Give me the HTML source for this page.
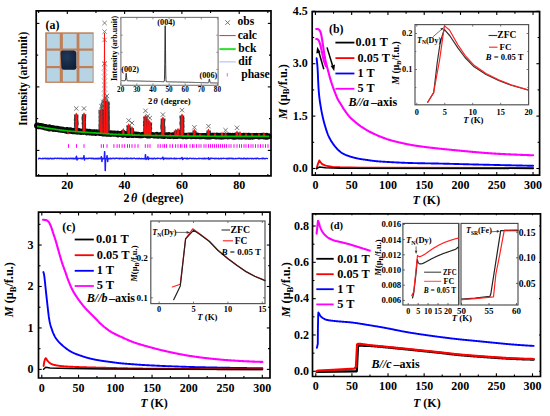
<!DOCTYPE html>
<html><head><meta charset="utf-8"><style>
html,body{margin:0;padding:0;background:#fff;width:550px;height:416px;overflow:hidden;}
svg{display:block;}
text{font-family:"Liberation Serif",serif;font-weight:bold;}
</style></head><body>
<svg width="550" height="416" viewBox="0 0 550 416"><rect width="550" height="416" fill="#fff"/><polyline points="37.00,125.63 37.60,125.58 38.20,126.15 38.80,125.74 39.40,126.26 40.00,126.22 40.60,126.05 41.20,126.56 41.80,126.25 42.40,126.71 43.00,126.49 43.60,126.61 44.20,127.01 44.80,127.48 45.40,126.95 46.00,127.14 46.60,127.60 47.20,127.98 47.80,127.75 48.40,127.68 49.00,128.30 49.60,127.55 50.20,128.38 50.80,127.96 51.40,127.92 52.00,127.98 52.60,128.25 53.20,128.80 53.80,128.31 54.40,128.77 55.00,128.91 55.60,128.76 56.20,129.00 56.80,128.66 57.40,128.74 58.00,128.96 58.60,129.47 59.20,129.33 59.80,129.31 60.40,129.64 61.00,129.60 61.60,129.54 62.20,130.07 62.80,130.06 63.40,129.73 64.00,130.10 64.60,130.13 65.20,130.51 65.80,130.45 66.40,130.12 67.00,130.81 67.60,130.10 68.20,130.43 68.80,130.80 69.40,130.31 70.00,130.67 70.60,130.32 71.20,130.94 71.80,131.08 72.40,130.96 73.00,131.29 73.60,130.83 74.20,131.23 74.80,131.19 75.40,131.22 76.00,131.16 76.60,131.55 77.20,131.69 77.80,131.31 78.40,131.53 79.00,131.03 79.60,131.65 80.20,131.65 80.80,132.00 81.40,131.89 82.00,131.45 82.60,131.58 83.20,131.88 83.80,131.34 84.40,131.77 85.00,131.55 85.60,131.54 86.20,131.53 86.80,132.21 87.40,131.68 88.00,131.82 88.60,131.99 89.20,132.47 89.80,131.79 90.40,132.17 91.00,132.30 91.60,132.64 92.20,132.62 92.80,132.70 93.40,132.22 94.00,132.38 94.60,132.37 95.20,132.89 95.80,133.00 96.40,132.32 97.00,132.38 97.60,132.48 98.20,132.52 98.80,132.80 99.40,132.94 100.00,132.69 100.60,132.50 101.20,132.92 101.80,132.93 102.40,133.15 103.00,133.55 103.60,133.36 104.20,133.25 104.80,133.39 105.40,133.48 106.00,132.97 106.60,133.78 107.20,133.72 107.80,133.85 108.40,133.82 109.00,133.50 109.60,133.55 110.20,133.33 110.80,133.85 111.40,133.37 112.00,133.42 112.60,133.58 113.20,133.58 113.80,133.78 114.40,133.55 115.00,133.54 115.60,133.71 116.20,133.69 116.80,133.96 117.40,133.69 118.00,134.48 118.60,134.27 119.20,133.88 119.80,133.99 120.40,134.11 121.00,134.15 121.60,133.95 122.20,134.63 122.80,134.78 123.40,134.33 124.00,134.37 124.60,134.04 125.20,134.08 125.80,134.32 126.40,134.27 127.00,134.80 127.60,134.22 128.20,134.12 128.80,134.97 129.40,134.61 130.00,134.29 130.60,134.67 131.20,134.22 131.80,134.69 132.40,135.12 133.00,135.04 133.60,134.90 134.20,134.53 134.80,134.65 135.40,134.49 136.00,135.05 136.60,134.85 137.20,135.09 137.80,134.70 138.40,134.63 139.00,135.17 139.60,135.35 140.20,135.24 140.80,135.22 141.40,135.25 142.00,135.19 142.60,134.75 143.20,135.02 143.80,134.89 144.40,134.62 145.00,134.63 145.60,134.87 146.20,134.87 146.80,135.27 147.40,135.52 148.00,135.08 148.60,135.54 149.20,135.60 149.80,135.58 150.40,135.06 151.00,134.95 151.60,134.97 152.20,134.95 152.80,134.97 153.40,135.36 154.00,135.62 154.60,135.58 155.20,135.27 155.80,135.44 156.40,135.58 157.00,134.95 157.60,135.48 158.20,135.72 158.80,135.62 159.40,135.60 160.00,135.37 160.60,135.11 161.20,135.67 161.80,135.27 162.40,135.70 163.00,135.87 163.60,135.36 164.20,135.38 164.80,135.88 165.40,135.70 166.00,135.21 166.60,135.18 167.20,135.21 167.80,135.90 168.40,135.83 169.00,135.24 169.60,135.87 170.20,136.02 170.80,135.74 171.40,135.47 172.00,135.66 172.60,135.29 173.20,135.20 173.80,136.07 174.40,135.79 175.00,135.69 175.60,136.07 176.20,135.63 176.80,136.03 177.40,136.00 178.00,135.46 178.60,135.51 179.20,135.55 179.80,135.51 180.40,135.83 181.00,135.55 181.60,135.70 182.20,135.45 182.80,136.16 183.40,135.67 184.00,135.77 184.60,135.89 185.20,136.19 185.80,135.76 186.40,136.22 187.00,135.85 187.60,135.89 188.20,135.89 188.80,135.44 189.40,135.83 190.00,135.60 190.60,135.45 191.20,136.17 191.80,135.61 192.40,135.89 193.00,136.12 193.60,135.98 194.20,135.78 194.80,135.96 195.40,135.99 196.00,136.21 196.60,135.60 197.20,136.01 197.80,135.74 198.40,135.77 199.00,136.22 199.60,135.99 200.20,136.04 200.80,136.22 201.40,136.36 202.00,135.94 202.60,136.10 203.20,136.01 203.80,136.02 204.40,136.18 205.00,135.97 205.60,136.05 206.20,136.00 206.80,136.42 207.40,136.21 208.00,136.37 208.60,136.43 209.20,135.82 209.80,136.10 210.40,136.45 211.00,136.36 211.60,135.73 212.20,135.72 212.80,136.01 213.40,135.68 214.00,135.84 214.60,135.69 215.20,136.23 215.80,136.34 216.40,136.44 217.00,135.78 217.60,136.29 218.20,136.24 218.80,135.78 219.40,136.45 220.00,136.53 220.60,135.86 221.20,136.52 221.80,136.02 222.40,136.11 223.00,136.56 223.60,136.42 224.20,135.82 224.80,136.07 225.40,136.15 226.00,135.99 226.60,135.87 227.20,135.98 227.80,136.35 228.40,135.72 229.00,136.20 229.60,136.10 230.20,135.73 230.80,136.01 231.40,136.28 232.00,136.18 232.60,135.78 233.20,136.61 233.80,136.44 234.40,136.61 235.00,135.83 235.60,135.98 236.20,135.77 236.80,136.44 237.40,135.99 238.00,135.86 238.60,136.13 239.20,136.57 239.80,136.49 240.40,135.99 241.00,135.90 241.60,136.59 242.20,136.28 242.80,136.40 243.40,135.85 244.00,135.83 244.60,136.40 245.20,136.16 245.80,135.85 246.40,136.63 247.00,136.36 247.60,136.51 248.20,135.87 248.80,136.56 249.40,135.85 250.00,136.57 250.60,136.21 251.20,136.11 251.80,136.30 252.40,136.64 253.00,136.05 253.60,135.93 254.20,136.29 254.80,136.03 255.40,135.91 256.00,135.96 256.60,135.86 257.20,136.00 257.80,136.10 258.40,136.10 259.00,136.51 259.60,136.09 260.20,136.28 260.80,135.99 261.40,136.14 262.00,135.85 262.60,136.06 263.20,135.85 263.80,136.50 264.40,136.34 265.00,136.01 265.60,136.27 266.20,136.69 266.80,135.94 267.40,136.58 268.00,136.24 268.60,136.29" fill="none" stroke="#0a0a0a" stroke-width="6.0" stroke-linejoin="round" stroke-linecap="round" />
<path d="M73.90,114.50 L74.16,115.93 L74.10,117.36 L73.99,118.79 L73.81,120.22 L74.19,121.65 L73.90,123.08 L73.98,124.51 L74.02,125.94 L74.16,127.36 L74.19,128.79 L74.37,130.22 L74.32,131.65 L78.24,131.65 L78.64,130.22 L78.35,128.79 L78.30,127.36 L78.25,125.94 L78.70,124.51 L78.72,123.08 L78.60,121.65 L78.37,120.22 L78.35,118.79 L78.38,117.36 L78.48,115.93 L78.29,114.50 Z" fill="#1a1a1a" opacity="0.88"/>
<path d="M81.83,114.30 L81.94,115.79 L81.52,117.28 L81.52,118.77 L81.77,120.27 L81.95,121.76 L81.52,123.25 L81.91,124.74 L81.89,126.23 L82.10,127.72 L81.87,129.22 L81.82,130.71 L81.80,132.20 L86.02,132.20 L86.20,130.71 L85.90,129.22 L86.06,127.72 L85.95,126.23 L86.14,124.74 L85.93,123.25 L85.91,121.76 L86.08,120.27 L86.04,118.77 L86.25,117.28 L86.22,115.79 L86.35,114.30 Z" fill="#1a1a1a" opacity="0.88"/>
<path d="M98.41,109.80 L98.37,111.28 L98.27,112.75 L98.57,114.23 L98.60,115.70 L98.21,117.18 L98.71,118.65 L98.37,120.13 L98.41,121.60 L98.77,123.08 L98.30,124.55 L98.26,126.03 L98.42,127.50 L98.36,128.98 L98.31,130.45 L98.72,131.93 L98.49,133.40 L104.30,133.40 L104.50,131.93 L104.48,130.45 L104.50,128.98 L104.35,127.50 L104.54,126.03 L104.41,124.55 L104.42,123.08 L104.14,121.60 L104.02,120.13 L104.08,118.65 L104.22,117.18 L104.06,115.70 L104.50,114.23 L104.34,112.75 L104.38,111.28 L104.38,109.80 Z" fill="#333" opacity="0.75"/>
<path d="M103.89,101.50 L104.01,102.97 L104.30,104.44 L103.82,105.91 L103.85,107.38 L104.00,108.85 L103.98,110.31 L103.90,111.78 L104.26,113.25 L103.86,114.72 L104.15,116.19 L104.26,117.66 L104.14,119.13 L103.86,120.60 L104.18,122.07 L103.86,123.54 L103.71,125.01 L104.00,126.48 L104.07,127.94 L104.01,129.41 L103.89,130.88 L103.84,132.35 L103.93,133.82 L109.89,133.82 L109.55,132.35 L109.59,130.88 L109.65,129.41 L109.95,127.94 L109.68,126.48 L109.84,125.01 L109.51,123.54 L109.54,122.07 L109.66,120.60 L109.90,119.13 L109.92,117.66 L109.91,116.19 L109.67,114.72 L109.81,113.25 L109.78,111.78 L109.78,110.31 L109.57,108.85 L110.04,107.38 L109.62,105.91 L110.09,104.44 L110.06,102.97 L109.51,101.50 Z" fill="#333" opacity="0.75"/>
<path d="M121.31,129.90 L121.10,131.10 L121.01,132.31 L121.32,133.51 L121.43,134.71 L125.14,134.71 L125.58,133.51 L125.14,132.31 L125.36,131.10 L125.10,129.90 Z" fill="#1a1a1a" opacity="0.88"/>
<path d="M126.49,125.20 L126.23,126.59 L126.72,127.97 L126.31,129.36 L126.49,130.75 L126.27,132.13 L126.38,133.52 L126.66,134.90 L131.14,134.90 L130.89,133.52 L130.61,132.13 L130.60,130.75 L130.90,129.36 L130.87,127.97 L130.78,126.59 L130.68,125.20 Z" fill="#1a1a1a" opacity="0.88"/>
<path d="M130.08,127.90 L130.10,129.32 L129.79,130.74 L130.29,132.17 L129.84,133.59 L129.79,135.01 L133.78,135.01 L134.27,133.59 L134.14,132.17 L134.25,130.74 L133.88,129.32 L133.93,127.90 Z" fill="#1a1a1a" opacity="0.88"/>
<path d="M133.13,135.30 L132.77,135.09 L136.38,135.09 L136.25,135.30 Z" fill="#1a1a1a" opacity="0.88"/>
<path d="M143.15,116.40 L143.24,117.86 L143.38,119.32 L143.35,120.78 L142.91,122.24 L143.24,123.70 L142.85,125.16 L143.26,126.62 L143.25,128.08 L143.10,129.54 L143.30,131.00 L143.19,132.46 L142.84,133.92 L142.88,135.38 L148.08,135.38 L147.97,133.92 L148.14,132.46 L148.15,131.00 L147.92,129.54 L148.02,128.08 L147.62,126.62 L148.03,125.16 L147.86,123.70 L148.04,122.24 L147.98,120.78 L147.76,119.32 L147.62,117.86 L148.15,116.40 Z" fill="#1a1a1a" opacity="0.88"/>
<path d="M145.82,120.60 L145.62,122.08 L145.69,123.57 L145.72,125.05 L145.46,126.53 L145.31,128.02 L145.74,129.50 L145.51,130.98 L145.72,132.47 L145.57,133.95 L145.66,135.43 L149.80,135.43 L149.80,133.95 L149.82,132.47 L150.24,130.98 L150.00,129.50 L149.83,128.02 L150.24,126.53 L150.30,125.05 L149.97,123.57 L149.78,122.08 L149.82,120.60 Z" fill="#1a1a1a" opacity="0.88"/>
<path d="M147.85,122.50 L147.69,123.94 L147.85,125.38 L147.76,126.83 L147.74,128.27 L147.56,129.71 L147.37,131.15 L147.45,132.59 L147.65,134.03 L147.65,135.48 L152.01,135.48 L151.93,134.03 L151.90,132.59 L151.74,131.15 L151.87,129.71 L152.28,128.27 L151.78,126.83 L152.00,125.38 L152.08,123.94 L152.22,122.50 Z" fill="#1a1a1a" opacity="0.88"/>
<path d="M160.68,118.50 L160.65,119.94 L160.66,121.37 L160.57,122.81 L160.54,124.24 L160.24,125.68 L160.30,127.11 L160.29,128.55 L160.80,129.98 L160.79,131.42 L160.38,132.86 L160.27,134.29 L160.53,135.73 L165.34,135.73 L164.99,134.29 L165.22,132.86 L165.55,131.42 L165.49,129.98 L165.50,128.55 L165.57,127.11 L165.14,125.68 L165.06,124.24 L165.08,122.81 L165.30,121.37 L165.40,119.94 L165.55,118.50 Z" fill="#1a1a1a" opacity="0.88"/>
<path d="M168.25,135.50 L168.29,135.85 L172.18,135.85 L171.99,135.50 Z" fill="#1a1a1a" opacity="0.88"/>
<path d="M173.56,130.70 L173.87,132.01 L173.42,133.32 L173.75,134.63 L173.34,135.94 L177.70,135.94 L177.49,134.63 L177.39,133.32 L177.46,132.01 L177.69,130.70 Z" fill="#1a1a1a" opacity="0.88"/>
<path d="M175.87,129.80 L176.22,131.04 L176.25,132.27 L175.98,133.51 L175.94,134.74 L176.06,135.98 L179.84,135.98 L180.07,134.74 L179.72,133.51 L179.89,132.27 L179.99,131.04 L180.29,129.80 Z" fill="#1a1a1a" opacity="0.88"/>
<path d="M179.52,115.50 L179.38,116.97 L179.62,118.43 L179.77,119.90 L179.76,121.37 L179.33,122.83 L179.49,124.30 L179.73,125.77 L179.90,127.23 L179.61,128.70 L179.51,130.17 L179.66,131.63 L179.76,133.10 L179.51,134.56 L179.35,136.03 L184.23,136.03 L184.11,134.56 L184.29,133.10 L184.34,131.63 L184.50,130.17 L184.21,128.70 L184.57,127.23 L184.53,125.77 L184.39,124.30 L184.21,122.83 L184.67,121.37 L184.28,119.90 L184.58,118.43 L184.23,116.97 L184.22,115.50 Z" fill="#1a1a1a" opacity="0.88"/>
<path d="M192.23,130.40 L192.51,131.84 L192.12,133.28 L192.39,134.72 L192.58,136.16 L196.24,136.16 L196.36,134.72 L196.51,133.28 L196.68,131.84 L196.20,130.40 Z" fill="#1a1a1a" opacity="0.88"/>
<path d="M206.36,130.40 L206.47,131.86 L206.02,133.32 L206.51,134.78 L206.57,136.24 L210.44,136.24 L210.64,134.78 L210.94,133.32 L210.93,131.86 L210.84,130.40 Z" fill="#1a1a1a" opacity="0.88"/>
<path d="M212.88,134.50 L212.92,135.38 L213.28,136.27 L216.63,136.27 L217.08,135.38 L216.97,134.50 Z" fill="#1a1a1a" opacity="0.88"/>
<path d="M220.46,133.50 L220.08,134.90 L220.25,136.30 L223.74,136.30 L223.72,134.90 L223.62,133.50 Z" fill="#1a1a1a" opacity="0.88"/>
<path d="M224.08,133.50 L223.91,134.91 L223.87,136.31 L227.69,136.31 L227.19,134.91 L227.70,133.50 Z" fill="#1a1a1a" opacity="0.88"/>
<path d="M234.98,132.50 L234.89,133.78 L234.61,135.07 L234.61,136.35 L239.16,136.35 L238.93,135.07 L239.18,133.78 L239.12,132.50 Z" fill="#1a1a1a" opacity="0.88"/>
<path d="M237.74,133.00 L238.17,134.12 L238.07,135.24 L237.75,136.36 L241.73,136.36 L241.96,135.24 L242.20,134.12 L242.17,133.00 Z" fill="#1a1a1a" opacity="0.88"/>
<path d="M244.46,134.50 L244.46,135.44 L244.44,136.37 L248.07,136.37 L247.67,135.44 L247.97,134.50 Z" fill="#1a1a1a" opacity="0.88"/>
<path d="M249.94,134.50 L250.28,135.44 L250.32,136.38 L254.09,136.38 L253.89,135.44 L253.68,134.50 Z" fill="#1a1a1a" opacity="0.88"/>
<path d="M257.05,134.50 L257.29,135.45 L257.31,136.39 L260.52,136.39 L260.97,135.45 L261.07,134.50 Z" fill="#1a1a1a" opacity="0.88"/>
<path d="M262.10,134.00 L261.91,135.20 L262.47,136.40 L265.66,136.40 L265.81,135.20 L266.09,134.00 Z" fill="#1a1a1a" opacity="0.88"/>
<path d="M114.10,135.00 L114.44,134.41 L117.48,134.41 L117.59,135.00 Z" fill="#1a1a1a" opacity="0.88"/>
<path d="M117.37,134.50 L117.11,134.54 L120.44,134.54 L120.81,134.50 Z" fill="#1a1a1a" opacity="0.88"/>
<path d="M137.23,135.00 L137.18,135.22 L140.79,135.22 L140.69,135.00 Z" fill="#1a1a1a" opacity="0.88"/>
<path d="M154.47,135.00 L154.48,135.60 L157.55,135.60 L157.80,135.00 Z" fill="#1a1a1a" opacity="0.88"/>
<path d="M186.43,134.50 L186.36,135.30 L186.03,136.10 L189.67,136.10 L189.56,135.30 L189.54,134.50 Z" fill="#1a1a1a" opacity="0.88"/>
<path d="M198.15,135.00 L198.28,136.20 L202.11,136.20 L202.05,135.00 Z" fill="#1a1a1a" opacity="0.88"/>
<path d="M Z" fill="#1a1a1a" opacity="0.88"/>
<path d="M102.00,62.00L106.00,66.00M102.00,66.00L106.00,62.00" stroke="#333" stroke-width="0.7" fill="none" opacity="0.45"/>
<path d="M103.20,62.00L107.20,66.00M103.20,66.00L107.20,62.00" stroke="#333" stroke-width="0.7" fill="none" opacity="0.45"/>
<path d="M102.00,66.20L106.00,70.20M102.00,70.20L106.00,66.20" stroke="#333" stroke-width="0.7" fill="none" opacity="0.45"/>
<path d="M103.20,66.20L107.20,70.20M103.20,70.20L107.20,66.20" stroke="#333" stroke-width="0.7" fill="none" opacity="0.45"/>
<path d="M102.00,70.40L106.00,74.40M102.00,74.40L106.00,70.40" stroke="#333" stroke-width="0.7" fill="none" opacity="0.45"/>
<path d="M103.20,70.40L107.20,74.40M103.20,74.40L107.20,70.40" stroke="#333" stroke-width="0.7" fill="none" opacity="0.45"/>
<path d="M102.00,74.60L106.00,78.60M102.00,78.60L106.00,74.60" stroke="#333" stroke-width="0.7" fill="none" opacity="0.45"/>
<path d="M103.20,74.60L107.20,78.60M103.20,78.60L107.20,74.60" stroke="#333" stroke-width="0.7" fill="none" opacity="0.45"/>
<path d="M102.00,78.80L106.00,82.80M102.00,82.80L106.00,78.80" stroke="#333" stroke-width="0.7" fill="none" opacity="0.45"/>
<path d="M103.20,78.80L107.20,82.80M103.20,82.80L107.20,78.80" stroke="#333" stroke-width="0.7" fill="none" opacity="0.45"/>
<path d="M102.00,83.00L106.00,87.00M102.00,87.00L106.00,83.00" stroke="#333" stroke-width="0.7" fill="none" opacity="0.45"/>
<path d="M103.20,83.00L107.20,87.00M103.20,87.00L107.20,83.00" stroke="#333" stroke-width="0.7" fill="none" opacity="0.45"/>
<path d="M102.00,87.20L106.00,91.20M102.00,91.20L106.00,87.20" stroke="#333" stroke-width="0.7" fill="none" opacity="0.45"/>
<path d="M103.20,87.20L107.20,91.20M103.20,91.20L107.20,87.20" stroke="#333" stroke-width="0.7" fill="none" opacity="0.45"/>
<path d="M102.00,91.40L106.00,95.40M102.00,95.40L106.00,91.40" stroke="#333" stroke-width="0.7" fill="none" opacity="0.45"/>
<path d="M103.20,91.40L107.20,95.40M103.20,95.40L107.20,91.40" stroke="#333" stroke-width="0.7" fill="none" opacity="0.45"/>
<path d="M102.00,95.60L106.00,99.60M102.00,99.60L106.00,95.60" stroke="#333" stroke-width="0.7" fill="none" opacity="0.45"/>
<path d="M103.20,95.60L107.20,99.60M103.20,99.60L107.20,95.60" stroke="#333" stroke-width="0.7" fill="none" opacity="0.45"/>
<path d="M101.20,99.80L105.20,103.80M101.20,103.80L105.20,99.80" stroke="#333" stroke-width="0.7" fill="none" opacity="0.8"/>
<path d="M104.00,99.80L108.00,103.80M104.00,103.80L108.00,99.80" stroke="#333" stroke-width="0.7" fill="none" opacity="0.8"/>
<path d="M101.20,104.00L105.20,108.00M101.20,108.00L105.20,104.00" stroke="#333" stroke-width="0.7" fill="none" opacity="0.8"/>
<path d="M104.00,104.00L108.00,108.00M104.00,108.00L108.00,104.00" stroke="#333" stroke-width="0.7" fill="none" opacity="0.8"/>
<path d="M101.20,108.20L105.20,112.20M101.20,112.20L105.20,108.20" stroke="#333" stroke-width="0.7" fill="none" opacity="0.8"/>
<path d="M104.00,108.20L108.00,112.20M104.00,112.20L108.00,108.20" stroke="#333" stroke-width="0.7" fill="none" opacity="0.8"/>
<path d="M101.20,112.40L105.20,116.40M101.20,116.40L105.20,112.40" stroke="#333" stroke-width="0.7" fill="none" opacity="0.8"/>
<path d="M104.00,112.40L108.00,116.40M104.00,116.40L108.00,112.40" stroke="#333" stroke-width="0.7" fill="none" opacity="0.8"/>
<path d="M101.20,116.60L105.20,120.60M101.20,120.60L105.20,116.60" stroke="#333" stroke-width="0.7" fill="none" opacity="0.8"/>
<path d="M104.00,116.60L108.00,120.60M104.00,120.60L108.00,116.60" stroke="#333" stroke-width="0.7" fill="none" opacity="0.8"/>
<path d="M101.20,120.80L105.20,124.80M101.20,124.80L105.20,120.80" stroke="#333" stroke-width="0.7" fill="none" opacity="0.8"/>
<path d="M104.00,120.80L108.00,124.80M104.00,124.80L108.00,120.80" stroke="#333" stroke-width="0.7" fill="none" opacity="0.8"/>
<path d="M101.20,125.00L105.20,129.00M101.20,129.00L105.20,125.00" stroke="#333" stroke-width="0.7" fill="none" opacity="0.8"/>
<path d="M104.00,125.00L108.00,129.00M104.00,129.00L108.00,125.00" stroke="#333" stroke-width="0.7" fill="none" opacity="0.8"/>
<path d="M99.2,131 L99.6,112 L100.5,104 L102,100 L107,96 L109,103 L109.6,112 L110,131 Z" fill="#222" opacity="0.55"/>
<path d="M102.40,20.80L106.80,25.20M102.40,25.20L106.80,20.80" stroke="#666" stroke-width="0.8" fill="none"/>
<path d="M102.40,29.50L106.80,33.90M102.40,33.90L106.80,29.50" stroke="#666" stroke-width="0.8" fill="none"/>
<path d="M102.40,37.70L106.80,42.10M102.40,42.10L106.80,37.70" stroke="#666" stroke-width="0.8" fill="none"/>
<path d="M102.40,61.20L106.80,65.60M102.40,65.60L106.80,61.20" stroke="#666" stroke-width="0.8" fill="none"/>
<path d="M74.85,131.65 L75.40,114.00 L76.30,112.50 L77.20,114.00 L77.75,131.65 Z" fill="#ff1010"/>
<path d="M82.55,132.20 L83.10,113.80 L84.00,112.30 L84.90,113.80 L85.45,132.20 Z" fill="#ff1010"/>
<path d="M99.95,133.40 L100.50,110.30 L101.40,108.80 L102.30,110.30 L102.85,133.40 Z" fill="#ff1010"/>
<path d="M103.40,133.64 L103.70,108.64 L104.00,33.00 L105.00,33.00 L105.30,108.64 L105.60,133.64 Z" fill="#ff1010"/>
<path d="M105.45,133.82 L106.00,102.00 L106.90,100.50 L107.80,102.00 L108.35,133.82 Z" fill="#ff1010"/>
<path d="M121.99,134.71 L122.49,129.40 L123.30,127.90 L124.11,129.40 L124.61,134.71 Z" fill="#ff1010"/>
<path d="M127.25,134.90 L127.80,124.70 L128.70,123.20 L129.60,124.70 L130.15,134.90 Z" fill="#ff1010"/>
<path d="M130.69,135.01 L131.19,127.40 L132.00,125.90 L132.81,127.40 L133.31,135.01 Z" fill="#ff1010"/>
<path d="M133.69,135.09 L134.07,134.80 L134.70,133.30 L135.33,134.80 L135.71,135.09 Z" fill="#ff1010"/>
<path d="M143.91,135.38 L144.51,115.90 L145.50,114.40 L146.49,115.90 L147.09,135.38 Z" fill="#ff1010"/>
<path d="M146.35,135.43 L146.90,120.10 L147.80,118.60 L148.70,120.10 L149.25,135.43 Z" fill="#ff1010"/>
<path d="M148.35,135.48 L148.90,122.00 L149.80,120.50 L150.70,122.00 L151.25,135.48 Z" fill="#ff1010"/>
<path d="M161.31,135.73 L161.91,118.00 L162.90,116.50 L163.89,118.00 L164.50,135.73 Z" fill="#ff1010"/>
<path d="M169.04,135.85 L169.48,135.00 L170.20,133.50 L170.92,135.00 L171.36,135.85 Z" fill="#ff1010"/>
<path d="M174.29,135.94 L174.79,130.20 L175.60,128.70 L176.41,130.20 L176.91,135.94 Z" fill="#ff1010"/>
<path d="M176.69,135.98 L177.19,129.30 L178.00,127.80 L178.81,129.30 L179.31,135.98 Z" fill="#ff1010"/>
<path d="M180.41,136.03 L181.01,115.00 L182.00,113.50 L182.99,115.00 L183.59,136.03 Z" fill="#ff1010"/>
<path d="M193.09,136.16 L193.59,129.90 L194.40,128.40 L195.21,129.90 L195.71,136.16 Z" fill="#ff1010"/>
<path d="M207.05,136.24 L207.60,129.90 L208.50,128.40 L209.40,129.90 L209.95,136.24 Z" fill="#ff1010"/>
<path d="M213.84,136.27 L214.28,134.00 L215.00,132.50 L215.72,134.00 L216.16,136.27 Z" fill="#ff1010"/>
<path d="M220.84,136.30 L221.28,133.00 L222.00,131.50 L222.72,133.00 L223.16,136.30 Z" fill="#ff1010"/>
<path d="M224.44,136.31 L224.88,133.00 L225.60,131.50 L226.32,133.00 L226.76,136.31 Z" fill="#ff1010"/>
<path d="M235.55,136.35 L236.10,132.00 L237.00,130.50 L237.90,132.00 L238.45,136.35 Z" fill="#ff1010"/>
<path d="M238.69,136.36 L239.19,132.50 L240.00,131.00 L240.81,132.50 L241.31,136.36 Z" fill="#ff1010"/>
<path d="M244.84,136.37 L245.28,134.00 L246.00,132.50 L246.72,134.00 L247.16,136.37 Z" fill="#ff1010"/>
<path d="M250.84,136.38 L251.28,134.00 L252.00,132.50 L252.72,134.00 L253.16,136.38 Z" fill="#ff1010"/>
<path d="M257.84,136.39 L258.28,134.00 L259.00,132.50 L259.72,134.00 L260.16,136.39 Z" fill="#ff1010"/>
<path d="M262.84,136.40 L263.28,133.50 L264.00,132.00 L264.72,133.50 L265.16,136.40 Z" fill="#ff1010"/>
<path d="M114.98,134.41 L115.37,134.50 L116.00,133.00 L116.63,134.50 L117.02,134.41 Z" fill="#ff1010"/>
<path d="M117.98,134.54 L118.37,134.00 L119.00,132.50 L119.63,134.00 L120.02,134.54 Z" fill="#ff1010"/>
<path d="M137.99,135.22 L138.37,134.50 L139.00,133.00 L139.63,134.50 L140.01,135.22 Z" fill="#ff1010"/>
<path d="M154.99,135.60 L155.37,134.50 L156.00,133.00 L156.63,134.50 L157.01,135.60 Z" fill="#ff1010"/>
<path d="M186.84,136.10 L187.28,134.00 L188.00,132.50 L188.72,134.00 L189.16,136.10 Z" fill="#ff1010"/>
<path d="M198.84,136.20 L199.28,134.50 L200.00,133.00 L200.72,134.50 L201.16,136.20 Z" fill="#ff1010"/>
<path d="M67.28,130.93 L67.55,135.00 L68.00,133.50 L68.45,135.00 L68.72,130.93 Z" fill="#ff1010"/>
<path d="M74.10,106.30L78.50,110.70M74.10,110.70L78.50,106.30" stroke="#555" stroke-width="0.8" fill="none"/>
<path d="M81.80,106.30L86.20,110.70M81.80,110.70L86.20,106.30" stroke="#555" stroke-width="0.8" fill="none"/>
<path d="M99.20,104.00L103.60,108.40M99.20,108.40L103.60,104.00" stroke="#555" stroke-width="0.8" fill="none"/>
<path d="M104.70,93.80L109.10,98.20M104.70,98.20L109.10,93.80" stroke="#555" stroke-width="0.8" fill="none"/>
<path d="M126.50,118.30L130.90,122.70M126.50,122.70L130.90,118.30" stroke="#555" stroke-width="0.8" fill="none"/>
<path d="M129.80,120.80L134.20,125.20M129.80,125.20L134.20,120.80" stroke="#555" stroke-width="0.8" fill="none"/>
<path d="M143.30,108.60L147.70,113.00M143.30,113.00L147.70,108.60" stroke="#555" stroke-width="0.8" fill="none"/>
<path d="M145.60,113.80L150.00,118.20M145.60,118.20L150.00,113.80" stroke="#555" stroke-width="0.8" fill="none"/>
<path d="M147.60,115.80L152.00,120.20M147.60,120.20L152.00,115.80" stroke="#555" stroke-width="0.8" fill="none"/>
<path d="M160.70,112.40L165.10,116.80M160.70,116.80L165.10,112.40" stroke="#555" stroke-width="0.8" fill="none"/>
<path d="M179.80,108.00L184.20,112.40M179.80,112.40L184.20,108.00" stroke="#555" stroke-width="0.8" fill="none"/>
<path d="M192.20,125.10L196.60,129.50M192.20,129.50L196.60,125.10" stroke="#555" stroke-width="0.8" fill="none"/>
<path d="M206.30,124.00L210.70,128.40M206.30,128.40L210.70,124.00" stroke="#555" stroke-width="0.8" fill="none"/>
<path d="M223.40,128.00L227.80,132.40M223.40,132.40L227.80,128.00" stroke="#555" stroke-width="0.8" fill="none"/>
<path d="M234.80,125.60L239.20,130.00M234.80,130.00L239.20,125.60" stroke="#555" stroke-width="0.8" fill="none"/>
<polyline points="36.50,126.19 37.50,126.38 38.50,126.56 39.50,126.75 40.50,126.92 41.50,127.10 42.50,127.28 43.50,127.45 44.50,127.62 45.50,127.79 46.50,127.95 47.50,128.11 48.50,128.27 49.50,128.42 50.50,128.58 51.50,128.73 52.50,128.88 53.50,129.03 54.50,129.18 55.50,129.33 56.50,129.47 57.50,129.62 58.50,129.76 59.50,129.90 60.50,130.04 61.50,130.17 62.50,130.30 63.50,130.42 64.50,130.55 65.50,130.66 66.50,130.77 67.50,130.88 68.50,130.98 69.50,131.08 70.50,131.17 71.50,131.26 72.50,131.34 73.50,131.43 74.50,131.51 75.50,131.59 76.50,131.67 77.50,131.74 78.50,131.82 79.50,131.89 80.50,131.96 81.50,132.03 82.50,132.10 83.50,132.17 84.50,132.23 85.50,132.30 86.50,132.36 87.50,132.43 88.50,132.50 89.50,132.56 90.50,132.63 91.50,132.69 92.50,132.76 93.50,132.83 94.50,132.90 95.50,132.96 96.50,133.04 97.50,133.11 98.50,133.18 99.50,133.26 100.50,133.33 101.50,133.41 102.50,133.49 103.50,133.56 104.50,133.64 105.50,133.72 106.50,133.79 107.50,133.86 108.50,133.94 109.50,134.01 110.50,134.08 111.50,134.14 112.50,134.21 113.50,134.27 114.50,134.33 115.50,134.38 116.50,134.43 117.50,134.48 118.50,134.52 119.50,134.56 120.50,134.60 121.50,134.64 122.50,134.68 123.50,134.72 124.50,134.76 125.50,134.79 126.50,134.83 127.50,134.86 128.50,134.90 129.50,134.93 130.50,134.96 131.50,135.00 132.50,135.03 133.50,135.06 134.50,135.09 135.50,135.12 136.50,135.15 137.50,135.18 138.50,135.20 139.50,135.23 140.50,135.26 141.50,135.28 142.50,135.31 143.50,135.33 144.50,135.36 145.50,135.38 146.50,135.40 147.50,135.43 148.50,135.45 149.50,135.47 150.50,135.49 151.50,135.51 152.50,135.53 153.50,135.55 154.50,135.57 155.50,135.59 156.50,135.61 157.50,135.63 158.50,135.65 159.50,135.66 160.50,135.68 161.50,135.70 162.50,135.72 163.50,135.74 164.50,135.76 165.50,135.77 166.50,135.79 167.50,135.81 168.50,135.83 169.50,135.84 170.50,135.86 171.50,135.88 172.50,135.89 173.50,135.91 174.50,135.92 175.50,135.94 176.50,135.95 177.50,135.97 178.50,135.98 179.50,136.00 180.50,136.01 181.50,136.02 182.50,136.04 183.50,136.05 184.50,136.06 185.50,136.08 186.50,136.09 187.50,136.10 188.50,136.11 189.50,136.12 190.50,136.13 191.50,136.14 192.50,136.15 193.50,136.16 194.50,136.16 195.50,136.17 196.50,136.18 197.50,136.19 198.50,136.19 199.50,136.20 200.50,136.20 201.50,136.21 202.50,136.21 203.50,136.22 204.50,136.22 205.50,136.23 206.50,136.23 207.50,136.24 208.50,136.24 209.50,136.24 210.50,136.25 211.50,136.25 212.50,136.26 213.50,136.26 214.50,136.27 215.50,136.27 216.50,136.28 217.50,136.28 218.50,136.28 219.50,136.29 220.50,136.29 221.50,136.30 222.50,136.30 223.50,136.30 224.50,136.31 225.50,136.31 226.50,136.31 227.50,136.32 228.50,136.32 229.50,136.32 230.50,136.33 231.50,136.33 232.50,136.33 233.50,136.34 234.50,136.34 235.50,136.34 236.50,136.35 237.50,136.35 238.50,136.35 239.50,136.36 240.50,136.36 241.50,136.36 242.50,136.36 243.50,136.37 244.50,136.37 245.50,136.37 246.50,136.37 247.50,136.37 248.50,136.38 249.50,136.38 250.50,136.38 251.50,136.38 252.50,136.38 253.50,136.39 254.50,136.39 255.50,136.39 256.50,136.39 257.50,136.39 258.50,136.39 259.50,136.39 260.50,136.39 261.50,136.40 262.50,136.40 263.50,136.40 264.50,136.40 265.50,136.40 266.50,136.40 267.50,136.40 268.50,136.40" fill="none" stroke="#00c000" stroke-width="1.7" stroke-linejoin="round" stroke-linecap="round" />
<line x1="68.50" y1="144.20" x2="68.50" y2="147.80" stroke="#ff00ff" stroke-width="1.0" />
<line x1="76.50" y1="144.20" x2="76.50" y2="147.80" stroke="#ff00ff" stroke-width="1.0" />
<line x1="84.00" y1="144.20" x2="84.00" y2="147.80" stroke="#ff00ff" stroke-width="1.0" />
<line x1="101.30" y1="144.20" x2="101.30" y2="147.80" stroke="#ff00ff" stroke-width="1.0" />
<line x1="103.50" y1="144.20" x2="103.50" y2="147.80" stroke="#ff00ff" stroke-width="1.0" />
<line x1="107.00" y1="144.20" x2="107.00" y2="147.80" stroke="#ff00ff" stroke-width="1.0" />
<line x1="113.90" y1="144.20" x2="113.90" y2="147.80" stroke="#ff00ff" stroke-width="1.0" />
<line x1="117.10" y1="144.20" x2="117.10" y2="147.80" stroke="#ff00ff" stroke-width="1.0" />
<line x1="119.30" y1="144.20" x2="119.30" y2="147.80" stroke="#ff00ff" stroke-width="1.0" />
<line x1="122.10" y1="144.20" x2="122.10" y2="147.80" stroke="#ff00ff" stroke-width="1.0" />
<line x1="124.70" y1="144.20" x2="124.70" y2="147.80" stroke="#ff00ff" stroke-width="1.0" />
<line x1="127.50" y1="144.20" x2="127.50" y2="147.80" stroke="#ff00ff" stroke-width="1.0" />
<line x1="129.50" y1="144.20" x2="129.50" y2="147.80" stroke="#ff00ff" stroke-width="1.0" />
<line x1="132.00" y1="144.20" x2="132.00" y2="147.80" stroke="#ff00ff" stroke-width="1.0" />
<line x1="135.00" y1="144.20" x2="135.00" y2="147.80" stroke="#ff00ff" stroke-width="1.0" />
<line x1="138.00" y1="144.20" x2="138.00" y2="147.80" stroke="#ff00ff" stroke-width="1.0" />
<line x1="145.30" y1="144.20" x2="145.30" y2="147.80" stroke="#ff00ff" stroke-width="1.0" />
<line x1="147.80" y1="144.20" x2="147.80" y2="147.80" stroke="#ff00ff" stroke-width="1.0" />
<line x1="150.00" y1="144.20" x2="150.00" y2="147.80" stroke="#ff00ff" stroke-width="1.0" />
<line x1="158.00" y1="144.20" x2="158.00" y2="147.80" stroke="#ff00ff" stroke-width="1.0" />
<line x1="160.30" y1="144.20" x2="160.30" y2="147.80" stroke="#ff00ff" stroke-width="1.0" />
<line x1="162.90" y1="144.20" x2="162.90" y2="147.80" stroke="#ff00ff" stroke-width="1.0" />
<line x1="164.50" y1="144.20" x2="164.50" y2="147.80" stroke="#ff00ff" stroke-width="1.0" />
<line x1="166.50" y1="144.20" x2="166.50" y2="147.80" stroke="#ff00ff" stroke-width="1.0" />
<line x1="170.00" y1="144.20" x2="170.00" y2="147.80" stroke="#ff00ff" stroke-width="1.0" />
<line x1="172.50" y1="144.20" x2="172.50" y2="147.80" stroke="#ff00ff" stroke-width="1.0" />
<line x1="175.60" y1="144.20" x2="175.60" y2="147.80" stroke="#ff00ff" stroke-width="1.0" />
<line x1="178.00" y1="144.20" x2="178.00" y2="147.80" stroke="#ff00ff" stroke-width="1.0" />
<line x1="180.50" y1="144.20" x2="180.50" y2="147.80" stroke="#ff00ff" stroke-width="1.0" />
<line x1="182.00" y1="144.20" x2="182.00" y2="147.80" stroke="#ff00ff" stroke-width="1.0" />
<line x1="184.50" y1="144.20" x2="184.50" y2="147.80" stroke="#ff00ff" stroke-width="1.0" />
<line x1="186.50" y1="144.20" x2="186.50" y2="147.80" stroke="#ff00ff" stroke-width="1.0" />
<line x1="190.00" y1="144.20" x2="190.00" y2="147.80" stroke="#ff00ff" stroke-width="1.0" />
<line x1="192.50" y1="144.20" x2="192.50" y2="147.80" stroke="#ff00ff" stroke-width="1.0" />
<line x1="194.00" y1="144.20" x2="194.00" y2="147.80" stroke="#ff00ff" stroke-width="1.0" />
<line x1="196.50" y1="144.20" x2="196.50" y2="147.80" stroke="#ff00ff" stroke-width="1.0" />
<line x1="199.00" y1="144.20" x2="199.00" y2="147.80" stroke="#ff00ff" stroke-width="1.0" />
<line x1="201.00" y1="144.20" x2="201.00" y2="147.80" stroke="#ff00ff" stroke-width="1.0" />
<line x1="204.00" y1="144.20" x2="204.00" y2="147.80" stroke="#ff00ff" stroke-width="1.0" />
<line x1="206.00" y1="144.20" x2="206.00" y2="147.80" stroke="#ff00ff" stroke-width="1.0" />
<line x1="208.50" y1="144.20" x2="208.50" y2="147.80" stroke="#ff00ff" stroke-width="1.0" />
<line x1="210.50" y1="144.20" x2="210.50" y2="147.80" stroke="#ff00ff" stroke-width="1.0" />
<line x1="212.50" y1="144.20" x2="212.50" y2="147.80" stroke="#ff00ff" stroke-width="1.0" />
<line x1="214.50" y1="144.20" x2="214.50" y2="147.80" stroke="#ff00ff" stroke-width="1.0" />
<line x1="216.50" y1="144.20" x2="216.50" y2="147.80" stroke="#ff00ff" stroke-width="1.0" />
<line x1="218.50" y1="144.20" x2="218.50" y2="147.80" stroke="#ff00ff" stroke-width="1.0" />
<line x1="220.50" y1="144.20" x2="220.50" y2="147.80" stroke="#ff00ff" stroke-width="1.0" />
<line x1="222.50" y1="144.20" x2="222.50" y2="147.80" stroke="#ff00ff" stroke-width="1.0" />
<line x1="224.50" y1="144.20" x2="224.50" y2="147.80" stroke="#ff00ff" stroke-width="1.0" />
<line x1="226.50" y1="144.20" x2="226.50" y2="147.80" stroke="#ff00ff" stroke-width="1.0" />
<line x1="229.00" y1="144.20" x2="229.00" y2="147.80" stroke="#ff00ff" stroke-width="1.0" />
<line x1="231.00" y1="144.20" x2="231.00" y2="147.80" stroke="#ff00ff" stroke-width="1.0" />
<line x1="234.00" y1="144.20" x2="234.00" y2="147.80" stroke="#ff00ff" stroke-width="1.0" />
<line x1="237.00" y1="144.20" x2="237.00" y2="147.80" stroke="#ff00ff" stroke-width="1.0" />
<line x1="239.50" y1="144.20" x2="239.50" y2="147.80" stroke="#ff00ff" stroke-width="1.0" />
<line x1="241.50" y1="144.20" x2="241.50" y2="147.80" stroke="#ff00ff" stroke-width="1.0" />
<line x1="244.00" y1="144.20" x2="244.00" y2="147.80" stroke="#ff00ff" stroke-width="1.0" />
<line x1="246.00" y1="144.20" x2="246.00" y2="147.80" stroke="#ff00ff" stroke-width="1.0" />
<line x1="248.50" y1="144.20" x2="248.50" y2="147.80" stroke="#ff00ff" stroke-width="1.0" />
<line x1="251.00" y1="144.20" x2="251.00" y2="147.80" stroke="#ff00ff" stroke-width="1.0" />
<line x1="253.00" y1="144.20" x2="253.00" y2="147.80" stroke="#ff00ff" stroke-width="1.0" />
<line x1="255.50" y1="144.20" x2="255.50" y2="147.80" stroke="#ff00ff" stroke-width="1.0" />
<line x1="258.00" y1="144.20" x2="258.00" y2="147.80" stroke="#ff00ff" stroke-width="1.0" />
<line x1="260.50" y1="144.20" x2="260.50" y2="147.80" stroke="#ff00ff" stroke-width="1.0" />
<line x1="263.00" y1="144.20" x2="263.00" y2="147.80" stroke="#ff00ff" stroke-width="1.0" />
<line x1="265.50" y1="144.20" x2="265.50" y2="147.80" stroke="#ff00ff" stroke-width="1.0" />
<line x1="268.00" y1="144.20" x2="268.00" y2="147.80" stroke="#ff00ff" stroke-width="1.0" />
<polyline points="38.50,158.94 38.80,158.29 39.10,158.13 39.40,158.14 39.70,158.50 40.00,158.69 40.30,158.45 40.60,158.26 40.90,158.43 41.20,158.61 41.50,158.66 41.80,158.72 42.10,158.81 42.40,158.65 42.70,158.16 43.00,158.81 43.30,158.31 43.60,158.56 43.90,158.39 44.20,158.71 44.50,158.23 44.80,158.27 45.10,158.27 45.40,158.19 45.70,158.85 46.00,158.57 46.30,158.34 46.60,158.41 46.90,158.94 47.20,158.51 47.50,158.26 47.80,158.78 48.10,158.64 48.40,158.94 48.70,158.14 49.00,158.48 49.30,158.79 49.60,158.81 49.90,158.87 50.20,158.09 50.50,158.31 50.80,158.16 51.10,158.22 51.40,158.93 51.70,158.57 52.00,158.89 52.30,158.39 52.60,158.83 52.90,158.45 53.20,158.28 53.50,158.75 53.80,158.90 54.10,158.15 54.40,158.59 54.70,158.61 55.00,158.25 55.30,158.38 55.60,158.18 55.90,158.23 56.20,158.28 56.50,158.59 56.80,158.64 57.10,158.23 57.40,158.06 57.70,158.34 58.00,158.66 58.30,158.22 58.60,158.33 58.90,158.23 59.20,158.77 59.50,158.54 59.80,158.11 60.10,158.14 60.40,158.41 60.70,158.55 61.00,158.63 61.30,158.13 61.60,158.20 61.90,158.68 62.20,158.42 62.50,158.30 62.80,158.33 63.10,158.91 63.40,158.33 63.70,158.56 64.00,158.37 64.30,158.42 64.60,158.83 64.90,158.95 65.20,158.38 65.50,158.23 65.80,158.71 66.10,158.23 66.40,158.06 66.70,158.86 67.00,158.43 67.30,158.79 67.60,158.42 67.90,158.84 68.20,158.46 68.50,158.20 68.80,158.06 69.10,158.55 69.40,158.63 69.70,158.87 70.00,158.13 70.30,158.61 70.60,158.38 70.90,158.50 71.20,158.18 71.50,158.30 71.80,158.52 72.10,158.88 72.40,158.15 72.70,158.49 73.00,158.77 73.30,158.92 73.60,158.23 73.90,158.16 74.20,158.90 74.50,158.93 74.80,158.48 75.10,158.10 75.40,158.88 75.70,158.40 76.00,158.86 76.30,156.00 76.60,156.00 76.90,160.00 77.20,160.00 77.50,158.25 77.80,158.41 78.10,158.81 78.40,158.80 78.70,158.21 79.00,158.25 79.30,158.41 79.60,158.52 79.90,158.40 80.20,158.16 80.50,158.27 80.80,158.70 81.10,158.86 81.40,158.09 81.70,158.56 82.00,158.73 82.30,158.08 82.60,158.80 82.90,158.16 83.20,158.59 83.50,158.55 83.80,155.50 84.10,155.50 84.40,160.00 84.70,160.00 85.00,158.43 85.30,158.64 85.60,158.45 85.90,158.44 86.20,158.07 86.50,158.61 86.80,158.49 87.10,158.26 87.40,158.74 87.70,158.75 88.00,158.46 88.30,158.21 88.60,158.48 88.90,158.15 89.20,158.17 89.50,158.44 89.80,158.13 90.10,158.45 90.40,158.51 90.70,158.09 91.00,158.62 91.30,158.12 91.60,158.71 91.90,158.75 92.20,158.51 92.50,158.10 92.80,158.50 93.10,158.39 93.40,158.91 93.70,158.17 94.00,158.82 94.30,158.95 94.60,158.71 94.90,158.78 95.20,158.22 95.50,158.93 95.80,158.49 96.10,158.91 96.40,158.87 96.70,158.20 97.00,158.76 97.30,158.89 97.60,158.11 97.90,158.37 98.20,158.73 98.50,158.19 98.80,158.86 99.10,158.30 99.40,158.78 99.70,158.18 100.00,158.50 100.30,158.88 100.60,158.24 100.90,158.29 101.20,156.50 101.50,156.50 101.80,161.50 102.10,161.50 102.40,158.20 102.70,158.89 103.00,158.66 103.30,158.86 103.60,158.20 103.90,158.76 104.20,158.15 104.50,151.50 104.80,151.50 105.10,170.50 105.40,170.50 105.70,158.55 106.00,158.57 106.30,158.84 106.60,158.14 106.90,155.50 107.20,155.50 107.50,161.50 107.80,161.50 108.10,158.29 108.40,158.94 108.70,158.57 109.00,158.37 109.30,158.74 109.60,158.45 109.90,158.21 110.20,158.72 110.50,158.09 110.80,158.79 111.10,158.28 111.40,158.63 111.70,158.94 112.00,158.58 112.30,158.65 112.60,158.33 112.90,158.05 113.20,158.08 113.50,158.18 113.80,158.60 114.10,158.44 114.40,158.51 114.70,158.86 115.00,158.17 115.30,158.25 115.60,158.64 115.90,158.07 116.20,158.05 116.50,158.37 116.80,158.15 117.10,158.37 117.40,158.25 117.70,158.58 118.00,158.58 118.30,158.23 118.60,158.61 118.90,158.48 119.20,158.17 119.50,158.89 119.80,158.27 120.10,158.18 120.40,158.14 120.70,158.62 121.00,158.83 121.30,158.75 121.60,158.41 121.90,158.29 122.20,158.06 122.50,158.63 122.80,158.56 123.10,158.37 123.40,158.63 123.70,158.45 124.00,158.89 124.30,158.71 124.60,158.27 124.90,158.86 125.20,158.09 125.50,158.53 125.80,158.42 126.10,158.26 126.40,158.10 126.70,158.75 127.00,158.06 127.30,158.55 127.60,158.90 127.90,158.18 128.20,158.23 128.50,158.60 128.80,158.51 129.10,158.63 129.40,158.78 129.70,158.21 130.00,158.33 130.30,158.32 130.60,158.09 130.90,158.85 131.20,158.75 131.50,158.69 131.80,158.06 132.10,158.81 132.40,158.72 132.70,158.47 133.00,158.72 133.30,158.46 133.60,158.25 133.90,158.14 134.20,158.26 134.50,158.08 134.80,158.35 135.10,158.72 135.40,158.68 135.70,158.81 136.00,158.69 136.30,158.29 136.60,158.55 136.90,158.44 137.20,158.76 137.50,158.52 137.80,158.29 138.10,158.63 138.40,158.92 138.70,158.25 139.00,158.84 139.30,158.06 139.60,158.28 139.90,158.26 140.20,158.72 140.50,158.90 140.80,158.72 141.10,158.34 141.40,158.84 141.70,158.35 142.00,158.27 142.30,158.87 142.60,158.62 142.90,158.67 143.20,158.65 143.50,158.93 143.80,158.47 144.10,158.81 144.40,158.68 144.70,158.82 145.00,158.44 145.30,154.50 145.60,154.50 145.90,159.50 146.20,159.50 146.50,158.61 146.80,158.12 147.10,158.87 147.40,158.18 147.70,156.50 148.00,156.50 148.30,159.50 148.60,159.50 148.90,158.18 149.20,158.08 149.50,158.09 149.80,158.67 150.10,158.62 150.40,158.68 150.70,158.71 151.00,158.11 151.30,158.58 151.60,158.38 151.90,158.79 152.20,158.79 152.50,158.85 152.80,158.11 153.10,158.83 153.40,158.87 153.70,158.90 154.00,158.15 154.30,158.24 154.60,158.15 154.90,158.08 155.20,158.81 155.50,158.78 155.80,158.62 156.10,158.79 156.40,158.62 156.70,158.31 157.00,158.14 157.30,158.14 157.60,158.73 157.90,158.23 158.20,158.34 158.50,158.43 158.80,158.07 159.10,158.28 159.40,158.30 159.70,158.69 160.00,158.38 160.30,158.34 160.60,158.92 160.90,158.50 161.20,158.82 161.50,158.61 161.80,158.08 162.10,158.42 162.40,158.44 162.70,157.00 163.00,157.00 163.30,159.50 163.60,159.50 163.90,158.24 164.20,158.83 164.50,158.13 164.80,158.79 165.10,158.20 165.40,158.05 165.70,158.23 166.00,158.74 166.30,158.93 166.60,158.05 166.90,158.49 167.20,158.49 167.50,158.77 167.80,158.22 168.10,158.50 168.40,158.36 168.70,158.80 169.00,158.28 169.30,158.90 169.60,158.31 169.90,158.24 170.20,158.68 170.50,158.50 170.80,158.15 171.10,158.62 171.40,158.12 171.70,158.76 172.00,158.68 172.30,158.76 172.60,158.62 172.90,158.37 173.20,158.41 173.50,158.41 173.80,158.85 174.10,158.13 174.40,158.85 174.70,158.07 175.00,158.24 175.30,158.29 175.60,158.86 175.90,158.50 176.20,158.39 176.50,158.85 176.80,158.26 177.10,158.46 177.40,158.53 177.70,158.73 178.00,158.73 178.30,158.63 178.60,158.36 178.90,158.34 179.20,158.19 179.50,158.81 179.80,158.65 180.10,158.72 180.40,158.20 180.70,158.44 181.00,158.75 181.30,158.57 181.60,158.16 181.90,157.30 182.20,157.30 182.50,159.50 182.80,159.50 183.10,158.32 183.40,158.68 183.70,158.81 184.00,158.19 184.30,158.19 184.60,158.27 184.90,158.34 185.20,158.52 185.50,158.19 185.80,158.35 186.10,158.22 186.40,158.93 186.70,158.71 187.00,158.14 187.30,158.92 187.60,158.14 187.90,158.40 188.20,158.94 188.50,158.77 188.80,158.71 189.10,158.44 189.40,158.23 189.70,158.62 190.00,158.15 190.30,158.24 190.60,158.40 190.90,158.08 191.20,158.41 191.50,158.76 191.80,158.67 192.10,158.50 192.40,158.62 192.70,158.47 193.00,158.18 193.30,158.59 193.60,158.41 193.90,158.72 194.20,158.87 194.50,158.44 194.80,158.57 195.10,158.72 195.40,158.43 195.70,158.26 196.00,158.70 196.30,158.84 196.60,158.75 196.90,158.68 197.20,158.82 197.50,158.66 197.80,158.63 198.10,158.46 198.40,158.33 198.70,158.62 199.00,158.14 199.30,158.43 199.60,158.75 199.90,158.69 200.20,158.62 200.50,158.28 200.80,158.43 201.10,158.46 201.40,158.61 201.70,158.42 202.00,158.66 202.30,158.89 202.60,158.21 202.90,158.64 203.20,158.75 203.50,158.40 203.80,158.49 204.10,158.93 204.40,158.08 204.70,158.54 205.00,158.19 205.30,158.75 205.60,158.90 205.90,158.52 206.20,158.14 206.50,158.57 206.80,158.54 207.10,158.70 207.40,158.51 207.70,158.63 208.00,158.80 208.30,157.50 208.60,157.50 208.90,159.50 209.20,159.50 209.50,158.67 209.80,158.40 210.10,158.74 210.40,158.16 210.70,158.94 211.00,158.37 211.30,158.10 211.60,158.30 211.90,158.41 212.20,158.06 212.50,158.43 212.80,158.43 213.10,158.68 213.40,158.37 213.70,158.29 214.00,158.25 214.30,158.72 214.60,158.90 214.90,158.52 215.20,158.25 215.50,158.77 215.80,158.40 216.10,158.24 216.40,158.17 216.70,158.75 217.00,158.78 217.30,158.62 217.60,158.47 217.90,158.56 218.20,158.25 218.50,158.92 218.80,158.37 219.10,158.62 219.40,158.79 219.70,158.78 220.00,158.47 220.30,158.31 220.60,158.54 220.90,158.16 221.20,158.80 221.50,158.37 221.80,158.82 222.10,158.29 222.40,158.39 222.70,158.28 223.00,158.43 223.30,158.22 223.60,158.05 223.90,158.70 224.20,158.30 224.50,158.27 224.80,158.32 225.10,158.48 225.40,158.44 225.70,158.62 226.00,158.64 226.30,158.38 226.60,158.89 226.90,158.82 227.20,158.10 227.50,158.80 227.80,158.87 228.10,158.76 228.40,158.18 228.70,158.80 229.00,158.62 229.30,158.06 229.60,158.06 229.90,158.91 230.20,158.64 230.50,158.28 230.80,158.14 231.10,158.18 231.40,158.26 231.70,158.75 232.00,158.36 232.30,158.19 232.60,158.86 232.90,158.76 233.20,158.20 233.50,158.85 233.80,158.60 234.10,158.75 234.40,158.65 234.70,158.85 235.00,158.76 235.30,158.80 235.60,158.23 235.90,158.67 236.20,158.53 236.50,158.72 236.80,158.44 237.10,158.84 237.40,158.55 237.70,158.29 238.00,158.26 238.30,158.18 238.60,158.49 238.90,158.10 239.20,158.47 239.50,158.18 239.80,158.49 240.10,158.50 240.40,158.54 240.70,158.83 241.00,158.06 241.30,158.81 241.60,158.47 241.90,158.56 242.20,158.65 242.50,158.81 242.80,158.39 243.10,158.43 243.40,158.91 243.70,158.12 244.00,158.62 244.30,158.62 244.60,158.08 244.90,158.60 245.20,158.66 245.50,158.89 245.80,158.35 246.10,158.93 246.40,158.51 246.70,158.49 247.00,158.86 247.30,158.08 247.60,158.70 247.90,158.61 248.20,158.35 248.50,158.83 248.80,158.38 249.10,158.48 249.40,158.52 249.70,158.74 250.00,158.24 250.30,158.44 250.60,158.43 250.90,158.55 251.20,158.79 251.50,158.31 251.80,158.79 252.10,158.41 252.40,158.50 252.70,158.29 253.00,158.51 253.30,158.93 253.60,158.64 253.90,158.76 254.20,158.35 254.50,158.34 254.80,158.32 255.10,158.58 255.40,158.62 255.70,158.76 256.00,158.09 256.30,158.70 256.60,158.85 256.90,158.54 257.20,158.09 257.50,158.32 257.80,158.06 258.10,158.22 258.40,158.88 258.70,158.60 259.00,158.64 259.30,158.76 259.60,158.87 259.90,158.60 260.20,158.61 260.50,158.61 260.80,158.68 261.10,158.59 261.40,158.66 261.70,158.24 262.00,158.65 262.30,158.46 262.60,158.74 262.90,158.14 263.20,158.21 263.50,158.08 263.80,158.75 264.10,158.87 264.40,158.64 264.70,158.38 265.00,158.79 265.30,158.76 265.60,158.56 265.90,158.28 266.20,158.32 266.50,158.43 266.80,158.34 267.10,158.44 267.40,158.63" fill="none" stroke="#1c1cff" stroke-width="1.25" stroke-linejoin="round" stroke-linecap="round" />
<line x1="67.30" y1="175.90" x2="67.30" y2="172.70" stroke="#000" stroke-width="1.1" />
<line x1="67.30" y1="10.90" x2="67.30" y2="14.10" stroke="#000" stroke-width="1.1" />
<line x1="124.60" y1="175.90" x2="124.60" y2="172.70" stroke="#000" stroke-width="1.1" />
<line x1="124.60" y1="10.90" x2="124.60" y2="14.10" stroke="#000" stroke-width="1.1" />
<line x1="181.90" y1="175.90" x2="181.90" y2="172.70" stroke="#000" stroke-width="1.1" />
<line x1="181.90" y1="10.90" x2="181.90" y2="14.10" stroke="#000" stroke-width="1.1" />
<line x1="239.20" y1="175.90" x2="239.20" y2="172.70" stroke="#000" stroke-width="1.1" />
<line x1="239.20" y1="10.90" x2="239.20" y2="14.10" stroke="#000" stroke-width="1.1" />
<line x1="38.65" y1="175.90" x2="38.65" y2="173.90" stroke="#000" stroke-width="1.1" />
<line x1="38.65" y1="10.90" x2="38.65" y2="12.90" stroke="#000" stroke-width="1.1" />
<line x1="95.95" y1="175.90" x2="95.95" y2="173.90" stroke="#000" stroke-width="1.1" />
<line x1="95.95" y1="10.90" x2="95.95" y2="12.90" stroke="#000" stroke-width="1.1" />
<line x1="153.25" y1="175.90" x2="153.25" y2="173.90" stroke="#000" stroke-width="1.1" />
<line x1="153.25" y1="10.90" x2="153.25" y2="12.90" stroke="#000" stroke-width="1.1" />
<line x1="210.55" y1="175.90" x2="210.55" y2="173.90" stroke="#000" stroke-width="1.1" />
<line x1="210.55" y1="10.90" x2="210.55" y2="12.90" stroke="#000" stroke-width="1.1" />
<line x1="267.85" y1="175.90" x2="267.85" y2="173.90" stroke="#000" stroke-width="1.1" />
<line x1="267.85" y1="10.90" x2="267.85" y2="12.90" stroke="#000" stroke-width="1.1" />
<line x1="36.20" y1="23.40" x2="39.40" y2="23.40" stroke="#000" stroke-width="1.1" />
<line x1="271.00" y1="23.40" x2="267.80" y2="23.40" stroke="#000" stroke-width="1.1" />
<line x1="36.20" y1="86.90" x2="39.40" y2="86.90" stroke="#000" stroke-width="1.1" />
<line x1="271.00" y1="86.90" x2="267.80" y2="86.90" stroke="#000" stroke-width="1.1" />
<line x1="36.20" y1="150.40" x2="39.40" y2="150.40" stroke="#000" stroke-width="1.1" />
<line x1="271.00" y1="150.40" x2="267.80" y2="150.40" stroke="#000" stroke-width="1.1" />
<line x1="36.20" y1="55.10" x2="38.20" y2="55.10" stroke="#000" stroke-width="1.1" />
<line x1="271.00" y1="55.10" x2="269.00" y2="55.10" stroke="#000" stroke-width="1.1" />
<line x1="36.20" y1="118.60" x2="38.20" y2="118.60" stroke="#000" stroke-width="1.1" />
<line x1="271.00" y1="118.60" x2="269.00" y2="118.60" stroke="#000" stroke-width="1.1" />
<path d="M36.20,10.90 H271.00 V175.90 H36.20 Z" fill="none" stroke="#000" stroke-width="1.7" stroke-linejoin="miter"/>
<text x="67.30" y="188.80" font-size="12" text-anchor="middle" font-family="Liberation Serif" font-weight="bold" >20</text>
<text x="124.60" y="188.80" font-size="12" text-anchor="middle" font-family="Liberation Serif" font-weight="bold" >40</text>
<text x="181.90" y="188.80" font-size="12" text-anchor="middle" font-family="Liberation Serif" font-weight="bold" >60</text>
<text x="239.20" y="188.80" font-size="12" text-anchor="middle" font-family="Liberation Serif" font-weight="bold" >80</text>
<text x="153.50" y="202.30" font-size="12" text-anchor="middle" font-family="Liberation Serif" font-weight="bold" >2<tspan font-style="italic" dx="1.5">θ</tspan><tspan dx="1.5"> (degree)</tspan></text>
<text x="27.20" y="78.70" font-size="11.5" text-anchor="middle" font-family="Liberation Serif" font-weight="bold" transform="rotate(-90 27.2 78.7)">Intensity (arb.unit)</text>
<path d="M225.30,20.30L229.90,24.90M225.30,24.90L229.90,20.30" stroke="#666" stroke-width="0.9" fill="none"/>
<text x="237.50" y="25.20" font-size="11.6" text-anchor="start" font-family="Liberation Serif" font-weight="bold" >obs</text>
<line x1="219.40" y1="35.60" x2="235.70" y2="35.60" stroke="#ff2020" stroke-width="1.0" />
<text x="237.70" y="38.70" font-size="11.6" text-anchor="start" font-family="Liberation Serif" font-weight="bold" >calc</text>
<line x1="219.40" y1="49.10" x2="235.70" y2="49.10" stroke="#30e030" stroke-width="2.0" />
<text x="238.30" y="52.10" font-size="11.6" text-anchor="start" font-family="Liberation Serif" font-weight="bold" >bck</text>
<line x1="219.40" y1="61.90" x2="235.70" y2="61.90" stroke="#b0b0ff" stroke-width="1.0" />
<text x="238.30" y="64.90" font-size="11.6" text-anchor="start" font-family="Liberation Serif" font-weight="bold" >dif</text>
<line x1="227.30" y1="73.10" x2="227.30" y2="76.50" stroke="#ff40ff" stroke-width="0.9" />
<text x="241.20" y="77.80" font-size="11.6" text-anchor="start" font-family="Liberation Serif" font-weight="bold" >phase</text>
<text x="45.60" y="29.00" font-size="11.9" text-anchor="start" font-family="Liberation Serif" font-weight="bold" >(a)</text>
<rect x="45.2" y="32.3" width="48.4" height="50.6" fill="#c07f58"/>
<rect x="46.8" y="33.8" width="13.0" height="14.7" fill="#b6d4e3"/>
<rect x="46.8" y="50.7" width="13.0" height="15.3" fill="#b6d4e3"/>
<rect x="46.8" y="68.2" width="13.0" height="13.4" fill="#b6d4e3"/>
<rect x="62.9" y="33.8" width="13.7" height="14.7" fill="#b6d4e3"/>
<rect x="62.9" y="50.7" width="13.7" height="15.3" fill="#b6d4e3"/>
<rect x="62.9" y="68.2" width="13.7" height="13.4" fill="#b6d4e3"/>
<rect x="79.4" y="33.8" width="13.3" height="14.7" fill="#b6d4e3"/>
<rect x="79.4" y="50.7" width="13.3" height="15.3" fill="#b6d4e3"/>
<rect x="79.4" y="68.2" width="13.3" height="13.4" fill="#b6d4e3"/>
<defs><radialGradient id="cg" cx="0.4" cy="0.35" r="0.8"><stop offset="0" stop-color="#203a5c"/><stop offset="1" stop-color="#0c1a30"/></radialGradient></defs>
<path d="M60.6,53.5 Q60.4,51.2 62.4,50.6 L73.8,50.4 Q76.2,50.5 76.3,52.8 L76.3,67.5 Q76.2,69.7 74.2,69.8 L63.6,69.8 Q61.6,69.7 61.4,67.6 Z" fill="url(#cg)"/>
<polyline points="121.70,80.62 121.85,80.63 122.00,80.63 122.15,80.64 122.30,80.64 122.45,80.64 122.60,80.65 122.75,80.65 122.90,80.65 123.05,80.66 123.20,80.66 123.35,80.67 123.50,80.67 123.65,80.67 123.80,80.68 123.95,80.68 124.10,80.68 124.25,80.69 124.40,80.69 124.55,80.70 124.70,80.70 124.85,80.70 125.00,80.69 125.15,80.63 125.30,80.44 125.45,79.95 125.60,78.95 125.75,77.33 125.90,75.38 126.05,73.76 126.20,73.25 126.35,74.10 126.50,75.89 126.65,77.82 126.80,79.30 126.95,80.16 127.10,80.56 127.25,80.71 127.40,80.75 127.55,80.77 127.70,80.77 127.85,80.78 128.00,80.78 128.15,80.78 128.30,80.79 128.45,80.79 128.60,80.80 128.75,80.80 128.90,80.80 129.05,80.81 129.20,80.81 129.35,80.81 129.50,80.82 129.65,80.82 129.80,80.83 129.95,80.83 130.10,80.83 130.25,80.84 130.40,80.84 130.55,80.84 130.70,80.85 130.85,80.85 131.00,80.86 131.15,80.86 131.30,80.86 131.45,80.87 131.60,80.87 131.75,80.87 131.90,80.88 132.05,80.88 132.20,80.89 132.35,80.89 132.50,80.89 132.65,80.90 132.80,80.90 132.95,80.90 133.10,80.91 133.25,80.91 133.40,80.92 133.55,80.92 133.70,80.92 133.85,80.93 134.00,80.93 134.15,80.93 134.30,80.94 134.45,80.94 134.60,80.94 134.75,80.95 134.90,80.95 135.05,80.96 135.20,80.96 135.35,80.96 135.50,80.97 135.65,80.97 135.80,80.97 135.95,80.98 136.10,80.98 136.25,80.99 136.40,80.99 136.55,80.99 136.70,81.00 136.85,81.00 137.00,81.00 137.15,81.01 137.30,81.01 137.45,81.02 137.60,81.02 137.75,81.02 137.90,81.03 138.05,81.03 138.20,81.03 138.35,81.04 138.50,81.04 138.65,81.05 138.80,81.05 138.95,81.05 139.10,81.06 139.25,81.06 139.40,81.06 139.55,81.07 139.70,81.07 139.85,81.08 140.00,81.08 140.15,81.08 140.30,81.09 140.45,81.09 140.60,81.09 140.75,81.10 140.90,81.10 141.05,81.10 141.20,81.11 141.35,81.11 141.50,81.12 141.65,81.12 141.80,81.12 141.95,81.13 142.10,81.13 142.25,81.13 142.40,81.14 142.55,81.14 142.70,81.15 142.85,81.15 143.00,81.15 143.15,81.16 143.30,81.16 143.45,81.16 143.60,81.17 143.75,81.17 143.90,81.18 144.05,81.18 144.20,81.18 144.35,81.19 144.50,81.19 144.65,81.19 144.80,81.20 144.95,81.20 145.10,81.21 145.25,81.21 145.40,81.21 145.55,81.22 145.70,81.22 145.85,81.22 146.00,81.23 146.15,81.23 146.30,81.24 146.45,81.24 146.60,81.24 146.75,81.25 146.90,81.25 147.05,81.25 147.20,81.26 147.35,81.26 147.50,81.27 147.65,81.27 147.80,81.27 147.95,81.28 148.10,81.28 148.25,81.28 148.40,81.29 148.55,81.29 148.70,81.29 148.85,81.30 149.00,81.30 149.15,81.31 149.30,81.31 149.45,81.31 149.60,81.32 149.75,81.32 149.90,81.32 150.05,81.33 150.20,81.33 150.35,81.34 150.50,81.34 150.65,81.34 150.80,81.35 150.95,81.35 151.10,81.35 151.25,81.36 151.40,81.36 151.55,81.37 151.70,81.37 151.85,81.37 152.00,81.38 152.15,81.38 152.30,81.38 152.45,81.39 152.60,81.39 152.75,81.40 152.90,81.40 153.05,81.40 153.20,81.41 153.35,81.41 153.50,81.41 153.65,81.42 153.80,81.42 153.95,81.43 154.10,81.43 154.25,81.43 154.40,81.44 154.55,81.44 154.70,81.44 154.85,81.45 155.00,81.45 155.15,81.45 155.30,81.46 155.45,81.46 155.60,81.47 155.75,81.47 155.90,81.47 156.05,81.48 156.20,81.48 156.35,81.48 156.50,81.49 156.65,81.49 156.80,81.50 156.95,81.50 157.10,81.50 157.25,81.51 157.40,81.51 157.55,81.51 157.70,81.52 157.85,81.52 158.00,81.53 158.15,81.53 158.30,81.53 158.45,81.54 158.60,81.54 158.75,81.54 158.90,81.55 159.05,81.55 159.20,81.56 159.35,81.56 159.50,81.56 159.65,81.57 159.80,81.57 159.95,81.57 160.10,81.58 160.25,81.58 160.40,81.59 160.55,81.59 160.70,81.59 160.85,81.60 161.00,81.60 161.15,81.60 161.30,81.61 161.45,81.61 161.60,81.61 161.75,81.62 161.90,81.62 162.05,81.63 162.20,81.63 162.35,81.63 162.50,81.64 162.65,81.64 162.80,81.64 162.95,81.65 163.10,81.65 163.25,81.66 163.40,81.66 163.55,81.66 163.70,81.67 163.85,81.67 164.00,81.66 164.15,81.56 164.30,81.07 164.45,79.23 164.60,74.03 164.75,63.20 164.90,47.14 165.05,31.71 165.20,25.73 165.35,33.20 165.50,49.17 165.65,64.82 165.80,74.93 165.95,79.61 166.10,81.22 166.25,81.64 166.40,81.72 166.55,81.74 166.70,81.74 166.85,81.75 167.00,81.75 167.15,81.75 167.30,81.76 167.45,81.76 167.60,81.76 167.75,81.77 167.90,81.77 168.05,81.77 168.20,81.78 168.35,81.78 168.50,81.79 168.65,81.79 168.80,81.79 168.95,81.80 169.10,81.80 169.25,81.80 169.40,81.81 169.55,81.81 169.70,81.82 169.85,81.82 170.00,81.82 170.15,81.83 170.30,81.83 170.45,81.83 170.60,81.84 170.75,81.84 170.90,81.85 171.05,81.85 171.20,81.85 171.35,81.86 171.50,81.86 171.65,81.86 171.80,81.87 171.95,81.87 172.10,81.88 172.25,81.88 172.40,81.88 172.55,81.89 172.70,81.89 172.85,81.89 173.00,81.90 173.15,81.90 173.30,81.91 173.45,81.91 173.60,81.91 173.75,81.92 173.90,81.92 174.05,81.92 174.20,81.93 174.35,81.93 174.50,81.93 174.65,81.94 174.80,81.94 174.95,81.95 175.10,81.95 175.25,81.95 175.40,81.96 175.55,81.96 175.70,81.96 175.85,81.97 176.00,81.97 176.15,81.98 176.30,81.98 176.45,81.98 176.60,81.99 176.75,81.99 176.90,81.99 177.05,82.00 177.20,82.00 177.35,82.01 177.50,82.01 177.65,82.01 177.80,82.02 177.95,82.02 178.10,82.02 178.25,82.03 178.40,82.03 178.55,82.04 178.70,82.04 178.85,82.04 179.00,82.05 179.15,82.05 179.30,82.05 179.45,82.06 179.60,82.06 179.75,82.07 179.90,82.07 180.05,82.07 180.20,82.08 180.35,82.08 180.50,82.08 180.65,82.09 180.80,82.09 180.95,82.10 181.10,82.10 181.25,82.10 181.40,82.11 181.55,82.11 181.70,82.11 181.85,82.12 182.00,82.12 182.15,82.12 182.30,82.13 182.45,82.13 182.60,82.14 182.75,82.14 182.90,82.14 183.05,82.15 183.20,82.15 183.35,82.15 183.50,82.16 183.65,82.16 183.80,82.17 183.95,82.17 184.10,82.17 184.25,82.18 184.40,82.18 184.55,82.18 184.70,82.19 184.85,82.19 185.00,82.20 185.15,82.20 185.30,82.20 185.45,82.21 185.60,82.21 185.75,82.21 185.90,82.22 186.05,82.22 186.20,82.23 186.35,82.23 186.50,82.23 186.65,82.24 186.80,82.24 186.95,82.24 187.10,82.25 187.25,82.25 187.40,82.26 187.55,82.26 187.70,82.26 187.85,82.27 188.00,82.27 188.15,82.27 188.30,82.28 188.45,82.28 188.60,82.28 188.75,82.29 188.90,82.29 189.05,82.30 189.20,82.30 189.35,82.30 189.50,82.31 189.65,82.31 189.80,82.31 189.95,82.32 190.10,82.32 190.25,82.33 190.40,82.33 190.55,82.33 190.70,82.34 190.85,82.34 191.00,82.34 191.15,82.35 191.30,82.35 191.45,82.36 191.60,82.36 191.75,82.36 191.90,82.37 192.05,82.37 192.20,82.37 192.35,82.38 192.50,82.38 192.65,82.39 192.80,82.39 192.95,82.39 193.10,82.40 193.25,82.40 193.40,82.40 193.55,82.41 193.70,82.41 193.85,82.42 194.00,82.42 194.15,82.42 194.30,82.43 194.45,82.43 194.60,82.43 194.75,82.44 194.90,82.44 195.05,82.44 195.20,82.45 195.35,82.45 195.50,82.46 195.65,82.46 195.80,82.46 195.95,82.47 196.10,82.47 196.25,82.47 196.40,82.48 196.55,82.48 196.70,82.49 196.85,82.49 197.00,82.49 197.15,82.50 197.30,82.50 197.45,82.50 197.60,82.51 197.75,82.51 197.90,82.52 198.05,82.52 198.20,82.52 198.35,82.53 198.50,82.53 198.65,82.53 198.80,82.54 198.95,82.54 199.10,82.55 199.25,82.55 199.40,82.55 199.55,82.56 199.70,82.56 199.85,82.56 200.00,82.57 200.15,82.57 200.30,82.58 200.45,82.58 200.60,82.58 200.75,82.59 200.90,82.59 201.05,82.59 201.20,82.60 201.35,82.60 201.50,82.60 201.65,82.61 201.80,82.61 201.95,82.62 202.10,82.62 202.25,82.62 202.40,82.63 202.55,82.63 202.70,82.63 202.85,82.64 203.00,82.64 203.15,82.65 203.30,82.65 203.45,82.65 203.60,82.66 203.75,82.66 203.90,82.66 204.05,82.67 204.20,82.67 204.35,82.68 204.50,82.68 204.65,82.68 204.80,82.69 204.95,82.69 205.10,82.69 205.25,82.70 205.40,82.70 205.55,82.71 205.70,82.71 205.85,82.71 206.00,82.72 206.15,82.72 206.30,82.72 206.45,82.73 206.60,82.73 206.75,82.74 206.90,82.74 207.05,82.74 207.20,82.75 207.35,82.75 207.50,82.75 207.65,82.76 207.80,82.76 207.95,82.76 208.10,82.76 208.25,82.75 208.40,82.70 208.55,82.55 208.70,82.19 208.85,81.54 209.00,80.61 209.15,79.65 209.30,79.06 209.45,79.13 209.60,79.84 209.75,80.83 209.90,81.72 210.05,82.32 210.20,82.63 210.35,82.77 210.50,82.81 210.65,82.83 210.80,82.84 210.95,82.84 211.10,82.84 211.25,82.85 211.40,82.85 211.55,82.85 211.70,82.86 211.85,82.86 212.00,82.87 212.15,82.87 212.30,82.87 212.45,82.88 212.60,82.88 212.75,82.88 212.90,82.89 213.05,82.89 213.20,82.90 213.35,82.90 213.50,82.90 213.65,82.91 213.80,82.91 213.95,82.91 214.10,82.92 214.25,82.92 214.40,82.93 214.55,82.93 214.70,82.93 214.85,82.94 215.00,82.94 215.15,82.94 215.30,82.95 215.45,82.95 215.60,82.95 215.75,82.96 215.90,82.96 216.05,82.97 216.20,82.97 216.35,82.97 216.50,82.98 216.65,82.98 216.80,82.98 216.95,82.99 217.10,82.99 217.25,83.00 217.40,83.00 217.55,83.00" fill="none" stroke="#222" stroke-width="0.9" stroke-linejoin="round" stroke-linecap="round" />
<rect x="120.9" y="17.4" width="97.20" height="67.90" fill="none" stroke="#777" stroke-width="1.1"/>
<line x1="120.70" y1="85.30" x2="120.70" y2="83.30" stroke="#777" stroke-width="0.8" />
<line x1="120.70" y1="17.40" x2="120.70" y2="19.40" stroke="#777" stroke-width="0.8" />
<text x="120.70" y="92.40" font-size="7.2" text-anchor="middle" font-family="Liberation Serif" font-weight="bold" >20</text>
<line x1="136.82" y1="85.30" x2="136.82" y2="83.30" stroke="#777" stroke-width="0.8" />
<line x1="136.82" y1="17.40" x2="136.82" y2="19.40" stroke="#777" stroke-width="0.8" />
<text x="136.82" y="92.40" font-size="7.2" text-anchor="middle" font-family="Liberation Serif" font-weight="bold" >30</text>
<line x1="152.94" y1="85.30" x2="152.94" y2="83.30" stroke="#777" stroke-width="0.8" />
<line x1="152.94" y1="17.40" x2="152.94" y2="19.40" stroke="#777" stroke-width="0.8" />
<text x="152.94" y="92.40" font-size="7.2" text-anchor="middle" font-family="Liberation Serif" font-weight="bold" >40</text>
<line x1="169.06" y1="85.30" x2="169.06" y2="83.30" stroke="#777" stroke-width="0.8" />
<line x1="169.06" y1="17.40" x2="169.06" y2="19.40" stroke="#777" stroke-width="0.8" />
<text x="169.06" y="92.40" font-size="7.2" text-anchor="middle" font-family="Liberation Serif" font-weight="bold" >50</text>
<line x1="185.18" y1="85.30" x2="185.18" y2="83.30" stroke="#777" stroke-width="0.8" />
<line x1="185.18" y1="17.40" x2="185.18" y2="19.40" stroke="#777" stroke-width="0.8" />
<text x="185.18" y="92.40" font-size="7.2" text-anchor="middle" font-family="Liberation Serif" font-weight="bold" >60</text>
<line x1="201.30" y1="85.30" x2="201.30" y2="83.30" stroke="#777" stroke-width="0.8" />
<line x1="201.30" y1="17.40" x2="201.30" y2="19.40" stroke="#777" stroke-width="0.8" />
<text x="201.30" y="92.40" font-size="7.2" text-anchor="middle" font-family="Liberation Serif" font-weight="bold" >70</text>
<line x1="217.42" y1="85.30" x2="217.42" y2="83.30" stroke="#777" stroke-width="0.8" />
<line x1="217.42" y1="17.40" x2="217.42" y2="19.40" stroke="#777" stroke-width="0.8" />
<text x="217.42" y="92.40" font-size="7.2" text-anchor="middle" font-family="Liberation Serif" font-weight="bold" >80</text>
<line x1="120.90" y1="35.20" x2="122.70" y2="35.20" stroke="#777" stroke-width="0.8" />
<line x1="218.10" y1="35.20" x2="216.30" y2="35.20" stroke="#777" stroke-width="0.8" />
<line x1="120.90" y1="52.30" x2="122.70" y2="52.30" stroke="#777" stroke-width="0.8" />
<line x1="218.10" y1="52.30" x2="216.30" y2="52.30" stroke="#777" stroke-width="0.8" />
<line x1="120.90" y1="69.40" x2="122.70" y2="69.40" stroke="#777" stroke-width="0.8" />
<line x1="218.10" y1="69.40" x2="216.30" y2="69.40" stroke="#777" stroke-width="0.8" />
<text x="166.20" y="25.20" font-size="8.2" text-anchor="middle" font-family="Liberation Serif" font-weight="bold" >(004)</text>
<text x="130.10" y="72.00" font-size="8.2" text-anchor="middle" font-family="Liberation Serif" font-weight="bold" >(002)</text>
<text x="208.40" y="77.50" font-size="8.2" text-anchor="middle" font-family="Liberation Serif" font-weight="bold" >(006)</text>
<text x="116.60" y="48.40" font-size="8.0" text-anchor="middle" font-family="Liberation Serif" font-weight="bold" transform="rotate(-90 116.6 48.4)">Intensity (arb.unit)</text>
<text x="169.30" y="104.20" font-size="8.6" text-anchor="middle" font-family="Liberation Serif" font-weight="bold" >2<tspan font-style="italic" dx="1">θ</tspan><tspan dx="1"> (degree)</tspan></text>
<polyline points="316.20,29.00 316.70,29.00 317.20,29.00 317.70,29.02 318.20,29.20 318.70,29.46 319.20,29.86 319.70,30.43 320.20,31.34 320.70,32.64 321.20,34.50 321.70,37.20 322.20,40.23 322.70,43.44 323.20,46.71 323.70,49.97 324.20,53.36 324.70,56.55 325.20,59.19 325.70,61.48 326.20,63.55 326.70,65.49 327.20,67.36 327.70,69.23 328.20,71.16 328.70,73.10 329.20,75.01 329.70,76.87 330.20,78.65 330.70,80.33 331.20,81.93 331.70,83.48 332.20,84.98 332.70,86.43 333.20,87.84 333.70,89.20 334.20,90.53 334.70,91.84 335.20,93.14 335.70,94.41 336.20,95.65 336.70,96.83 337.20,97.96 337.70,99.02 338.20,100.00 338.70,100.87 339.20,101.66 339.70,102.43 340.20,103.22 340.70,104.04 341.20,104.87 341.70,105.70 342.20,106.53 342.70,107.35 343.20,108.16 343.70,108.95 344.20,109.72 344.70,110.46 345.20,111.17 345.70,111.87 346.20,112.57 346.70,113.24 347.20,113.91 347.70,114.55 348.20,115.18 348.70,115.78 349.20,116.36 349.70,116.91 350.20,117.44 350.70,117.94 351.20,118.43 351.70,118.90 352.20,119.36 352.70,119.81 353.20,120.25 353.70,120.69 354.20,121.13 354.70,121.56 355.20,121.99 355.70,122.42 356.20,122.84 356.70,123.25 357.20,123.66 357.70,124.06 358.20,124.45 358.70,124.83 359.20,125.20 359.70,125.56 360.20,125.91 360.70,126.26 361.20,126.59 361.70,126.92 362.20,127.25 362.70,127.57 363.20,127.89 363.70,128.21 364.20,128.53 364.70,128.84 365.20,129.16 365.70,129.47 366.20,129.78 366.70,130.09 367.20,130.39 367.70,130.68 368.20,130.97 368.70,131.25 369.20,131.51 369.70,131.77 370.20,132.03 370.70,132.28 371.20,132.52 371.70,132.76 372.20,133.00 372.70,133.23 373.20,133.47 373.70,133.70 374.20,133.93 374.70,134.17 375.20,134.40 375.70,134.63 376.20,134.86 376.70,135.09 377.20,135.31 377.70,135.54 378.20,135.75 378.70,135.97 379.20,136.18 379.70,136.38 380.20,136.58 380.70,136.77 381.20,136.97 381.70,137.16 382.20,137.35 382.70,137.54 383.20,137.73 383.70,137.91 384.20,138.10 384.70,138.28 385.20,138.46 385.70,138.63 386.20,138.80 386.70,138.98 387.20,139.14 387.70,139.31 388.20,139.47 388.70,139.63 389.20,139.79 389.70,139.94 390.20,140.09 390.70,140.24 391.20,140.39 391.70,140.53 392.20,140.67 392.70,140.80 393.20,140.94 393.70,141.07 394.20,141.20 394.70,141.33 395.20,141.46 395.70,141.58 396.20,141.70 396.70,141.83 397.20,141.95 397.70,142.07 398.20,142.18 398.70,142.30 399.20,142.41 399.70,142.53 400.20,142.64 400.70,142.75 401.20,142.87 401.70,142.98 402.20,143.09 402.70,143.20 403.20,143.31 403.70,143.42 404.20,143.53 404.70,143.64 405.20,143.74 405.70,143.85 406.20,143.95 406.70,144.06 407.20,144.16 407.70,144.26 408.20,144.36 408.70,144.46 409.20,144.56 409.70,144.66 410.20,144.75 410.70,144.84 411.20,144.94 411.70,145.03 412.20,145.11 412.70,145.20 413.20,145.28 413.70,145.37 414.20,145.45 414.70,145.53 415.20,145.61 415.70,145.69 416.20,145.76 416.70,145.84 417.20,145.91 417.70,145.99 418.20,146.06 418.70,146.13 419.20,146.20 419.70,146.27 420.20,146.34 420.70,146.41 421.20,146.48 421.70,146.55 422.20,146.61 422.70,146.68 423.20,146.75 423.70,146.81 424.20,146.88 424.70,146.94 425.20,147.01 425.70,147.07 426.20,147.13 426.70,147.19 427.20,147.25 427.70,147.31 428.20,147.37 428.70,147.43 429.20,147.49 429.70,147.55 430.20,147.61 430.70,147.67 431.20,147.72 431.70,147.78 432.20,147.84 432.70,147.90 433.20,147.95 433.70,148.01 434.20,148.07 434.70,148.12 435.20,148.18 435.70,148.23 436.20,148.29 436.70,148.35 437.20,148.40 437.70,148.45 438.20,148.51 438.70,148.56 439.20,148.62 439.70,148.67 440.20,148.72 440.70,148.77 441.20,148.82 441.70,148.88 442.20,148.93 442.70,148.98 443.20,149.03 443.70,149.08 444.20,149.13 444.70,149.18 445.20,149.23 445.70,149.28 446.20,149.33 446.70,149.38 447.20,149.43 447.70,149.48 448.20,149.53 448.70,149.58 449.20,149.63 449.70,149.68 450.20,149.73 450.70,149.78 451.20,149.82 451.70,149.87 452.20,149.92 452.70,149.97 453.20,150.02 453.70,150.07 454.20,150.12 454.70,150.16 455.20,150.21 455.70,150.26 456.20,150.31 456.70,150.36 457.20,150.40 457.70,150.45 458.20,150.50 458.70,150.55 459.20,150.60 459.70,150.64 460.20,150.69 460.70,150.74 461.20,150.79 461.70,150.84 462.20,150.89 462.70,150.93 463.20,150.98 463.70,151.03 464.20,151.08 464.70,151.13 465.20,151.18 465.70,151.22 466.20,151.27 466.70,151.32 467.20,151.37 467.70,151.41 468.20,151.46 468.70,151.51 469.20,151.56 469.70,151.60 470.20,151.65 470.70,151.69 471.20,151.74 471.70,151.79 472.20,151.83 472.70,151.88 473.20,151.92 473.70,151.97 474.20,152.01 474.70,152.05 475.20,152.10 475.70,152.14 476.20,152.18 476.70,152.23 477.20,152.27 477.70,152.31 478.20,152.35 478.70,152.39 479.20,152.44 479.70,152.48 480.20,152.52 480.70,152.56 481.20,152.61 481.70,152.65 482.20,152.69 482.70,152.73 483.20,152.77 483.70,152.81 484.20,152.85 484.70,152.89 485.20,152.93 485.70,152.97 486.20,153.01 486.70,153.05 487.20,153.09 487.70,153.13 488.20,153.17 488.70,153.21 489.20,153.24 489.70,153.28 490.20,153.32 490.70,153.35 491.20,153.39 491.70,153.42 492.20,153.45 492.70,153.49 493.20,153.52 493.70,153.55 494.20,153.58 494.70,153.61 495.20,153.64 495.70,153.67 496.20,153.70 496.70,153.73 497.20,153.76 497.70,153.78 498.20,153.81 498.70,153.84 499.20,153.87 499.70,153.89 500.20,153.92 500.70,153.94 501.20,153.97 501.70,153.99 502.20,154.02 502.70,154.04 503.20,154.07 503.70,154.09 504.20,154.12 504.70,154.14 505.20,154.16 505.70,154.19 506.20,154.21 506.70,154.23 507.20,154.26 507.70,154.28 508.20,154.30 508.70,154.32 509.20,154.35 509.70,154.37 510.20,154.39 510.70,154.41 511.20,154.43 511.70,154.46 512.20,154.48 512.70,154.50 513.20,154.52 513.70,154.54 514.20,154.57 514.70,154.59 515.20,154.61 515.70,154.63 516.20,154.65 516.70,154.67 517.20,154.69 517.70,154.71 518.20,154.74 518.70,154.76 519.20,154.78 519.70,154.80 520.20,154.82 520.70,154.84 521.20,154.86 521.70,154.88 522.20,154.90 522.70,154.92 523.20,154.94 523.70,154.96 524.20,154.98 524.70,155.00 525.20,155.01 525.70,155.03 526.20,155.05 526.70,155.07 527.20,155.09 527.70,155.11 528.20,155.13 528.70,155.15 529.20,155.16 529.70,155.18 530.20,155.20 530.70,155.22 531.20,155.23 531.70,155.25 532.20,155.27 532.70,155.29 533.10,155.30" fill="none" stroke="#ff00ff" stroke-width="2.1" stroke-linejoin="round" stroke-linecap="round" />
<polyline points="316.20,39.00 316.70,39.03 317.20,39.10 317.70,39.35 318.20,39.79 318.70,40.48 319.20,41.44 319.70,42.88 320.20,44.58 320.70,46.54 321.20,48.66 321.70,50.84 322.20,53.27 322.70,55.80 323.20,58.11 323.70,59.97 324.20,61.57 324.70,63.01 325.20,64.30 325.70,65.47 326.20,66.50" fill="none" stroke="#ff00ff" stroke-width="2.1" stroke-linejoin="round" stroke-linecap="round" />
<polyline points="316.60,58.30 316.90,61.04 317.20,63.93 317.50,67.35 317.80,72.00 318.10,79.70 318.40,85.66 318.70,90.34 319.00,94.00 319.30,96.88 319.60,99.36 319.90,101.53 320.20,103.50 320.50,105.38 320.80,107.22 321.10,108.95 321.40,110.58 321.70,112.12 322.00,113.59 322.30,115.00 322.60,116.36 322.90,117.69 323.20,118.97 323.50,120.22 323.80,121.42 324.10,122.58 324.40,123.70 324.70,124.77 325.00,125.80 325.30,126.80 325.60,127.79 325.90,128.75 326.20,129.70 326.50,130.63 326.80,131.52 327.10,132.39 327.40,133.23 327.70,134.03 328.00,134.79 328.30,135.50 328.60,136.18 328.90,136.80 329.20,137.41 329.50,137.99 329.80,138.56 330.10,139.11 330.40,139.65 330.70,140.18 331.00,140.69 331.30,141.18 331.60,141.66 331.90,142.14 332.20,142.59 332.50,143.04 332.80,143.48 333.10,143.91 333.40,144.32 333.70,144.73 334.00,145.13 334.30,145.52 334.60,145.91 334.90,146.28 335.20,146.65 335.50,147.02 335.80,147.38 336.10,147.74 336.40,148.08 336.70,148.42 337.00,148.75 337.30,149.07 337.60,149.38 337.90,149.69 338.20,149.98 338.50,150.27 338.80,150.55 339.10,150.83 339.40,151.09 339.70,151.35 340.00,151.60 340.30,151.84 340.60,152.08 340.90,152.30 341.20,152.51 341.50,152.71 341.80,152.90 342.10,153.08 342.40,153.25 342.70,153.41 343.00,153.58 343.30,153.74 343.60,153.90 343.90,154.05 344.20,154.20 344.50,154.34 344.80,154.49 345.10,154.63 345.40,154.76 345.70,154.89 346.00,155.02 346.30,155.15 346.60,155.27 346.90,155.39 347.20,155.51 347.50,155.62 347.80,155.73 348.10,155.84 348.40,155.94 348.70,156.04 349.00,156.15 349.30,156.25 349.60,156.35 349.90,156.44 350.20,156.54 350.50,156.64 350.80,156.73 351.10,156.82 351.40,156.91 351.70,157.00 352.00,157.09 352.30,157.18 352.60,157.26 352.90,157.35 353.20,157.43 353.50,157.51 353.80,157.59 354.10,157.67 354.40,157.74 354.70,157.82 355.00,157.89 355.30,157.97 355.60,158.04 355.90,158.11 356.20,158.18 356.50,158.24 356.80,158.31 357.10,158.38 357.40,158.44 357.70,158.50 358.00,158.56 358.30,158.62 358.60,158.68 358.90,158.73 359.20,158.79 359.50,158.84 359.80,158.89 360.10,158.95 360.40,159.00 360.70,159.05 361.00,159.09 361.30,159.14 361.60,159.19 361.90,159.23 362.20,159.28 362.50,159.32 362.80,159.37 363.10,159.41 363.40,159.46 363.70,159.50 364.00,159.54 364.30,159.58 364.60,159.62 364.90,159.67 365.20,159.71 365.50,159.75 365.80,159.79 366.10,159.83 366.40,159.87 366.70,159.92 367.00,159.96 367.30,160.00 367.60,160.04 367.90,160.09 368.20,160.13 368.50,160.17 368.80,160.22 369.10,160.26 369.40,160.31 369.70,160.35 370.00,160.39 370.30,160.44 370.60,160.48 370.90,160.52 371.20,160.57 371.50,160.61 371.80,160.65 372.10,160.69 372.40,160.73 372.70,160.78 373.00,160.82 373.30,160.85 373.60,160.89 373.90,160.93 374.20,160.97 374.50,161.00 374.80,161.04 375.10,161.07 375.40,161.10 375.70,161.13 376.00,161.16 376.30,161.19 376.60,161.22 376.90,161.24 377.20,161.27 377.50,161.30 377.80,161.32 378.10,161.35 378.40,161.37 378.70,161.39 379.00,161.42 379.30,161.44 379.60,161.46 379.90,161.49 380.20,161.51 380.50,161.53 380.80,161.55 381.10,161.57 381.40,161.59 381.70,161.61 382.00,161.63 382.30,161.65 382.60,161.67 382.90,161.69 383.20,161.71 383.50,161.73 383.80,161.75 384.10,161.77 384.40,161.79 384.70,161.80 385.00,161.82 385.30,161.84 385.60,161.86 385.90,161.87 386.20,161.89 386.50,161.91 386.80,161.92 387.10,161.94 387.40,161.96 387.70,161.97 388.00,161.99 388.30,162.01 388.60,162.02 388.90,162.04 389.20,162.06 389.50,162.07 389.80,162.09 390.10,162.11 390.40,162.12 390.70,162.14 391.00,162.15 391.30,162.17 391.60,162.19 391.90,162.20 392.20,162.22 392.50,162.23 392.80,162.25 393.10,162.27 393.40,162.28 393.70,162.30 394.00,162.31 394.30,162.33 394.60,162.35 394.90,162.36 395.20,162.38 395.50,162.39 395.80,162.41 396.10,162.42 396.40,162.44 396.70,162.45 397.00,162.47 397.30,162.48 397.60,162.50 397.90,162.51 398.20,162.53 398.50,162.54 398.80,162.56 399.10,162.57 399.40,162.59 399.70,162.60 400.00,162.61 400.30,162.63 400.60,162.64 400.90,162.66 401.20,162.67 401.50,162.68 401.80,162.70 402.10,162.71 402.40,162.72 402.70,162.74 403.00,162.75 403.30,162.76 403.60,162.77 403.90,162.79 404.20,162.80 404.50,162.81 404.80,162.82 405.10,162.83 405.40,162.85 405.70,162.86 406.00,162.87 406.30,162.88 406.60,162.89 406.90,162.90 407.20,162.91 407.50,162.92 407.80,162.93 408.10,162.94 408.40,162.95 408.70,162.96 409.00,162.97 409.30,162.98 409.60,162.99 409.90,163.00 410.20,163.01 410.50,163.01 410.80,163.02 411.10,163.03 411.40,163.04 411.70,163.05 412.00,163.05 412.30,163.06 412.60,163.07 412.90,163.08 413.20,163.08 413.50,163.09 413.80,163.10 414.10,163.11 414.40,163.11 414.70,163.12 415.00,163.13 415.30,163.13 415.60,163.14 415.90,163.15 416.20,163.15 416.50,163.16 416.80,163.17 417.10,163.17 417.40,163.18 417.70,163.19 418.00,163.19 418.30,163.20 418.60,163.21 418.90,163.21 419.20,163.22 419.50,163.22 419.80,163.23 420.10,163.23 420.40,163.24 420.70,163.25 421.00,163.25 421.30,163.26 421.60,163.26 421.90,163.27 422.20,163.27 422.50,163.28 422.80,163.28 423.10,163.29 423.40,163.30 423.70,163.30 424.00,163.31 424.30,163.31 424.60,163.32 424.90,163.32 425.20,163.33 425.50,163.33 425.80,163.34 426.10,163.34 426.40,163.35 426.70,163.35 427.00,163.36 427.30,163.36 427.60,163.37 427.90,163.37 428.20,163.38 428.50,163.38 428.80,163.39 429.10,163.39 429.40,163.40 429.70,163.40 430.00,163.41 430.30,163.41 430.60,163.42 430.90,163.42 431.20,163.43 431.50,163.44 431.80,163.44 432.10,163.45 432.40,163.45 432.70,163.46 433.00,163.46 433.30,163.47 433.60,163.47 433.90,163.48 434.20,163.48 434.50,163.49 434.80,163.49 435.10,163.50 435.40,163.51 435.70,163.51 436.00,163.52 436.30,163.52 436.60,163.53 436.90,163.54 437.20,163.54 437.50,163.55 437.80,163.55 438.10,163.56 438.40,163.57 438.70,163.57 439.00,163.58 439.30,163.58 439.60,163.59 439.90,163.60 440.20,163.60 440.50,163.61 440.80,163.62 441.10,163.62 441.40,163.63 441.70,163.64 442.00,163.64 442.30,163.65 442.60,163.66 442.90,163.67 443.20,163.67 443.50,163.68 443.80,163.69 444.10,163.69 444.40,163.70 444.70,163.71 445.00,163.71 445.30,163.72 445.60,163.73 445.90,163.74 446.20,163.74 446.50,163.75 446.80,163.76 447.10,163.76 447.40,163.77 447.70,163.78 448.00,163.79 448.30,163.79 448.60,163.80 448.90,163.81 449.20,163.82 449.50,163.82 449.80,163.83 450.10,163.84 450.40,163.85 450.70,163.85 451.00,163.86 451.30,163.87 451.60,163.88 451.90,163.88 452.20,163.89 452.50,163.90 452.80,163.91 453.10,163.91 453.40,163.92 453.70,163.93 454.00,163.94 454.30,163.94 454.60,163.95 454.90,163.96 455.20,163.97 455.50,163.98 455.80,163.98 456.10,163.99 456.40,164.00 456.70,164.01 457.00,164.01 457.30,164.02 457.60,164.03 457.90,164.04 458.20,164.04 458.50,164.05 458.80,164.06 459.10,164.07 459.40,164.08 459.70,164.08 460.00,164.09 460.30,164.10 460.60,164.11 460.90,164.11 461.20,164.12 461.50,164.13 461.80,164.14 462.10,164.15 462.40,164.15 462.70,164.16 463.00,164.17 463.30,164.18 463.60,164.19 463.90,164.19 464.20,164.20 464.50,164.21 464.80,164.22 465.10,164.22 465.40,164.23 465.70,164.24 466.00,164.25 466.30,164.26 466.60,164.26 466.90,164.27 467.20,164.28 467.50,164.29 467.80,164.29 468.10,164.30 468.40,164.31 468.70,164.32 469.00,164.33 469.30,164.33 469.60,164.34 469.90,164.35 470.20,164.36 470.50,164.36 470.80,164.37 471.10,164.38 471.40,164.39 471.70,164.39 472.00,164.40 472.30,164.41 472.60,164.42 472.90,164.43 473.20,164.43 473.50,164.44 473.80,164.45 474.10,164.46 474.40,164.46 474.70,164.47 475.00,164.48 475.30,164.49 475.60,164.49 475.90,164.50 476.20,164.51 476.50,164.52 476.80,164.52 477.10,164.53 477.40,164.54 477.70,164.54 478.00,164.55 478.30,164.56 478.60,164.57 478.90,164.57 479.20,164.58 479.50,164.59 479.80,164.60 480.10,164.60 480.40,164.61 480.70,164.62 481.00,164.62 481.30,164.63 481.60,164.64 481.90,164.65 482.20,164.65 482.50,164.66 482.80,164.67 483.10,164.67 483.40,164.68 483.70,164.69 484.00,164.69 484.30,164.70 484.60,164.71 484.90,164.72 485.20,164.72 485.50,164.73 485.80,164.74 486.10,164.74 486.40,164.75 486.70,164.76 487.00,164.77 487.30,164.77 487.60,164.78 487.90,164.79 488.20,164.79 488.50,164.80 488.80,164.81 489.10,164.81 489.40,164.82 489.70,164.83 490.00,164.84 490.30,164.84 490.60,164.85 490.90,164.86 491.20,164.86 491.50,164.87 491.80,164.88 492.10,164.88 492.40,164.89 492.70,164.90 493.00,164.91 493.30,164.91 493.60,164.92 493.90,164.93 494.20,164.93 494.50,164.94 494.80,164.95 495.10,164.95 495.40,164.96 495.70,164.97 496.00,164.98 496.30,164.98 496.60,164.99 496.90,165.00 497.20,165.00 497.50,165.01 497.80,165.02 498.10,165.02 498.40,165.03 498.70,165.04 499.00,165.04 499.30,165.05 499.60,165.06 499.90,165.07 500.20,165.07 500.50,165.08 500.80,165.09 501.10,165.09 501.40,165.10 501.70,165.11 502.00,165.11 502.30,165.12 502.60,165.13 502.90,165.13 503.20,165.14 503.50,165.15 503.80,165.15 504.10,165.16 504.40,165.17 504.70,165.18 505.00,165.18 505.30,165.19 505.60,165.20 505.90,165.20 506.20,165.21 506.50,165.22 506.80,165.22 507.10,165.23 507.40,165.24 507.70,165.24 508.00,165.25 508.30,165.26 508.60,165.26 508.90,165.27 509.20,165.28 509.50,165.28 509.80,165.29 510.10,165.30 510.40,165.30 510.70,165.31 511.00,165.32 511.30,165.32 511.60,165.33 511.90,165.34 512.20,165.34 512.50,165.35 512.80,165.36 513.10,165.36 513.40,165.37 513.70,165.38 514.00,165.38 514.30,165.39 514.60,165.40 514.90,165.40 515.20,165.41 515.50,165.42 515.80,165.42 516.10,165.43 516.40,165.44 516.70,165.44 517.00,165.45 517.30,165.46 517.60,165.46 517.90,165.47 518.20,165.48 518.50,165.48 518.80,165.49 519.10,165.50 519.40,165.50 519.70,165.51 520.00,165.52 520.30,165.52 520.60,165.53 520.90,165.54 521.20,165.54 521.50,165.55 521.80,165.56 522.10,165.56 522.40,165.57 522.70,165.58 523.00,165.58 523.30,165.59 523.60,165.60 523.90,165.60 524.20,165.61 524.50,165.62 524.80,165.62 525.10,165.63 525.40,165.63 525.70,165.64 526.00,165.65 526.30,165.65 526.60,165.66 526.90,165.67 527.20,165.67 527.50,165.68 527.80,165.69 528.10,165.69 528.40,165.70 528.70,165.71 529.00,165.71 529.30,165.72 529.60,165.73 529.90,165.73 530.20,165.74 530.50,165.74 530.80,165.75 531.10,165.76 531.40,165.76 531.70,165.77 532.00,165.78 532.30,165.78 532.60,165.79 532.90,165.80 533.10,165.80" fill="none" stroke="#0000ff" stroke-width="1.9" stroke-linejoin="round" stroke-linecap="round" />
<polyline points="316.60,168.50 317.90,164.00 319.30,160.50 321.80,163.80 325.50,165.60 332.70,166.90 340.00,167.30 360.00,167.60 533.20,168.00" fill="none" stroke="#ff0000" stroke-width="1.9" stroke-linejoin="round" stroke-linecap="round" />
<polyline points="316.60,168.60 319.30,167.10 325.50,167.80 340.00,168.20 533.20,168.40" fill="none" stroke="#000" stroke-width="1.5" stroke-linejoin="round" stroke-linecap="round" />
<line x1="323.80" y1="69.20" x2="318.60" y2="51.00" stroke="#000" stroke-width="1.5" />
<path d="M317.2,46.8 L316.3,53.4 L320.6,52.2 Z" fill="#000"/>
<line x1="327.00" y1="47.40" x2="332.60" y2="65.80" stroke="#000" stroke-width="1.5" />
<path d="M334.2,71.2 L335.0,64.6 L330.7,65.9 Z" fill="#000"/>
<line x1="315.40" y1="175.20" x2="315.40" y2="172.00" stroke="#000" stroke-width="1.1" />
<line x1="315.40" y1="11.70" x2="315.40" y2="14.90" stroke="#000" stroke-width="1.1" />
<line x1="351.67" y1="175.20" x2="351.67" y2="172.00" stroke="#000" stroke-width="1.1" />
<line x1="351.67" y1="11.70" x2="351.67" y2="14.90" stroke="#000" stroke-width="1.1" />
<line x1="387.95" y1="175.20" x2="387.95" y2="172.00" stroke="#000" stroke-width="1.1" />
<line x1="387.95" y1="11.70" x2="387.95" y2="14.90" stroke="#000" stroke-width="1.1" />
<line x1="424.22" y1="175.20" x2="424.22" y2="172.00" stroke="#000" stroke-width="1.1" />
<line x1="424.22" y1="11.70" x2="424.22" y2="14.90" stroke="#000" stroke-width="1.1" />
<line x1="460.50" y1="175.20" x2="460.50" y2="172.00" stroke="#000" stroke-width="1.1" />
<line x1="460.50" y1="11.70" x2="460.50" y2="14.90" stroke="#000" stroke-width="1.1" />
<line x1="496.77" y1="175.20" x2="496.77" y2="172.00" stroke="#000" stroke-width="1.1" />
<line x1="496.77" y1="11.70" x2="496.77" y2="14.90" stroke="#000" stroke-width="1.1" />
<line x1="533.05" y1="175.20" x2="533.05" y2="172.00" stroke="#000" stroke-width="1.1" />
<line x1="533.05" y1="11.70" x2="533.05" y2="14.90" stroke="#000" stroke-width="1.1" />
<line x1="333.54" y1="175.20" x2="333.54" y2="173.20" stroke="#000" stroke-width="1.1" />
<line x1="333.54" y1="11.70" x2="333.54" y2="13.70" stroke="#000" stroke-width="1.1" />
<line x1="369.81" y1="175.20" x2="369.81" y2="173.20" stroke="#000" stroke-width="1.1" />
<line x1="369.81" y1="11.70" x2="369.81" y2="13.70" stroke="#000" stroke-width="1.1" />
<line x1="406.09" y1="175.20" x2="406.09" y2="173.20" stroke="#000" stroke-width="1.1" />
<line x1="406.09" y1="11.70" x2="406.09" y2="13.70" stroke="#000" stroke-width="1.1" />
<line x1="442.36" y1="175.20" x2="442.36" y2="173.20" stroke="#000" stroke-width="1.1" />
<line x1="442.36" y1="11.70" x2="442.36" y2="13.70" stroke="#000" stroke-width="1.1" />
<line x1="478.64" y1="175.20" x2="478.64" y2="173.20" stroke="#000" stroke-width="1.1" />
<line x1="478.64" y1="11.70" x2="478.64" y2="13.70" stroke="#000" stroke-width="1.1" />
<line x1="514.91" y1="175.20" x2="514.91" y2="173.20" stroke="#000" stroke-width="1.1" />
<line x1="514.91" y1="11.70" x2="514.91" y2="13.70" stroke="#000" stroke-width="1.1" />
<line x1="312.20" y1="168.50" x2="315.40" y2="168.50" stroke="#000" stroke-width="1.1" />
<line x1="539.60" y1="168.50" x2="536.40" y2="168.50" stroke="#000" stroke-width="1.1" />
<line x1="312.20" y1="116.11" x2="315.40" y2="116.11" stroke="#000" stroke-width="1.1" />
<line x1="539.60" y1="116.11" x2="536.40" y2="116.11" stroke="#000" stroke-width="1.1" />
<line x1="312.20" y1="63.71" x2="315.40" y2="63.71" stroke="#000" stroke-width="1.1" />
<line x1="539.60" y1="63.71" x2="536.40" y2="63.71" stroke="#000" stroke-width="1.1" />
<line x1="312.20" y1="11.31" x2="315.40" y2="11.31" stroke="#000" stroke-width="1.1" />
<line x1="539.60" y1="11.31" x2="536.40" y2="11.31" stroke="#000" stroke-width="1.1" />
<line x1="312.20" y1="142.30" x2="314.20" y2="142.30" stroke="#000" stroke-width="1.1" />
<line x1="539.60" y1="142.30" x2="537.60" y2="142.30" stroke="#000" stroke-width="1.1" />
<line x1="312.20" y1="89.91" x2="314.20" y2="89.91" stroke="#000" stroke-width="1.1" />
<line x1="539.60" y1="89.91" x2="537.60" y2="89.91" stroke="#000" stroke-width="1.1" />
<line x1="312.20" y1="37.51" x2="314.20" y2="37.51" stroke="#000" stroke-width="1.1" />
<line x1="539.60" y1="37.51" x2="537.60" y2="37.51" stroke="#000" stroke-width="1.1" />
<path d="M312.20,11.70 H539.60 V175.20 H312.20 Z" fill="none" stroke="#000" stroke-width="1.7" stroke-linejoin="miter"/>
<text x="315.40" y="188.50" font-size="12" text-anchor="middle" font-family="Liberation Serif" font-weight="bold" >0</text>
<text x="351.67" y="188.50" font-size="12" text-anchor="middle" font-family="Liberation Serif" font-weight="bold" >50</text>
<text x="387.95" y="188.50" font-size="12" text-anchor="middle" font-family="Liberation Serif" font-weight="bold" >100</text>
<text x="424.22" y="188.50" font-size="12" text-anchor="middle" font-family="Liberation Serif" font-weight="bold" >150</text>
<text x="460.50" y="188.50" font-size="12" text-anchor="middle" font-family="Liberation Serif" font-weight="bold" >200</text>
<text x="496.77" y="188.50" font-size="12" text-anchor="middle" font-family="Liberation Serif" font-weight="bold" >250</text>
<text x="533.05" y="188.50" font-size="12" text-anchor="middle" font-family="Liberation Serif" font-weight="bold" >300</text>
<text x="307.70" y="172.10" font-size="12" text-anchor="end" font-family="Liberation Serif" font-weight="bold" >0.0</text>
<text x="307.70" y="119.70" font-size="12" text-anchor="end" font-family="Liberation Serif" font-weight="bold" >1.5</text>
<text x="307.70" y="67.31" font-size="12" text-anchor="end" font-family="Liberation Serif" font-weight="bold" >3.0</text>
<text x="307.70" y="14.91" font-size="12" text-anchor="end" font-family="Liberation Serif" font-weight="bold" >4.5</text>
<text x="426.30" y="203.60" font-size="12" text-anchor="middle" font-family="Liberation Serif" font-weight="bold" ><tspan font-style="italic">T</tspan> (K)</text>
<text x="286.60" y="91.70" font-size="12.2" text-anchor="middle" font-family="Liberation Serif" font-weight="bold" transform="rotate(-90 286.6 91.7)"><tspan font-style="italic">M</tspan> (μ<tspan font-size="8.6" dy="2.6">B</tspan><tspan dy="-2.6">/f.u.)</tspan></text>
<text x="329.00" y="33.40" font-size="11.9" text-anchor="start" font-family="Liberation Serif" font-weight="bold" >(b)</text>
<line x1="335.40" y1="42.60" x2="354.40" y2="42.60" stroke="#000" stroke-width="1.8" />
<text x="355.60" y="46.10" font-size="12.2" text-anchor="start" font-family="Liberation Serif" font-weight="bold" >0.01 T</text>
<line x1="335.40" y1="58.10" x2="354.40" y2="58.10" stroke="#ff0000" stroke-width="1.8" />
<text x="357.50" y="61.60" font-size="12.2" text-anchor="start" font-family="Liberation Serif" font-weight="bold" >0.05 T</text>
<line x1="335.40" y1="73.50" x2="354.40" y2="73.50" stroke="#0000ff" stroke-width="1.8" />
<text x="357.50" y="77.00" font-size="12.2" text-anchor="start" font-family="Liberation Serif" font-weight="bold" >1 T</text>
<line x1="335.40" y1="88.80" x2="354.40" y2="88.80" stroke="#ff00ff" stroke-width="1.8" />
<text x="357.50" y="92.30" font-size="12.2" text-anchor="start" font-family="Liberation Serif" font-weight="bold" >5 T</text>
<text x="348.40" y="105.80" font-size="12" text-anchor="start" font-family="Liberation Serif" font-weight="bold" ><tspan font-style="italic">B//a</tspan><tspan dx="2">–axis</tspan></text>
<rect x="415.0" y="24.6" width="113.60" height="80.20" fill="#fff" stroke="#555" stroke-width="1.2"/>
<polyline points="427.70,102.30 433.70,92.70 437.30,62.00 440.30,42.00 444.30,29.30 450.00,36.00 457.70,47.70 465.00,57.50 474.10,66.80 486.00,74.50 498.60,80.50 512.00,85.50 528.00,90.00" fill="none" stroke="#333" stroke-width="1.2" stroke-linejoin="round" stroke-linecap="round" />
<polyline points="427.70,102.30 433.70,92.20 439.60,60.00 444.40,25.90 449.50,30.00 457.70,44.50 465.00,55.30 474.10,65.30 486.00,73.50 498.60,79.80 512.00,85.20 528.00,89.80" fill="none" stroke="#ff2020" stroke-width="1.2" stroke-linejoin="round" stroke-linecap="round" />
<line x1="416.80" y1="104.80" x2="416.80" y2="102.80" stroke="#555" stroke-width="0.8" />
<line x1="416.80" y1="24.60" x2="416.80" y2="26.60" stroke="#555" stroke-width="0.8" />
<text x="416.80" y="114.60" font-size="8.3" text-anchor="middle" font-family="Liberation Serif" font-weight="bold" >0</text>
<line x1="444.75" y1="104.80" x2="444.75" y2="102.80" stroke="#555" stroke-width="0.8" />
<line x1="444.75" y1="24.60" x2="444.75" y2="26.60" stroke="#555" stroke-width="0.8" />
<text x="444.75" y="114.60" font-size="8.3" text-anchor="middle" font-family="Liberation Serif" font-weight="bold" >5</text>
<line x1="472.70" y1="104.80" x2="472.70" y2="102.80" stroke="#555" stroke-width="0.8" />
<line x1="472.70" y1="24.60" x2="472.70" y2="26.60" stroke="#555" stroke-width="0.8" />
<text x="472.70" y="114.60" font-size="8.3" text-anchor="middle" font-family="Liberation Serif" font-weight="bold" >10</text>
<line x1="500.65" y1="104.80" x2="500.65" y2="102.80" stroke="#555" stroke-width="0.8" />
<line x1="500.65" y1="24.60" x2="500.65" y2="26.60" stroke="#555" stroke-width="0.8" />
<text x="500.65" y="114.60" font-size="8.3" text-anchor="middle" font-family="Liberation Serif" font-weight="bold" >15</text>
<line x1="528.60" y1="104.80" x2="528.60" y2="102.80" stroke="#555" stroke-width="0.8" />
<line x1="528.60" y1="24.60" x2="528.60" y2="26.60" stroke="#555" stroke-width="0.8" />
<text x="528.60" y="114.60" font-size="8.3" text-anchor="middle" font-family="Liberation Serif" font-weight="bold" >20</text>
<line x1="415.00" y1="69.50" x2="417.00" y2="69.50" stroke="#555" stroke-width="0.8" />
<line x1="528.60" y1="69.50" x2="526.60" y2="69.50" stroke="#555" stroke-width="0.8" />
<text x="412.40" y="72.40" font-size="8.3" text-anchor="end" font-family="Liberation Serif" font-weight="bold" >0.1</text>
<line x1="415.00" y1="33.50" x2="417.00" y2="33.50" stroke="#555" stroke-width="0.8" />
<line x1="528.60" y1="33.50" x2="526.60" y2="33.50" stroke="#555" stroke-width="0.8" />
<text x="412.40" y="36.40" font-size="8.3" text-anchor="end" font-family="Liberation Serif" font-weight="bold" >0.2</text>
<line x1="415.00" y1="87.50" x2="416.30" y2="87.50" stroke="#555" stroke-width="0.8" />
<line x1="528.60" y1="87.50" x2="527.30" y2="87.50" stroke="#555" stroke-width="0.8" />
<line x1="415.00" y1="51.50" x2="416.30" y2="51.50" stroke="#555" stroke-width="0.8" />
<line x1="528.60" y1="51.50" x2="527.30" y2="51.50" stroke="#555" stroke-width="0.8" />
<text x="473.40" y="122.50" font-size="8.8" text-anchor="middle" font-family="Liberation Serif" font-weight="bold" ><tspan font-style="italic">T</tspan> (K)</text>
<text x="399.40" y="62.90" font-size="9.6" text-anchor="middle" font-family="Liberation Serif" font-weight="bold" transform="rotate(-90 399.4 62.9)"><tspan font-style="italic">M</tspan> (μ<tspan font-size="6.6" dy="2">B</tspan><tspan dy="-2">/f.u.)</tspan></text>
<text x="417.00" y="42.60" font-size="8.0" text-anchor="start" font-family="Liberation Serif" font-weight="bold" ><tspan font-style="italic">T</tspan><tspan font-size="5.6" dy="1.8">N</tspan><tspan dy="-1.8">(Dy)</tspan></text>
<line x1="433.00" y1="36.80" x2="442.50" y2="28.60" stroke="#333" stroke-width="0.7" />
<path d="M443.8,27.6 L440.3,28.6 L441.9,30.4 Z" fill="#333"/>
<line x1="488.50" y1="35.50" x2="497.30" y2="35.50" stroke="#333" stroke-width="1.1" />
<text x="497.30" y="37.90" font-size="9.5" text-anchor="start" font-family="Liberation Serif" font-weight="bold" >ZFC</text>
<line x1="489.00" y1="47.20" x2="497.50" y2="47.20" stroke="#ff2020" stroke-width="1.1" />
<text x="499.40" y="49.60" font-size="9.0" text-anchor="start" font-family="Liberation Serif" font-weight="bold" >FC</text>
<text x="485.80" y="59.80" font-size="8.6" text-anchor="start" font-family="Liberation Serif" font-weight="bold" ><tspan font-style="italic">B</tspan> = 0.05 T</text>
<polyline points="43.00,219.80 43.50,219.81 44.00,219.84 44.50,219.87 45.00,219.92 45.50,220.00 46.00,220.12 46.50,220.27 47.00,220.48 47.50,220.80 48.00,221.20 48.50,221.72 49.00,222.40 49.50,223.22 50.00,224.20 50.50,225.30 51.00,226.50 51.50,227.88 52.00,229.41 52.50,231.01 53.00,232.59 53.50,234.09 54.00,235.56 54.50,237.02 55.00,238.52 55.50,240.08 56.00,241.74 56.50,243.49 57.00,245.29 57.50,247.11 58.00,248.90 58.50,250.66 59.00,252.43 59.50,254.18 60.00,255.92 60.50,257.64 61.00,259.36 61.50,261.04 62.00,262.61 62.50,264.10 63.00,265.53 63.50,266.92 64.00,268.29 64.50,269.66 65.00,271.04 65.50,272.45 66.00,273.90 66.50,275.37 67.00,276.83 67.50,278.25 68.00,279.64 68.50,280.95 69.00,282.20 69.50,283.42 70.00,284.62 70.50,285.79 71.00,286.92 71.50,288.01 72.00,289.05 72.50,290.04 73.00,290.98 73.50,291.88 74.00,292.75 74.50,293.58 75.00,294.39 75.50,295.18 76.00,295.94 76.50,296.68 77.00,297.41 77.50,298.13 78.00,298.83 78.50,299.53 79.00,300.22 79.50,300.91 80.00,301.59 80.50,302.26 81.00,302.92 81.50,303.58 82.00,304.22 82.50,304.85 83.00,305.46 83.50,306.07 84.00,306.67 84.50,307.26 85.00,307.84 85.50,308.40 86.00,308.95 86.50,309.49 87.00,310.02 87.50,310.54 88.00,311.04 88.50,311.54 89.00,312.04 89.50,312.52 90.00,313.01 90.50,313.49 91.00,313.97 91.50,314.45 92.00,314.93 92.50,315.42 93.00,315.91 93.50,316.40 94.00,316.90 94.50,317.41 95.00,317.93 95.50,318.45 96.00,318.98 96.50,319.51 97.00,320.04 97.50,320.57 98.00,321.10 98.50,321.63 99.00,322.15 99.50,322.66 100.00,323.16 100.50,323.65 101.00,324.13 101.50,324.59 102.00,325.04 102.50,325.47 103.00,325.89 103.50,326.31 104.00,326.73 104.50,327.13 105.00,327.54 105.50,327.93 106.00,328.32 106.50,328.70 107.00,329.08 107.50,329.45 108.00,329.81 108.50,330.17 109.00,330.51 109.50,330.85 110.00,331.18 110.50,331.50 111.00,331.82 111.50,332.12 112.00,332.42 112.50,332.70 113.00,332.98 113.50,333.26 114.00,333.52 114.50,333.78 115.00,334.04 115.50,334.29 116.00,334.53 116.50,334.77 117.00,335.01 117.50,335.25 118.00,335.48 118.50,335.71 119.00,335.93 119.50,336.16 120.00,336.38 120.50,336.61 121.00,336.83 121.50,337.06 122.00,337.28 122.50,337.51 123.00,337.74 123.50,337.97 124.00,338.20 124.50,338.43 125.00,338.66 125.50,338.89 126.00,339.11 126.50,339.34 127.00,339.57 127.50,339.79 128.00,340.02 128.50,340.24 129.00,340.46 129.50,340.67 130.00,340.88 130.50,341.09 131.00,341.30 131.50,341.50 132.00,341.70 132.50,341.89 133.00,342.08 133.50,342.26 134.00,342.44 134.50,342.62 135.00,342.79 135.50,342.96 136.00,343.12 136.50,343.29 137.00,343.45 137.50,343.61 138.00,343.76 138.50,343.92 139.00,344.07 139.50,344.22 140.00,344.37 140.50,344.52 141.00,344.66 141.50,344.81 142.00,344.95 142.50,345.09 143.00,345.23 143.50,345.38 144.00,345.52 144.50,345.66 145.00,345.80 145.50,345.94 146.00,346.08 146.50,346.22 147.00,346.36 147.50,346.50 148.00,346.64 148.50,346.78 149.00,346.92 149.50,347.05 150.00,347.19 150.50,347.33 151.00,347.46 151.50,347.60 152.00,347.73 152.50,347.87 153.00,348.00 153.50,348.13 154.00,348.26 154.50,348.40 155.00,348.53 155.50,348.66 156.00,348.79 156.50,348.92 157.00,349.04 157.50,349.17 158.00,349.30 158.50,349.43 159.00,349.55 159.50,349.68 160.00,349.80 160.50,349.92 161.00,350.04 161.50,350.17 162.00,350.29 162.50,350.41 163.00,350.53 163.50,350.64 164.00,350.76 164.50,350.88 165.00,350.99 165.50,351.11 166.00,351.22 166.50,351.33 167.00,351.44 167.50,351.56 168.00,351.67 168.50,351.78 169.00,351.89 169.50,352.00 170.00,352.11 170.50,352.22 171.00,352.32 171.50,352.43 172.00,352.54 172.50,352.65 173.00,352.75 173.50,352.86 174.00,352.97 174.50,353.07 175.00,353.17 175.50,353.28 176.00,353.38 176.50,353.48 177.00,353.59 177.50,353.69 178.00,353.79 178.50,353.89 179.00,353.98 179.50,354.08 180.00,354.18 180.50,354.28 181.00,354.37 181.50,354.47 182.00,354.56 182.50,354.65 183.00,354.74 183.50,354.83 184.00,354.92 184.50,355.01 185.00,355.10 185.50,355.19 186.00,355.27 186.50,355.36 187.00,355.44 187.50,355.52 188.00,355.60 188.50,355.68 189.00,355.76 189.50,355.84 190.00,355.92 190.50,356.00 191.00,356.07 191.50,356.15 192.00,356.23 192.50,356.30 193.00,356.38 193.50,356.45 194.00,356.52 194.50,356.60 195.00,356.67 195.50,356.74 196.00,356.81 196.50,356.88 197.00,356.95 197.50,357.02 198.00,357.09 198.50,357.16 199.00,357.22 199.50,357.29 200.00,357.36 200.50,357.42 201.00,357.49 201.50,357.55 202.00,357.61 202.50,357.68 203.00,357.74 203.50,357.80 204.00,357.86 204.50,357.92 205.00,357.98 205.50,358.04 206.00,358.10 206.50,358.16 207.00,358.22 207.50,358.27 208.00,358.33 208.50,358.38 209.00,358.44 209.50,358.49 210.00,358.55 210.50,358.60 211.00,358.65 211.50,358.70 212.00,358.76 212.50,358.81 213.00,358.86 213.50,358.91 214.00,358.96 214.50,359.01 215.00,359.06 215.50,359.11 216.00,359.16 216.50,359.21 217.00,359.26 217.50,359.31 218.00,359.35 218.50,359.40 219.00,359.45 219.50,359.50 220.00,359.54 220.50,359.59 221.00,359.63 221.50,359.68 222.00,359.72 222.50,359.77 223.00,359.81 223.50,359.85 224.00,359.89 224.50,359.93 225.00,359.98 225.50,360.02 226.00,360.06 226.50,360.09 227.00,360.13 227.50,360.17 228.00,360.21 228.50,360.24 229.00,360.28 229.50,360.32 230.00,360.35 230.50,360.38 231.00,360.42 231.50,360.45 232.00,360.48 232.50,360.51 233.00,360.54 233.50,360.57 234.00,360.60 234.50,360.63 235.00,360.66 235.50,360.69 236.00,360.72 236.50,360.75 237.00,360.78 237.50,360.81 238.00,360.84 238.50,360.87 239.00,360.90 239.50,360.93 240.00,360.96 240.50,360.99 241.00,361.01 241.50,361.04 242.00,361.07 242.50,361.10 243.00,361.12 243.50,361.15 244.00,361.18 244.50,361.20 245.00,361.23 245.50,361.25 246.00,361.28 246.50,361.30 247.00,361.33 247.50,361.35 248.00,361.38 248.50,361.40 249.00,361.42 249.50,361.45 250.00,361.47 250.50,361.49 251.00,361.51 251.50,361.54 252.00,361.56 252.50,361.58 253.00,361.60 253.50,361.62 254.00,361.64 254.50,361.66 255.00,361.68 255.50,361.69 256.00,361.71 256.50,361.73 257.00,361.75 257.50,361.76 258.00,361.78 258.50,361.79 259.00,361.81 259.50,361.82 260.00,361.84 260.50,361.85 261.00,361.87 261.50,361.88 262.00,361.89 262.40,361.90" fill="none" stroke="#ff00ff" stroke-width="2.1" stroke-linejoin="round" stroke-linecap="round" />
<polyline points="43.40,272.10 43.70,273.03 44.00,274.41 44.30,276.12 44.60,278.55 44.90,281.41 45.20,284.23 45.50,287.13 45.80,290.08 46.10,292.93 46.40,295.69 46.70,298.41 47.00,301.10 47.30,303.81 47.60,306.51 47.90,309.15 48.20,311.71 48.50,314.26 48.80,316.63 49.10,318.62 49.40,320.38 49.70,321.96 50.00,323.36 50.30,324.59 50.60,325.67 50.90,326.63 51.20,327.53 51.50,328.41 51.80,329.29 52.10,330.15 52.40,331.00 52.70,331.81 53.00,332.58 53.30,333.30 53.60,333.98 53.90,334.63 54.20,335.25 54.50,335.84 54.80,336.40 55.10,336.93 55.40,337.43 55.70,337.90 56.00,338.36 56.30,338.79 56.60,339.22 56.90,339.62 57.20,340.01 57.50,340.39 57.80,340.76 58.10,341.12 58.40,341.46 58.70,341.80 59.00,342.12 59.30,342.44 59.60,342.75 59.90,343.05 60.20,343.34 60.50,343.63 60.80,343.92 61.10,344.21 61.40,344.49 61.70,344.77 62.00,345.05 62.30,345.32 62.60,345.59 62.90,345.86 63.20,346.13 63.50,346.39 63.80,346.64 64.10,346.89 64.40,347.13 64.70,347.37 65.00,347.60 65.30,347.83 65.60,348.05 65.90,348.28 66.20,348.50 66.50,348.72 66.80,348.94 67.10,349.15 67.40,349.36 67.70,349.58 68.00,349.78 68.30,349.99 68.60,350.19 68.90,350.39 69.20,350.58 69.50,350.77 69.80,350.96 70.10,351.14 70.40,351.32 70.70,351.50 71.00,351.67 71.30,351.83 71.60,351.99 71.90,352.15 72.20,352.30 72.50,352.45 72.80,352.59 73.10,352.74 73.40,352.88 73.70,353.01 74.00,353.15 74.30,353.28 74.60,353.41 74.90,353.54 75.20,353.66 75.50,353.79 75.80,353.91 76.10,354.03 76.40,354.15 76.70,354.26 77.00,354.38 77.30,354.49 77.60,354.60 77.90,354.71 78.20,354.82 78.50,354.93 78.80,355.04 79.10,355.15 79.40,355.25 79.70,355.36 80.00,355.46 80.30,355.57 80.60,355.67 80.90,355.77 81.20,355.87 81.50,355.97 81.80,356.07 82.10,356.17 82.40,356.27 82.70,356.37 83.00,356.47 83.30,356.57 83.60,356.66 83.90,356.76 84.20,356.85 84.50,356.94 84.80,357.04 85.10,357.13 85.40,357.22 85.70,357.31 86.00,357.40 86.30,357.49 86.60,357.57 86.90,357.66 87.20,357.74 87.50,357.83 87.80,357.91 88.10,357.99 88.40,358.07 88.70,358.15 89.00,358.23 89.30,358.30 89.60,358.38 89.90,358.45 90.20,358.53 90.50,358.60 90.80,358.67 91.10,358.74 91.40,358.81 91.70,358.88 92.00,358.95 92.30,359.01 92.60,359.08 92.90,359.15 93.20,359.21 93.50,359.28 93.80,359.34 94.10,359.40 94.40,359.46 94.70,359.52 95.00,359.59 95.30,359.65 95.60,359.70 95.90,359.76 96.20,359.82 96.50,359.88 96.80,359.94 97.10,359.99 97.40,360.05 97.70,360.10 98.00,360.16 98.30,360.21 98.60,360.26 98.90,360.31 99.20,360.37 99.50,360.42 99.80,360.47 100.10,360.52 100.40,360.57 100.70,360.62 101.00,360.66 101.30,360.71 101.60,360.76 101.90,360.80 102.20,360.85 102.50,360.89 102.80,360.94 103.10,360.98 103.40,361.02 103.70,361.07 104.00,361.11 104.30,361.15 104.60,361.19 104.90,361.23 105.20,361.27 105.50,361.31 105.80,361.35 106.10,361.39 106.40,361.43 106.70,361.47 107.00,361.51 107.30,361.55 107.60,361.59 107.90,361.62 108.20,361.66 108.50,361.70 108.80,361.74 109.10,361.78 109.40,361.82 109.70,361.86 110.00,361.90 110.30,361.94 110.60,361.98 110.90,362.02 111.20,362.06 111.50,362.10 111.80,362.14 112.10,362.19 112.40,362.23 112.70,362.27 113.00,362.31 113.30,362.35 113.60,362.39 113.90,362.44 114.20,362.48 114.50,362.52 114.80,362.56 115.10,362.60 115.40,362.64 115.70,362.68 116.00,362.72 116.30,362.76 116.60,362.80 116.90,362.84 117.20,362.88 117.50,362.92 117.80,362.95 118.10,362.99 118.40,363.03 118.70,363.06 119.00,363.10 119.30,363.13 119.60,363.16 119.90,363.20 120.20,363.23 120.50,363.26 120.80,363.29 121.10,363.32 121.40,363.35 121.70,363.38 122.00,363.40 122.30,363.43 122.60,363.46 122.90,363.49 123.20,363.51 123.50,363.54 123.80,363.56 124.10,363.59 124.40,363.61 124.70,363.64 125.00,363.66 125.30,363.69 125.60,363.71 125.90,363.74 126.20,363.76 126.50,363.78 126.80,363.80 127.10,363.83 127.40,363.85 127.70,363.87 128.00,363.89 128.30,363.92 128.60,363.94 128.90,363.96 129.20,363.98 129.50,364.00 129.80,364.02 130.10,364.05 130.40,364.07 130.70,364.09 131.00,364.11 131.30,364.13 131.60,364.15 131.90,364.18 132.20,364.20 132.50,364.22 132.80,364.24 133.10,364.26 133.40,364.29 133.70,364.31 134.00,364.33 134.30,364.35 134.60,364.37 134.90,364.40 135.20,364.42 135.50,364.44 135.80,364.47 136.10,364.49 136.40,364.51 136.70,364.53 137.00,364.56 137.30,364.58 137.60,364.60 137.90,364.63 138.20,364.65 138.50,364.67 138.80,364.69 139.10,364.72 139.40,364.74 139.70,364.76 140.00,364.78 140.30,364.80 140.60,364.82 140.90,364.85 141.20,364.87 141.50,364.89 141.80,364.91 142.10,364.93 142.40,364.95 142.70,364.97 143.00,364.98 143.30,365.00 143.60,365.02 143.90,365.04 144.20,365.06 144.50,365.07 144.80,365.09 145.10,365.11 145.40,365.12 145.70,365.14 146.00,365.15 146.30,365.17 146.60,365.18 146.90,365.20 147.20,365.22 147.50,365.23 147.80,365.25 148.10,365.26 148.40,365.28 148.70,365.29 149.00,365.31 149.30,365.32 149.60,365.34 149.90,365.35 150.20,365.37 150.50,365.38 150.80,365.40 151.10,365.41 151.40,365.43 151.70,365.44 152.00,365.46 152.30,365.47 152.60,365.49 152.90,365.50 153.20,365.52 153.50,365.53 153.80,365.55 154.10,365.56 154.40,365.57 154.70,365.59 155.00,365.60 155.30,365.62 155.60,365.63 155.90,365.65 156.20,365.66 156.50,365.67 156.80,365.69 157.10,365.70 157.40,365.72 157.70,365.73 158.00,365.74 158.30,365.76 158.60,365.77 158.90,365.79 159.20,365.80 159.50,365.81 159.80,365.83 160.10,365.84 160.40,365.85 160.70,365.87 161.00,365.88 161.30,365.89 161.60,365.91 161.90,365.92 162.20,365.93 162.50,365.95 162.80,365.96 163.10,365.97 163.40,365.99 163.70,366.00 164.00,366.01 164.30,366.02 164.60,366.04 164.90,366.05 165.20,366.06 165.50,366.08 165.80,366.09 166.10,366.10 166.40,366.11 166.70,366.13 167.00,366.14 167.30,366.15 167.60,366.16 167.90,366.17 168.20,366.19 168.50,366.20 168.80,366.21 169.10,366.22 169.40,366.24 169.70,366.25 170.00,366.26 170.30,366.27 170.60,366.28 170.90,366.29 171.20,366.31 171.50,366.32 171.80,366.33 172.10,366.34 172.40,366.35 172.70,366.36 173.00,366.38 173.30,366.39 173.60,366.40 173.90,366.41 174.20,366.42 174.50,366.43 174.80,366.44 175.10,366.45 175.40,366.47 175.70,366.48 176.00,366.49 176.30,366.50 176.60,366.51 176.90,366.52 177.20,366.53 177.50,366.54 177.80,366.55 178.10,366.56 178.40,366.57 178.70,366.58 179.00,366.59 179.30,366.61 179.60,366.62 179.90,366.63 180.20,366.64 180.50,366.65 180.80,366.66 181.10,366.67 181.40,366.68 181.70,366.69 182.00,366.70 182.30,366.71 182.60,366.72 182.90,366.73 183.20,366.74 183.50,366.75 183.80,366.76 184.10,366.76 184.40,366.77 184.70,366.78 185.00,366.79 185.30,366.80 185.60,366.81 185.90,366.82 186.20,366.83 186.50,366.84 186.80,366.85 187.10,366.86 187.40,366.87 187.70,366.88 188.00,366.88 188.30,366.89 188.60,366.90 188.90,366.91 189.20,366.92 189.50,366.93 189.80,366.94 190.10,366.95 190.40,366.95 190.70,366.96 191.00,366.97 191.30,366.98 191.60,366.99 191.90,367.00 192.20,367.00 192.50,367.01 192.80,367.02 193.10,367.03 193.40,367.04 193.70,367.04 194.00,367.05 194.30,367.06 194.60,367.07 194.90,367.08 195.20,367.08 195.50,367.09 195.80,367.10 196.10,367.11 196.40,367.11 196.70,367.12 197.00,367.13 197.30,367.14 197.60,367.14 197.90,367.15 198.20,367.16 198.50,367.17 198.80,367.17 199.10,367.18 199.40,367.19 199.70,367.19 200.00,367.20 200.30,367.21 200.60,367.21 200.90,367.22 201.20,367.23 201.50,367.23 201.80,367.24 202.10,367.25 202.40,367.25 202.70,367.26 203.00,367.27 203.30,367.27 203.60,367.28 203.90,367.29 204.20,367.30 204.50,367.30 204.80,367.31 205.10,367.32 205.40,367.32 205.70,367.33 206.00,367.34 206.30,367.34 206.60,367.35 206.90,367.36 207.20,367.36 207.50,367.37 207.80,367.38 208.10,367.38 208.40,367.39 208.70,367.40 209.00,367.40 209.30,367.41 209.60,367.41 209.90,367.42 210.20,367.43 210.50,367.43 210.80,367.44 211.10,367.45 211.40,367.45 211.70,367.46 212.00,367.47 212.30,367.47 212.60,367.48 212.90,367.49 213.20,367.49 213.50,367.50 213.80,367.51 214.10,367.51 214.40,367.52 214.70,367.52 215.00,367.53 215.30,367.54 215.60,367.54 215.90,367.55 216.20,367.56 216.50,367.56 216.80,367.57 217.10,367.57 217.40,367.58 217.70,367.59 218.00,367.59 218.30,367.60 218.60,367.61 218.90,367.61 219.20,367.62 219.50,367.62 219.80,367.63 220.10,367.64 220.40,367.64 220.70,367.65 221.00,367.65 221.30,367.66 221.60,367.67 221.90,367.67 222.20,367.68 222.50,367.68 222.80,367.69 223.10,367.70 223.40,367.70 223.70,367.71 224.00,367.71 224.30,367.72 224.60,367.72 224.90,367.73 225.20,367.74 225.50,367.74 225.80,367.75 226.10,367.75 226.40,367.76 226.70,367.76 227.00,367.77 227.30,367.77 227.60,367.78 227.90,367.79 228.20,367.79 228.50,367.80 228.80,367.80 229.10,367.81 229.40,367.81 229.70,367.82 230.00,367.82 230.30,367.83 230.60,367.83 230.90,367.84 231.20,367.84 231.50,367.85 231.80,367.85 232.10,367.86 232.40,367.86 232.70,367.87 233.00,367.88 233.30,367.88 233.60,367.89 233.90,367.89 234.20,367.89 234.50,367.90 234.80,367.90 235.10,367.91 235.40,367.91 235.70,367.92 236.00,367.92 236.30,367.93 236.60,367.93 236.90,367.94 237.20,367.94 237.50,367.95 237.80,367.95 238.10,367.96 238.40,367.96 238.70,367.97 239.00,367.97 239.30,367.97 239.60,367.98 239.90,367.98 240.20,367.99 240.50,367.99 240.80,368.00 241.10,368.00 241.40,368.00 241.70,368.01 242.00,368.01 242.30,368.02 242.60,368.02 242.90,368.02 243.20,368.03 243.50,368.03 243.80,368.04 244.10,368.04 244.40,368.04 244.70,368.05 245.00,368.05 245.30,368.06 245.60,368.06 245.90,368.06 246.20,368.07 246.50,368.07 246.80,368.07 247.10,368.08 247.40,368.08 247.70,368.08 248.00,368.09 248.30,368.09 248.60,368.09 248.90,368.10 249.20,368.10 249.50,368.10 249.80,368.11 250.10,368.11 250.40,368.11 250.70,368.12 251.00,368.12 251.30,368.12 251.60,368.12 251.90,368.13 252.20,368.13 252.50,368.13 252.80,368.14 253.10,368.14 253.40,368.14 253.70,368.14 254.00,368.15 254.30,368.15 254.60,368.15 254.90,368.15 255.20,368.16 255.50,368.16 255.80,368.16 256.10,368.16 256.40,368.17 256.70,368.17 257.00,368.17 257.30,368.17 257.60,368.17 257.90,368.18 258.20,368.18 258.50,368.18 258.80,368.18 259.10,368.18 259.40,368.18 259.70,368.19 260.00,368.19 260.30,368.19 260.60,368.19 260.90,368.19 261.20,368.19 261.50,368.20 261.80,368.20 262.10,368.20 262.40,368.20" fill="none" stroke="#0000ff" stroke-width="1.9" stroke-linejoin="round" stroke-linecap="round" />
<polyline points="43.60,366.00 43.90,364.00 44.20,362.28 44.50,361.00 44.80,360.00 45.10,359.10 45.40,358.45 45.70,358.20 46.00,358.36 46.30,358.77 46.60,359.30 46.90,359.85 47.20,360.30 47.50,360.66 47.80,361.01 48.10,361.35 48.40,361.67 48.70,361.97 49.00,362.25 49.30,362.50 49.60,362.74 49.90,362.96 50.20,363.18 50.50,363.39 50.80,363.58 51.10,363.76 51.40,363.93 51.70,364.07 52.00,364.20 52.30,364.31 52.60,364.42 52.90,364.52 53.20,364.62 53.50,364.72 53.80,364.80 54.10,364.89 54.40,364.96 54.70,365.04 55.00,365.11 55.30,365.18 55.60,365.24 55.90,365.29 56.20,365.35 56.50,365.40 56.80,365.45 57.10,365.50 57.40,365.54 57.70,365.59 58.00,365.63 58.30,365.67 58.60,365.72 58.90,365.76 59.20,365.80 59.50,365.84 59.80,365.87 60.10,365.91 60.40,365.95 60.70,365.98 61.00,366.01 61.30,366.05 61.60,366.08 61.90,366.11 62.20,366.14 62.50,366.17 62.80,366.20 63.10,366.23 63.40,366.26 63.70,366.28 64.00,366.31 64.30,366.33 64.60,366.36 64.90,366.38 65.20,366.40 65.50,366.42 65.80,366.45 66.10,366.47 66.40,366.49 66.70,366.51 67.00,366.53 67.30,366.54 67.60,366.56 67.90,366.58 68.20,366.60 68.50,366.62 68.80,366.63 69.10,366.65 69.40,366.66 69.70,366.68 70.00,366.70 70.30,366.71 70.60,366.73 70.90,366.74 71.20,366.76 71.50,366.77 71.80,366.78 72.10,366.80 72.40,366.81 72.70,366.82 73.00,366.84 73.30,366.85 73.60,366.86 73.90,366.87 74.20,366.89 74.50,366.90 74.80,366.91 75.10,366.92 75.40,366.93 75.70,366.95 76.00,366.96 76.30,366.97 76.60,366.98 76.90,366.99 77.20,367.00 77.50,367.01 77.80,367.02 78.10,367.03 78.40,367.04 78.70,367.05 79.00,367.06 79.30,367.08 79.60,367.09 79.90,367.10 80.20,367.11 80.50,367.12 80.80,367.13 81.10,367.14 81.40,367.15 81.70,367.16 82.00,367.17 82.30,367.18 82.60,367.19 82.90,367.20 83.20,367.21 83.50,367.22 83.80,367.23 84.10,367.24 84.40,367.25 84.70,367.26 85.00,367.27 85.30,367.28 85.60,367.29 85.90,367.29 86.20,367.30 86.50,367.31 86.80,367.32 87.10,367.33 87.40,367.34 87.70,367.35 88.00,367.36 88.30,367.37 88.60,367.38 88.90,367.38 89.20,367.39 89.50,367.40 89.80,367.41 90.10,367.42 90.40,367.43 90.70,367.44 91.00,367.44 91.30,367.45 91.60,367.46 91.90,367.47 92.20,367.48 92.50,367.49 92.80,367.49 93.10,367.50 93.40,367.51 93.70,367.52 94.00,367.53 94.30,367.53 94.60,367.54 94.90,367.55 95.20,367.56 95.50,367.57 95.80,367.57 96.10,367.58 96.40,367.59 96.70,367.60 97.00,367.60 97.30,367.61 97.60,367.62 97.90,367.63 98.20,367.64 98.50,367.64 98.80,367.65 99.10,367.66 99.40,367.66 99.70,367.67 100.00,367.68 100.30,367.69 100.60,367.69 100.90,367.70 101.20,367.71 101.50,367.72 101.80,367.72 102.10,367.73 102.40,367.74 102.70,367.75 103.00,367.75 103.30,367.76 103.60,367.77 103.90,367.77 104.20,367.78 104.50,367.79 104.80,367.80 105.10,367.80 105.40,367.81 105.70,367.82 106.00,367.82 106.30,367.83 106.60,367.84 106.90,367.85 107.20,367.85 107.50,367.86 107.80,367.87 108.10,367.87 108.40,367.88 108.70,367.89 109.00,367.90 109.30,367.90 109.60,367.91 109.90,367.92 110.20,367.92 110.50,367.93 110.80,367.94 111.10,367.95 111.40,367.95 111.70,367.96 112.00,367.97 112.30,367.97 112.60,367.98 112.90,367.99 113.20,368.00 113.50,368.00 113.80,368.01 114.10,368.02 114.40,368.02 114.70,368.03 115.00,368.04 115.30,368.05 115.60,368.05 115.90,368.06 116.20,368.07 116.50,368.07 116.80,368.08 117.10,368.09 117.40,368.10 117.70,368.10 118.00,368.11 118.30,368.12 118.60,368.12 118.90,368.13 119.20,368.14 119.50,368.14 119.80,368.15 120.10,368.16 120.40,368.17 120.70,368.17 121.00,368.18 121.30,368.19 121.60,368.19 121.90,368.20 122.20,368.21 122.50,368.21 122.80,368.22 123.10,368.23 123.40,368.23 123.70,368.24 124.00,368.25 124.30,368.25 124.60,368.26 124.90,368.27 125.20,368.27 125.50,368.28 125.80,368.28 126.10,368.29 126.40,368.30 126.70,368.30 127.00,368.31 127.30,368.32 127.60,368.32 127.90,368.33 128.20,368.33 128.50,368.34 128.80,368.35 129.10,368.35 129.40,368.36 129.70,368.37 130.00,368.37 130.30,368.38 130.60,368.38 130.90,368.39 131.20,368.39 131.50,368.40 131.80,368.41 132.10,368.41 132.40,368.42 132.70,368.42 133.00,368.43 133.30,368.43 133.60,368.44 133.90,368.44 134.20,368.45 134.50,368.45 134.80,368.46 135.10,368.46 135.40,368.47 135.70,368.47 136.00,368.48 136.30,368.48 136.60,368.49 136.90,368.49 137.20,368.50 137.50,368.50 137.80,368.51 138.10,368.51 138.40,368.52 138.70,368.52 139.00,368.53 139.30,368.53 139.60,368.53 139.90,368.54 140.20,368.54 140.50,368.55 140.80,368.55 141.10,368.55 141.40,368.56 141.70,368.56 142.00,368.57 142.30,368.57 142.60,368.57 142.90,368.58 143.20,368.58 143.50,368.58 143.80,368.59 144.10,368.59 144.40,368.59 144.70,368.60 145.00,368.60 145.30,368.60 145.60,368.61 145.90,368.61 146.20,368.61 146.50,368.62 146.80,368.62 147.10,368.62 147.40,368.62 147.70,368.63 148.00,368.63 148.30,368.63 148.60,368.64 148.90,368.64 149.20,368.64 149.50,368.64 149.80,368.65 150.10,368.65 150.40,368.65 150.70,368.66 151.00,368.66 151.30,368.66 151.60,368.67 151.90,368.67 152.20,368.67 152.50,368.67 152.80,368.68 153.10,368.68 153.40,368.68 153.70,368.69 154.00,368.69 154.30,368.69 154.60,368.69 154.90,368.70 155.20,368.70 155.50,368.70 155.80,368.71 156.10,368.71 156.40,368.71 156.70,368.72 157.00,368.72 157.30,368.72 157.60,368.72 157.90,368.73 158.20,368.73 158.50,368.73 158.80,368.74 159.10,368.74 159.40,368.74 159.70,368.74 160.00,368.75 160.30,368.75 160.60,368.75 160.90,368.75 161.20,368.76 161.50,368.76 161.80,368.76 162.10,368.77 162.40,368.77 162.70,368.77 163.00,368.77 163.30,368.78 163.60,368.78 163.90,368.78 164.20,368.79 164.50,368.79 164.80,368.79 165.10,368.79 165.40,368.80 165.70,368.80 166.00,368.80 166.30,368.80 166.60,368.81 166.90,368.81 167.20,368.81 167.50,368.82 167.80,368.82 168.10,368.82 168.40,368.82 168.70,368.83 169.00,368.83 169.30,368.83 169.60,368.83 169.90,368.84 170.20,368.84 170.50,368.84 170.80,368.84 171.10,368.85 171.40,368.85 171.70,368.85 172.00,368.86 172.30,368.86 172.60,368.86 172.90,368.86 173.20,368.87 173.50,368.87 173.80,368.87 174.10,368.87 174.40,368.88 174.70,368.88 175.00,368.88 175.30,368.88 175.60,368.89 175.90,368.89 176.20,368.89 176.50,368.89 176.80,368.90 177.10,368.90 177.40,368.90 177.70,368.90 178.00,368.91 178.30,368.91 178.60,368.91 178.90,368.91 179.20,368.92 179.50,368.92 179.80,368.92 180.10,368.92 180.40,368.93 180.70,368.93 181.00,368.93 181.30,368.93 181.60,368.94 181.90,368.94 182.20,368.94 182.50,368.94 182.80,368.95 183.10,368.95 183.40,368.95 183.70,368.95 184.00,368.96 184.30,368.96 184.60,368.96 184.90,368.96 185.20,368.97 185.50,368.97 185.80,368.97 186.10,368.97 186.40,368.97 186.70,368.98 187.00,368.98 187.30,368.98 187.60,368.98 187.90,368.99 188.20,368.99 188.50,368.99 188.80,368.99 189.10,369.00 189.40,369.00 189.70,369.00 190.00,369.00 190.30,369.00 190.60,369.01 190.90,369.01 191.20,369.01 191.50,369.01 191.80,369.02 192.10,369.02 192.40,369.02 192.70,369.02 193.00,369.02 193.30,369.03 193.60,369.03 193.90,369.03 194.20,369.03 194.50,369.04 194.80,369.04 195.10,369.04 195.40,369.04 195.70,369.04 196.00,369.05 196.30,369.05 196.60,369.05 196.90,369.05 197.20,369.05 197.50,369.06 197.80,369.06 198.10,369.06 198.40,369.06 198.70,369.06 199.00,369.07 199.30,369.07 199.60,369.07 199.90,369.07 200.20,369.07 200.50,369.08 200.80,369.08 201.10,369.08 201.40,369.08 201.70,369.08 202.00,369.09 202.30,369.09 202.60,369.09 202.90,369.09 203.20,369.09 203.50,369.10 203.80,369.10 204.10,369.10 204.40,369.10 204.70,369.10 205.00,369.11 205.30,369.11 205.60,369.11 205.90,369.11 206.20,369.11 206.50,369.12 206.80,369.12 207.10,369.12 207.40,369.12 207.70,369.12 208.00,369.12 208.30,369.13 208.60,369.13 208.90,369.13 209.20,369.13 209.50,369.13 209.80,369.14 210.10,369.14 210.40,369.14 210.70,369.14 211.00,369.14 211.30,369.14 211.60,369.15 211.90,369.15 212.20,369.15 212.50,369.15 212.80,369.15 213.10,369.15 213.40,369.16 213.70,369.16 214.00,369.16 214.30,369.16 214.60,369.16 214.90,369.16 215.20,369.17 215.50,369.17 215.80,369.17 216.10,369.17 216.40,369.17 216.70,369.17 217.00,369.18 217.30,369.18 217.60,369.18 217.90,369.18 218.20,369.18 218.50,369.18 218.80,369.18 219.10,369.19 219.40,369.19 219.70,369.19 220.00,369.19 220.30,369.19 220.60,369.19 220.90,369.20 221.20,369.20 221.50,369.20 221.80,369.20 222.10,369.20 222.40,369.20 222.70,369.20 223.00,369.20 223.30,369.21 223.60,369.21 223.90,369.21 224.20,369.21 224.50,369.21 224.80,369.21 225.10,369.21 225.40,369.22 225.70,369.22 226.00,369.22 226.30,369.22 226.60,369.22 226.90,369.22 227.20,369.22 227.50,369.22 227.80,369.23 228.10,369.23 228.40,369.23 228.70,369.23 229.00,369.23 229.30,369.23 229.60,369.23 229.90,369.23 230.20,369.24 230.50,369.24 230.80,369.24 231.10,369.24 231.40,369.24 231.70,369.24 232.00,369.24 232.30,369.24 232.60,369.24 232.90,369.25 233.20,369.25 233.50,369.25 233.80,369.25 234.10,369.25 234.40,369.25 234.70,369.25 235.00,369.25 235.30,369.25 235.60,369.25 235.90,369.26 236.20,369.26 236.50,369.26 236.80,369.26 237.10,369.26 237.40,369.26 237.70,369.26 238.00,369.26 238.30,369.26 238.60,369.26 238.90,369.27 239.20,369.27 239.50,369.27 239.80,369.27 240.10,369.27 240.40,369.27 240.70,369.27 241.00,369.27 241.30,369.27 241.60,369.27 241.90,369.27 242.20,369.27 242.50,369.27 242.80,369.28 243.10,369.28 243.40,369.28 243.70,369.28 244.00,369.28 244.30,369.28 244.60,369.28 244.90,369.28 245.20,369.28 245.50,369.28 245.80,369.28 246.10,369.28 246.40,369.28 246.70,369.28 247.00,369.28 247.30,369.29 247.60,369.29 247.90,369.29 248.20,369.29 248.50,369.29 248.80,369.29 249.10,369.29 249.40,369.29 249.70,369.29 250.00,369.29 250.30,369.29 250.60,369.29 250.90,369.29 251.20,369.29 251.50,369.29 251.80,369.29 252.10,369.29 252.40,369.29 252.70,369.29 253.00,369.29 253.30,369.29 253.60,369.29 253.90,369.30 254.20,369.30 254.50,369.30 254.80,369.30 255.10,369.30 255.40,369.30 255.70,369.30 256.00,369.30 256.30,369.30 256.60,369.30 256.90,369.30 257.20,369.30 257.50,369.30 257.80,369.30 258.10,369.30 258.40,369.30 258.70,369.30 259.00,369.30 259.30,369.30 259.60,369.30 259.90,369.30 260.20,369.30 260.50,369.30 260.80,369.30 261.10,369.30 261.40,369.30 261.70,369.30 262.00,369.30 262.30,369.30 262.40,369.30" fill="none" stroke="#ff0000" stroke-width="1.9" stroke-linejoin="round" stroke-linecap="round" />
<polyline points="43.60,369.20 45.70,367.20 50.00,367.90 70.00,368.60 105.00,369.10 262.40,369.60" fill="none" stroke="#000" stroke-width="1.5" stroke-linejoin="round" stroke-linecap="round" />
<line x1="41.80" y1="378.00" x2="41.80" y2="374.80" stroke="#000" stroke-width="1.1" />
<line x1="41.80" y1="212.20" x2="41.80" y2="215.40" stroke="#000" stroke-width="1.1" />
<line x1="78.55" y1="378.00" x2="78.55" y2="374.80" stroke="#000" stroke-width="1.1" />
<line x1="78.55" y1="212.20" x2="78.55" y2="215.40" stroke="#000" stroke-width="1.1" />
<line x1="115.30" y1="378.00" x2="115.30" y2="374.80" stroke="#000" stroke-width="1.1" />
<line x1="115.30" y1="212.20" x2="115.30" y2="215.40" stroke="#000" stroke-width="1.1" />
<line x1="152.05" y1="378.00" x2="152.05" y2="374.80" stroke="#000" stroke-width="1.1" />
<line x1="152.05" y1="212.20" x2="152.05" y2="215.40" stroke="#000" stroke-width="1.1" />
<line x1="188.80" y1="378.00" x2="188.80" y2="374.80" stroke="#000" stroke-width="1.1" />
<line x1="188.80" y1="212.20" x2="188.80" y2="215.40" stroke="#000" stroke-width="1.1" />
<line x1="225.55" y1="378.00" x2="225.55" y2="374.80" stroke="#000" stroke-width="1.1" />
<line x1="225.55" y1="212.20" x2="225.55" y2="215.40" stroke="#000" stroke-width="1.1" />
<line x1="262.30" y1="378.00" x2="262.30" y2="374.80" stroke="#000" stroke-width="1.1" />
<line x1="262.30" y1="212.20" x2="262.30" y2="215.40" stroke="#000" stroke-width="1.1" />
<line x1="60.17" y1="378.00" x2="60.17" y2="376.00" stroke="#000" stroke-width="1.1" />
<line x1="60.17" y1="212.20" x2="60.17" y2="214.20" stroke="#000" stroke-width="1.1" />
<line x1="96.92" y1="378.00" x2="96.92" y2="376.00" stroke="#000" stroke-width="1.1" />
<line x1="96.92" y1="212.20" x2="96.92" y2="214.20" stroke="#000" stroke-width="1.1" />
<line x1="133.68" y1="378.00" x2="133.68" y2="376.00" stroke="#000" stroke-width="1.1" />
<line x1="133.68" y1="212.20" x2="133.68" y2="214.20" stroke="#000" stroke-width="1.1" />
<line x1="170.43" y1="378.00" x2="170.43" y2="376.00" stroke="#000" stroke-width="1.1" />
<line x1="170.43" y1="212.20" x2="170.43" y2="214.20" stroke="#000" stroke-width="1.1" />
<line x1="207.18" y1="378.00" x2="207.18" y2="376.00" stroke="#000" stroke-width="1.1" />
<line x1="207.18" y1="212.20" x2="207.18" y2="214.20" stroke="#000" stroke-width="1.1" />
<line x1="243.93" y1="378.00" x2="243.93" y2="376.00" stroke="#000" stroke-width="1.1" />
<line x1="243.93" y1="212.20" x2="243.93" y2="214.20" stroke="#000" stroke-width="1.1" />
<line x1="38.50" y1="369.40" x2="41.70" y2="369.40" stroke="#000" stroke-width="1.1" />
<line x1="270.00" y1="369.40" x2="266.80" y2="369.40" stroke="#000" stroke-width="1.1" />
<line x1="38.50" y1="327.95" x2="41.70" y2="327.95" stroke="#000" stroke-width="1.1" />
<line x1="270.00" y1="327.95" x2="266.80" y2="327.95" stroke="#000" stroke-width="1.1" />
<line x1="38.50" y1="286.50" x2="41.70" y2="286.50" stroke="#000" stroke-width="1.1" />
<line x1="270.00" y1="286.50" x2="266.80" y2="286.50" stroke="#000" stroke-width="1.1" />
<line x1="38.50" y1="245.05" x2="41.70" y2="245.05" stroke="#000" stroke-width="1.1" />
<line x1="270.00" y1="245.05" x2="266.80" y2="245.05" stroke="#000" stroke-width="1.1" />
<line x1="38.50" y1="348.67" x2="40.50" y2="348.67" stroke="#000" stroke-width="1.1" />
<line x1="270.00" y1="348.67" x2="268.00" y2="348.67" stroke="#000" stroke-width="1.1" />
<line x1="38.50" y1="307.22" x2="40.50" y2="307.22" stroke="#000" stroke-width="1.1" />
<line x1="270.00" y1="307.22" x2="268.00" y2="307.22" stroke="#000" stroke-width="1.1" />
<line x1="38.50" y1="265.77" x2="40.50" y2="265.77" stroke="#000" stroke-width="1.1" />
<line x1="270.00" y1="265.77" x2="268.00" y2="265.77" stroke="#000" stroke-width="1.1" />
<line x1="38.50" y1="224.32" x2="40.50" y2="224.32" stroke="#000" stroke-width="1.1" />
<line x1="270.00" y1="224.32" x2="268.00" y2="224.32" stroke="#000" stroke-width="1.1" />
<path d="M38.50,212.20 H270.00 V378.00 H38.50 Z" fill="none" stroke="#000" stroke-width="1.7" stroke-linejoin="miter"/>
<text x="41.80" y="391.60" font-size="12" text-anchor="middle" font-family="Liberation Serif" font-weight="bold" >0</text>
<text x="78.55" y="391.60" font-size="12" text-anchor="middle" font-family="Liberation Serif" font-weight="bold" >50</text>
<text x="115.30" y="391.60" font-size="12" text-anchor="middle" font-family="Liberation Serif" font-weight="bold" >100</text>
<text x="152.05" y="391.60" font-size="12" text-anchor="middle" font-family="Liberation Serif" font-weight="bold" >150</text>
<text x="188.80" y="391.60" font-size="12" text-anchor="middle" font-family="Liberation Serif" font-weight="bold" >200</text>
<text x="225.55" y="391.60" font-size="12" text-anchor="middle" font-family="Liberation Serif" font-weight="bold" >250</text>
<text x="262.30" y="391.60" font-size="12" text-anchor="middle" font-family="Liberation Serif" font-weight="bold" >300</text>
<text x="33.40" y="373.00" font-size="12" text-anchor="end" font-family="Liberation Serif" font-weight="bold" >0</text>
<text x="33.40" y="331.55" font-size="12" text-anchor="end" font-family="Liberation Serif" font-weight="bold" >1</text>
<text x="33.40" y="290.10" font-size="12" text-anchor="end" font-family="Liberation Serif" font-weight="bold" >2</text>
<text x="33.40" y="248.65" font-size="12" text-anchor="end" font-family="Liberation Serif" font-weight="bold" >3</text>
<text x="154.00" y="406.80" font-size="12" text-anchor="middle" font-family="Liberation Serif" font-weight="bold" ><tspan font-style="italic">T</tspan> (K)</text>
<text x="13.00" y="289.70" font-size="12.2" text-anchor="middle" font-family="Liberation Serif" font-weight="bold" transform="rotate(-90 13.0 289.7)"><tspan font-style="italic">M</tspan> (μ<tspan font-size="8.6" dy="2.6">B</tspan><tspan dy="-2.6">/f.u.)</tspan></text>
<text x="62.30" y="231.20" font-size="12.0" text-anchor="start" font-family="Liberation Serif" font-weight="bold" >(c)</text>
<line x1="74.70" y1="239.50" x2="93.80" y2="239.50" stroke="#000" stroke-width="1.8" />
<text x="96.00" y="242.80" font-size="12.4" text-anchor="start" font-family="Liberation Serif" font-weight="bold" >0.01 T</text>
<line x1="74.70" y1="255.20" x2="93.80" y2="255.20" stroke="#ff0000" stroke-width="1.8" />
<text x="96.80" y="258.50" font-size="12.4" text-anchor="start" font-family="Liberation Serif" font-weight="bold" >0.05 T</text>
<line x1="74.70" y1="270.80" x2="93.80" y2="270.80" stroke="#0000ff" stroke-width="1.8" />
<text x="96.80" y="274.10" font-size="12.4" text-anchor="start" font-family="Liberation Serif" font-weight="bold" >1 T</text>
<line x1="74.70" y1="286.00" x2="93.80" y2="286.00" stroke="#ff00ff" stroke-width="1.8" />
<text x="96.80" y="289.30" font-size="12.4" text-anchor="start" font-family="Liberation Serif" font-weight="bold" >5 T</text>
<text x="86.80" y="302.40" font-size="12" text-anchor="start" font-family="Liberation Serif" font-weight="bold" ><tspan font-style="italic">B//b</tspan><tspan dx="1.5">–axis</tspan></text>
<rect x="150.8" y="221.0" width="114.20" height="82.60" fill="#fff" stroke="#555" stroke-width="1.2"/>
<polyline points="172.30,287.00 180.30,284.30 185.60,238.80 192.70,228.80 200.00,234.00 209.40,241.20 218.00,250.30 227.90,258.50 237.00,265.30 246.40,271.70 255.00,276.30 265.00,280.40" fill="none" stroke="#ff2020" stroke-width="1.2" stroke-linejoin="round" stroke-linecap="round" />
<polyline points="173.70,299.70 180.30,285.90 185.60,238.80 193.50,230.30 200.00,234.50 209.40,241.50 218.00,250.50 227.90,258.70 237.00,265.50 246.40,271.90 255.00,276.50 265.00,280.60" fill="none" stroke="#222" stroke-width="1.2" stroke-linejoin="round" stroke-linecap="round" />
<line x1="159.10" y1="303.60" x2="159.10" y2="301.60" stroke="#555" stroke-width="0.8" />
<line x1="159.10" y1="221.00" x2="159.10" y2="223.00" stroke="#555" stroke-width="0.8" />
<text x="159.10" y="312.00" font-size="8.3" text-anchor="middle" font-family="Liberation Serif" font-weight="bold" >0</text>
<line x1="193.50" y1="303.60" x2="193.50" y2="301.60" stroke="#555" stroke-width="0.8" />
<line x1="193.50" y1="221.00" x2="193.50" y2="223.00" stroke="#555" stroke-width="0.8" />
<text x="193.50" y="312.00" font-size="8.3" text-anchor="middle" font-family="Liberation Serif" font-weight="bold" >5</text>
<line x1="227.90" y1="303.60" x2="227.90" y2="301.60" stroke="#555" stroke-width="0.8" />
<line x1="227.90" y1="221.00" x2="227.90" y2="223.00" stroke="#555" stroke-width="0.8" />
<text x="227.90" y="312.00" font-size="8.3" text-anchor="middle" font-family="Liberation Serif" font-weight="bold" >10</text>
<line x1="262.30" y1="303.60" x2="262.30" y2="301.60" stroke="#555" stroke-width="0.8" />
<line x1="262.30" y1="221.00" x2="262.30" y2="223.00" stroke="#555" stroke-width="0.8" />
<text x="262.30" y="312.00" font-size="8.3" text-anchor="middle" font-family="Liberation Serif" font-weight="bold" >15</text>
<line x1="150.80" y1="297.80" x2="152.80" y2="297.80" stroke="#555" stroke-width="0.8" />
<line x1="265.00" y1="297.80" x2="263.00" y2="297.80" stroke="#555" stroke-width="0.8" />
<text x="147.90" y="301.00" font-size="9.2" text-anchor="end" font-family="Liberation Serif" font-weight="bold" >0.1</text>
<line x1="150.80" y1="258.10" x2="152.80" y2="258.10" stroke="#555" stroke-width="0.8" />
<line x1="265.00" y1="258.10" x2="263.00" y2="258.10" stroke="#555" stroke-width="0.8" />
<text x="147.90" y="261.30" font-size="9.2" text-anchor="end" font-family="Liberation Serif" font-weight="bold" >0.2</text>
<text x="207.40" y="320.00" font-size="8.8" text-anchor="middle" font-family="Liberation Serif" font-weight="bold" ><tspan font-style="italic">T</tspan> (K)</text>
<text x="137.40" y="263.60" font-size="8.5" text-anchor="middle" font-family="Liberation Serif" font-weight="bold" transform="rotate(-90 137.4 263.6)"><tspan font-style="italic">M</tspan>(μ<tspan font-size="6" dy="1.8">B</tspan><tspan dy="-1.8">/f.u.)</tspan></text>
<text x="152.20" y="235.00" font-size="8.1" text-anchor="start" font-family="Liberation Serif" font-weight="bold" ><tspan font-style="italic">T</tspan><tspan font-size="5.6" dy="1.8">N</tspan><tspan dy="-1.8">(Dy)</tspan></text>
<line x1="175.50" y1="232.40" x2="187.50" y2="232.40" stroke="#333" stroke-width="0.7" />
<path d="M190,232.4 L186.6,231 L186.6,233.8 Z" fill="#333"/>
<line x1="221.50" y1="230.00" x2="230.00" y2="230.00" stroke="#333" stroke-width="1.1" />
<text x="230.40" y="233.00" font-size="9.8" text-anchor="start" font-family="Liberation Serif" font-weight="bold" >ZFC</text>
<line x1="222.80" y1="240.80" x2="233.00" y2="240.80" stroke="#ff2020" stroke-width="1.1" />
<text x="234.70" y="244.00" font-size="9.4" text-anchor="start" font-family="Liberation Serif" font-weight="bold" >FC</text>
<text x="221.50" y="255.20" font-size="9" text-anchor="start" font-family="Liberation Serif" font-weight="bold" ><tspan font-style="italic">B</tspan> = 0.05 T</text>
<polyline points="316.60,233.70 318.00,220.80 318.40,221.58 318.80,222.60 319.20,224.03 319.60,225.40 320.00,226.55 320.40,227.62 320.80,228.61 321.20,229.51 321.60,230.31 322.00,231.03 322.40,231.70 322.80,232.33 323.20,232.91 323.60,233.44 324.00,233.94 324.40,234.39 324.80,234.81 325.20,235.22 325.60,235.60 326.00,235.97 326.40,236.32 326.80,236.65 327.20,236.96 327.60,237.26 328.00,237.54 328.40,237.80 328.80,238.04 329.20,238.27 329.60,238.49 330.00,238.70 330.40,238.91 330.80,239.11 331.20,239.29 331.60,239.48 332.00,239.65 332.40,239.81 332.80,239.97 333.20,240.12 333.60,240.27 334.00,240.41 334.40,240.54 334.80,240.66 335.20,240.78 335.60,240.89 336.00,240.99 336.40,241.09 336.80,241.18 337.20,241.27 337.60,241.36 338.00,241.45 338.40,241.54 338.80,241.62 339.20,241.71 339.60,241.80 340.00,241.90 340.40,242.00 340.80,242.09 341.20,242.19 341.60,242.29 342.00,242.38 342.40,242.48 342.80,242.57 343.20,242.67 343.60,242.77 344.00,242.86 344.40,242.96 344.80,243.06 345.20,243.16 345.60,243.26 346.00,243.36 346.40,243.46 346.80,243.57 347.20,243.67 347.60,243.78 348.00,243.89 348.40,244.00 348.80,244.11 349.20,244.22 349.60,244.34 350.00,244.45 350.40,244.57 350.80,244.69 351.20,244.81 351.60,244.93 352.00,245.05 352.40,245.17 352.80,245.29 353.20,245.41 353.60,245.53 354.00,245.65 354.40,245.77 354.80,245.89 355.20,246.01 355.60,246.14 356.00,246.26 356.40,246.39 356.80,246.51 357.20,246.64 357.60,246.77 358.00,246.89 358.40,247.02 358.80,247.15 359.20,247.27 359.60,247.40 360.00,247.53 360.40,247.66 360.80,247.78 361.20,247.91 361.60,248.04 362.00,248.16 362.40,248.29 362.80,248.41 363.20,248.54 363.60,248.66 364.00,248.79 364.40,248.91 364.80,249.04 365.20,249.17 365.60,249.29 366.00,249.42 366.40,249.54 366.80,249.66 367.20,249.79 367.60,249.91 368.00,250.04 368.40,250.16 368.80,250.29 369.20,250.41 369.60,250.54 369.80,250.60" fill="none" stroke="#ff00ff" stroke-width="2.1" stroke-linejoin="round" stroke-linecap="round" />
<polyline points="316.90,347.90 317.80,343.80 317.90,330.00 318.20,315.00 318.40,312.50 318.80,313.20 319.20,313.87 319.60,314.53 320.00,315.20 320.40,315.82 320.80,316.31 321.20,316.71 321.60,317.08 322.00,317.42 322.40,317.73 322.80,318.01 323.20,318.26 323.60,318.50 324.00,318.73 324.40,318.94 324.80,319.15 325.20,319.34 325.60,319.51 326.00,319.66 326.40,319.77 326.80,319.87 327.20,319.96 327.60,320.04 328.00,320.12 328.40,320.19 328.80,320.26 329.20,320.33 329.60,320.39 330.00,320.44 330.40,320.50 330.80,320.55 331.20,320.60 331.60,320.65 332.00,320.69 332.40,320.74 332.80,320.79 333.20,320.83 333.60,320.88 334.00,320.92 334.40,320.97 334.80,321.01 335.20,321.06 335.60,321.10 336.00,321.14 336.40,321.18 336.80,321.22 337.20,321.25 337.60,321.29 338.00,321.33 338.40,321.36 338.80,321.40 339.20,321.44 339.60,321.47 340.00,321.50 340.40,321.54 340.80,321.57 341.20,321.61 341.60,321.64 342.00,321.67 342.40,321.71 342.80,321.74 343.20,321.77 343.60,321.80 344.00,321.83 344.40,321.85 344.80,321.88 345.20,321.91 345.60,321.94 346.00,321.97 346.40,322.00 346.80,322.03 347.20,322.06 347.60,322.09 348.00,322.12 348.40,322.15 348.80,322.19 349.20,322.22 349.60,322.26 350.00,322.30 350.40,322.34 350.80,322.38 351.20,322.43 351.60,322.47 352.00,322.52 352.40,322.56 352.80,322.61 353.20,322.66 353.60,322.71 354.00,322.77 354.40,322.82 354.80,322.87 355.20,322.93 355.60,322.99 356.00,323.04 356.40,323.10 356.80,323.16 357.20,323.22 357.60,323.28 358.00,323.34 358.40,323.41 358.80,323.47 359.20,323.53 359.60,323.59 360.00,323.66 360.40,323.72 360.80,323.79 361.20,323.85 361.60,323.92 362.00,323.98 362.40,324.05 362.80,324.12 363.20,324.18 363.60,324.25 364.00,324.31 364.40,324.38 364.80,324.45 365.20,324.51 365.60,324.58 366.00,324.64 366.40,324.71 366.80,324.78 367.20,324.84 367.60,324.90 368.00,324.97 368.40,325.03 368.80,325.10 369.20,325.16 369.60,325.22 370.00,325.29 370.40,325.35 370.80,325.42 371.20,325.48 371.60,325.55 372.00,325.61 372.40,325.68 372.80,325.74 373.20,325.81 373.60,325.87 374.00,325.94 374.40,326.01 374.80,326.07 375.20,326.14 375.60,326.21 376.00,326.27 376.40,326.34 376.80,326.41 377.20,326.48 377.60,326.54 378.00,326.61 378.40,326.68 378.80,326.75 379.20,326.82 379.60,326.89 380.00,326.96 380.40,327.03 380.80,327.10 381.20,327.17 381.60,327.24 382.00,327.31 382.40,327.38 382.80,327.45 383.20,327.52 383.60,327.59 384.00,327.66 384.40,327.74 384.80,327.81 385.20,327.88 385.60,327.95 386.00,328.03 386.40,328.10 386.80,328.17 387.20,328.25 387.60,328.32 388.00,328.40 388.40,328.48 388.80,328.56 389.20,328.63 389.60,328.71 390.00,328.79 390.40,328.87 390.80,328.95 391.20,329.04 391.60,329.12 392.00,329.20 392.40,329.28 392.80,329.36 393.20,329.45 393.60,329.53 394.00,329.61 394.40,329.70 394.80,329.78 395.20,329.86 395.60,329.95 396.00,330.03 396.40,330.11 396.80,330.20 397.20,330.28 397.60,330.36 398.00,330.44 398.40,330.52 398.80,330.61 399.20,330.69 399.60,330.77 400.00,330.85 400.40,330.93 400.80,331.01 401.20,331.08 401.60,331.16 402.00,331.24 402.40,331.32 402.80,331.39 403.20,331.46 403.60,331.54 404.00,331.61 404.40,331.68 404.80,331.75 405.20,331.82 405.60,331.89 406.00,331.96 406.40,332.03 406.80,332.10 407.20,332.17 407.60,332.24 408.00,332.30 408.40,332.37 408.80,332.44 409.20,332.51 409.60,332.57 410.00,332.64 410.40,332.70 410.80,332.77 411.20,332.83 411.60,332.90 412.00,332.96 412.40,333.03 412.80,333.09 413.20,333.15 413.60,333.22 414.00,333.28 414.40,333.34 414.80,333.41 415.20,333.47 415.60,333.53 416.00,333.59 416.40,333.65 416.80,333.71 417.20,333.78 417.60,333.84 418.00,333.90 418.40,333.96 418.80,334.02 419.20,334.08 419.60,334.14 420.00,334.20 420.40,334.26 420.80,334.32 421.20,334.38 421.60,334.44 422.00,334.50 422.40,334.56 422.80,334.61 423.20,334.67 423.60,334.73 424.00,334.79 424.40,334.85 424.80,334.91 425.20,334.96 425.60,335.02 426.00,335.08 426.40,335.14 426.80,335.19 427.20,335.25 427.60,335.31 428.00,335.36 428.40,335.42 428.80,335.48 429.20,335.53 429.60,335.59 430.00,335.64 430.40,335.70 430.80,335.76 431.20,335.81 431.60,335.87 432.00,335.92 432.40,335.97 432.80,336.03 433.20,336.08 433.60,336.14 434.00,336.19 434.40,336.25 434.80,336.30 435.20,336.35 435.60,336.41 436.00,336.46 436.40,336.51 436.80,336.57 437.20,336.62 437.60,336.67 438.00,336.72 438.40,336.78 438.80,336.83 439.20,336.88 439.60,336.93 440.00,336.98 440.40,337.04 440.80,337.09 441.20,337.14 441.60,337.19 442.00,337.24 442.40,337.29 442.80,337.34 443.20,337.40 443.60,337.45 444.00,337.50 444.40,337.55 444.80,337.60 445.20,337.65 445.60,337.70 446.00,337.75 446.40,337.80 446.80,337.85 447.20,337.90 447.60,337.95 448.00,338.00 448.40,338.05 448.80,338.10 449.20,338.15 449.60,338.20 450.00,338.25 450.40,338.30 450.80,338.34 451.20,338.39 451.60,338.44 452.00,338.49 452.40,338.54 452.80,338.58 453.20,338.63 453.60,338.68 454.00,338.73 454.40,338.77 454.80,338.82 455.20,338.86 455.60,338.91 456.00,338.96 456.40,339.00 456.80,339.05 457.20,339.09 457.60,339.13 458.00,339.18 458.40,339.22 458.80,339.27 459.20,339.31 459.60,339.35 460.00,339.39 460.40,339.43 460.80,339.48 461.20,339.52 461.60,339.56 462.00,339.60 462.40,339.64 462.80,339.68 463.20,339.72 463.60,339.76 464.00,339.80 464.40,339.84 464.80,339.88 465.20,339.92 465.60,339.96 466.00,340.00 466.40,340.04 466.80,340.07 467.20,340.11 467.60,340.15 468.00,340.19 468.40,340.23 468.80,340.27 469.20,340.30 469.60,340.34 470.00,340.38 470.40,340.42 470.80,340.46 471.20,340.50 471.60,340.53 472.00,340.57 472.40,340.61 472.80,340.65 473.20,340.69 473.60,340.73 474.00,340.76 474.40,340.80 474.80,340.84 475.20,340.88 475.60,340.92 476.00,340.96 476.40,341.00 476.80,341.04 477.20,341.08 477.60,341.12 478.00,341.16 478.40,341.20 478.80,341.24 479.20,341.28 479.60,341.32 480.00,341.36 480.40,341.40 480.80,341.44 481.20,341.48 481.60,341.52 482.00,341.56 482.40,341.60 482.80,341.64 483.20,341.68 483.60,341.72 484.00,341.76 484.40,341.80 484.80,341.84 485.20,341.88 485.60,341.92 486.00,341.96 486.40,342.00 486.80,342.04 487.20,342.08 487.60,342.12 488.00,342.16 488.40,342.20 488.80,342.24 489.20,342.28 489.60,342.32 490.00,342.36 490.40,342.40 490.80,342.44 491.20,342.48 491.60,342.52 492.00,342.56 492.40,342.60 492.80,342.64 493.20,342.67 493.60,342.71 494.00,342.75 494.40,342.79 494.80,342.83 495.20,342.87 495.60,342.91 496.00,342.95 496.40,342.98 496.80,343.02 497.20,343.06 497.60,343.10 498.00,343.14 498.40,343.18 498.80,343.22 499.20,343.26 499.60,343.30 500.00,343.34 500.40,343.38 500.80,343.42 501.20,343.46 501.60,343.50 502.00,343.54 502.40,343.57 502.80,343.61 503.20,343.65 503.60,343.69 504.00,343.73 504.40,343.77 504.80,343.81 505.20,343.84 505.60,343.88 506.00,343.92 506.40,343.96 506.80,343.99 507.20,344.03 507.60,344.07 508.00,344.10 508.40,344.14 508.80,344.17 509.20,344.21 509.60,344.24 510.00,344.28 510.40,344.31 510.80,344.35 511.20,344.38 511.60,344.41 512.00,344.44 512.40,344.48 512.80,344.51 513.20,344.54 513.60,344.57 514.00,344.60 514.40,344.63 514.80,344.66 515.20,344.69 515.60,344.72 516.00,344.75 516.40,344.78 516.80,344.81 517.20,344.84 517.60,344.87 518.00,344.90 518.40,344.93 518.80,344.96 519.20,344.99 519.60,345.02 520.00,345.05 520.40,345.08 520.80,345.10 521.20,345.13 521.60,345.16 522.00,345.19 522.40,345.22 522.80,345.24 523.20,345.27 523.60,345.30 524.00,345.32 524.40,345.35 524.80,345.38 525.20,345.40 525.60,345.43 526.00,345.45 526.40,345.48 526.80,345.51 527.20,345.53 527.60,345.56 528.00,345.58 528.40,345.60 528.80,345.63 529.20,345.65 529.60,345.68 530.00,345.70 530.40,345.72 530.80,345.75 531.20,345.77 531.60,345.79 532.00,345.81 532.40,345.84 532.80,345.86 533.20,345.88 533.60,345.90 533.60,345.90" fill="none" stroke="#0000ff" stroke-width="1.9" stroke-linejoin="round" stroke-linecap="round" />
<polyline points="316.70,371.80 356.70,371.30 357.90,346.50 359.00,345.60 359.60,345.60 360.20,345.61 360.80,345.62 361.40,345.63 362.00,345.64 362.60,345.65 363.20,345.66 363.80,345.68 364.40,345.70 365.00,345.72 365.60,345.74 366.20,345.76 366.80,345.78 367.40,345.80 368.00,345.82 368.60,345.84 369.20,345.87 369.80,345.89 370.40,345.92 371.00,345.94 371.60,345.98 372.20,346.01 372.80,346.05 373.40,346.09 374.00,346.13 374.60,346.18 375.20,346.23 375.80,346.28 376.40,346.33 377.00,346.38 377.60,346.44 378.20,346.49 378.80,346.55 379.40,346.61 380.00,346.67 380.60,346.73 381.20,346.79 381.80,346.85 382.40,346.91 383.00,346.97 383.60,347.03 384.20,347.09 384.80,347.15 385.40,347.21 386.00,347.26 386.60,347.32 387.20,347.37 387.80,347.43 388.40,347.49 389.00,347.54 389.60,347.60 390.20,347.66 390.80,347.72 391.40,347.77 392.00,347.83 392.60,347.89 393.20,347.95 393.80,348.01 394.40,348.07 395.00,348.13 395.60,348.19 396.20,348.25 396.80,348.31 397.40,348.37 398.00,348.44 398.60,348.50 399.20,348.56 399.80,348.62 400.40,348.68 401.00,348.74 401.60,348.80 402.20,348.87 402.80,348.93 403.40,348.99 404.00,349.05 404.60,349.11 405.20,349.17 405.80,349.23 406.40,349.29 407.00,349.36 407.60,349.42 408.20,349.48 408.80,349.54 409.40,349.60 410.00,349.67 410.60,349.73 411.20,349.79 411.80,349.86 412.40,349.92 413.00,349.98 413.60,350.04 414.20,350.11 414.80,350.17 415.40,350.23 416.00,350.30 416.60,350.36 417.20,350.42 417.80,350.49 418.40,350.55 419.00,350.61 419.60,350.68 420.20,350.74 420.80,350.80 421.40,350.86 422.00,350.93 422.60,350.99 423.20,351.05 423.80,351.11 424.40,351.18 425.00,351.24 425.60,351.30 426.20,351.36 426.80,351.42 427.40,351.49 428.00,351.55 428.60,351.61 429.20,351.67 429.80,351.73 430.40,351.79 431.00,351.86 431.60,351.92 432.20,351.98 432.80,352.04 433.40,352.10 434.00,352.17 434.60,352.23 435.20,352.29 435.80,352.35 436.40,352.42 437.00,352.48 437.60,352.54 438.20,352.61 438.80,352.67 439.40,352.74 440.00,352.80 440.60,352.87 441.20,352.93 441.80,353.00 442.40,353.07 443.00,353.14 443.60,353.21 444.20,353.28 444.80,353.35 445.40,353.42 446.00,353.50 446.60,353.57 447.20,353.64 447.80,353.71 448.40,353.79 449.00,353.86 449.60,353.94 450.20,354.01 450.80,354.08 451.40,354.15 452.00,354.22 452.60,354.29 453.20,354.36 453.80,354.43 454.40,354.50 455.00,354.57 455.60,354.63 456.20,354.70 456.80,354.76 457.40,354.82 458.00,354.88 458.60,354.94 459.20,355.00 459.80,355.05 460.40,355.11 461.00,355.16 461.60,355.21 462.20,355.27 462.80,355.32 463.40,355.37 464.00,355.42 464.60,355.47 465.20,355.52 465.80,355.57 466.40,355.62 467.00,355.67 467.60,355.72 468.20,355.77 468.80,355.81 469.40,355.86 470.00,355.91 470.60,355.95 471.20,356.00 471.80,356.05 472.40,356.09 473.00,356.14 473.60,356.19 474.20,356.23 474.80,356.28 475.40,356.32 476.00,356.37 476.60,356.42 477.20,356.46 477.80,356.51 478.40,356.55 479.00,356.60 479.60,356.64 480.20,356.69 480.80,356.73 481.40,356.78 482.00,356.82 482.60,356.87 483.20,356.91 483.80,356.96 484.40,357.00 485.00,357.04 485.60,357.09 486.20,357.13 486.80,357.17 487.40,357.21 488.00,357.26 488.60,357.30 489.20,357.34 489.80,357.38 490.40,357.42 491.00,357.47 491.60,357.51 492.20,357.55 492.80,357.59 493.40,357.63 494.00,357.67 494.60,357.71 495.20,357.75 495.80,357.79 496.40,357.83 497.00,357.87 497.60,357.91 498.20,357.95 498.80,357.99 499.40,358.03 500.00,358.07 500.60,358.11 501.20,358.15 501.80,358.18 502.40,358.22 503.00,358.26 503.60,358.30 504.20,358.34 504.80,358.38 505.40,358.41 506.00,358.45 506.60,358.48 507.20,358.52 507.80,358.55 508.40,358.59 509.00,358.62 509.60,358.65 510.20,358.68 510.80,358.71 511.40,358.74 512.00,358.77 512.60,358.80 513.20,358.82 513.80,358.85 514.40,358.87 515.00,358.90 515.60,358.92 516.20,358.95 516.80,358.97 517.40,359.00 518.00,359.02 518.60,359.04 519.20,359.07 519.80,359.09 520.40,359.11 521.00,359.14 521.60,359.16 522.20,359.18 522.80,359.20 523.40,359.22 524.00,359.24 524.60,359.26 525.20,359.28 525.80,359.30 526.40,359.32 527.00,359.34 527.60,359.36 528.20,359.37 528.80,359.39 529.40,359.40 530.00,359.42 530.60,359.43 531.20,359.45 531.80,359.46 532.40,359.48 533.00,359.49 533.60,359.50" fill="none" stroke="#000" stroke-width="2.4" stroke-linejoin="round" stroke-linecap="round" />
<polyline points="316.70,371.30 318.10,370.60 333.10,369.80 354.40,368.60 355.90,366.90 357.10,344.40 357.70,344.04 358.30,343.81 358.90,343.81 359.50,343.83 360.10,343.87 360.70,343.92 361.30,343.99 361.90,344.06 362.50,344.14 363.10,344.23 363.70,344.33 364.30,344.42 364.90,344.52 365.50,344.62 366.10,344.71 366.70,344.81 367.30,344.89 367.90,344.97 368.50,345.03 369.10,345.10 369.70,345.16 370.30,345.23 370.90,345.29 371.50,345.35 372.10,345.41 372.70,345.47 373.30,345.54 373.90,345.59 374.50,345.65 375.10,345.71 375.70,345.77 376.30,345.83 376.90,345.89 377.50,345.95 378.10,346.00 378.70,346.06 379.30,346.12 379.90,346.17 380.50,346.23 381.10,346.29 381.70,346.34 382.30,346.40 382.90,346.46 383.50,346.52 384.10,346.58 384.70,346.63 385.30,346.69 385.90,346.75 386.50,346.81 387.10,346.87 387.70,346.93 388.30,346.99 388.90,347.05 389.50,347.11 390.10,347.17 390.70,347.23 391.30,347.28 391.90,347.34 392.50,347.40 393.10,347.46 393.70,347.52 394.30,347.58 394.90,347.64 395.50,347.70 396.10,347.76 396.70,347.82 397.30,347.88 397.90,347.94 398.50,348.00 399.10,348.06 399.70,348.12 400.30,348.18 400.90,348.24 401.50,348.30 402.10,348.36 402.70,348.42 403.30,348.48 403.90,348.54 404.50,348.60 405.10,348.66 405.70,348.72 406.30,348.78 406.90,348.85 407.50,348.91 408.10,348.97 408.70,349.03 409.30,349.09 409.90,349.16 410.50,349.22 411.10,349.28 411.70,349.34 412.30,349.41 412.90,349.47 413.50,349.53 414.10,349.60 414.70,349.66 415.30,349.72 415.90,349.79 416.50,349.85 417.10,349.91 417.70,349.98 418.30,350.04 418.90,350.10 419.50,350.16 420.10,350.23 420.70,350.29 421.30,350.35 421.90,350.42 422.50,350.48 423.10,350.54 423.70,350.60 424.30,350.67 424.90,350.73 425.50,350.79 426.10,350.85 426.70,350.91 427.30,350.98 427.90,351.04 428.50,351.10 429.10,351.16 429.70,351.22 430.30,351.28 430.90,351.35 431.50,351.41 432.10,351.47 432.70,351.53 433.30,351.59 433.90,351.66 434.50,351.72 435.10,351.78 435.70,351.84 436.30,351.91 436.90,351.97 437.50,352.03 438.10,352.10 438.70,352.16 439.30,352.23 439.90,352.29 440.50,352.36 441.10,352.42 441.70,352.49 442.30,352.56 442.90,352.63 443.50,352.70 444.10,352.77 444.70,352.84 445.30,352.91 445.90,352.98 446.50,353.06 447.10,353.13 447.70,353.20 448.30,353.28 448.90,353.35 449.50,353.42 450.10,353.50 450.70,353.57 451.30,353.64 451.90,353.71 452.50,353.78 453.10,353.85 453.70,353.92 454.30,353.99 454.90,354.06 455.50,354.12 456.10,354.19 456.70,354.25 457.30,354.31 457.90,354.37 458.50,354.43 459.10,354.49 459.70,354.54 460.30,354.60 460.90,354.65 461.50,354.71 462.10,354.76 462.70,354.81 463.30,354.86 463.90,354.91 464.50,354.96 465.10,355.01 465.70,355.06 466.30,355.11 466.90,355.16 467.50,355.21 468.10,355.26 468.70,355.31 469.30,355.35 469.90,355.40 470.50,355.45 471.10,355.49 471.70,355.54 472.30,355.59 472.90,355.63 473.50,355.68 474.10,355.72 474.70,355.77 475.30,355.82 475.90,355.86 476.50,355.91 477.10,355.95 477.70,356.00 478.30,356.05 478.90,356.09 479.50,356.14 480.10,356.18 480.70,356.23 481.30,356.27 481.90,356.32 482.50,356.36 483.10,356.40 483.70,356.45 484.30,356.49 484.90,356.54 485.50,356.58 486.10,356.62 486.70,356.66 487.30,356.71 487.90,356.75 488.50,356.79 489.10,356.83 489.70,356.88 490.30,356.92 490.90,356.96 491.50,357.00 492.10,357.04 492.70,357.08 493.30,357.12 493.90,357.16 494.50,357.20 495.10,357.24 495.70,357.28 496.30,357.32 496.90,357.36 497.50,357.40 498.10,357.44 498.70,357.48 499.30,357.52 499.90,357.56 500.50,357.60 501.10,357.64 501.70,357.68 502.30,357.72 502.90,357.76 503.50,357.79 504.10,357.83 504.70,357.87 505.30,357.91 505.90,357.94 506.50,357.98 507.10,358.01 507.70,358.05 508.30,358.08 508.90,358.11 509.50,358.15 510.10,358.18 510.70,358.21 511.30,358.24 511.90,358.26 512.50,358.29 513.10,358.32 513.70,358.34 514.30,358.37 514.90,358.39 515.50,358.42 516.10,358.44 516.70,358.47 517.30,358.49 517.90,358.52 518.50,358.54 519.10,358.56 519.70,358.59 520.30,358.61 520.90,358.63 521.50,358.65 522.10,358.68 522.70,358.70 523.30,358.72 523.90,358.74 524.50,358.76 525.10,358.78 525.70,358.80 526.30,358.82 526.90,358.83 527.50,358.85 528.10,358.87 528.70,358.89 529.30,358.90 529.90,358.92 530.50,358.93 531.10,358.95 531.70,358.96 532.30,358.97 532.90,358.99 533.50,359.00 533.60,359.00" fill="none" stroke="#ff0000" stroke-width="2.2" stroke-linejoin="round" stroke-linecap="round" />
<line x1="315.80" y1="376.50" x2="315.80" y2="373.30" stroke="#000" stroke-width="1.1" />
<line x1="315.80" y1="213.80" x2="315.80" y2="215.24" stroke="#000" stroke-width="1.1" />
<line x1="351.92" y1="376.50" x2="351.92" y2="373.30" stroke="#000" stroke-width="1.1" />
<line x1="351.92" y1="213.80" x2="351.92" y2="215.24" stroke="#000" stroke-width="1.1" />
<line x1="388.03" y1="376.50" x2="388.03" y2="373.30" stroke="#000" stroke-width="1.1" />
<line x1="388.03" y1="213.80" x2="388.03" y2="215.24" stroke="#000" stroke-width="1.1" />
<line x1="424.15" y1="376.50" x2="424.15" y2="373.30" stroke="#000" stroke-width="1.1" />
<line x1="424.15" y1="213.80" x2="424.15" y2="215.24" stroke="#000" stroke-width="1.1" />
<line x1="460.26" y1="376.50" x2="460.26" y2="373.30" stroke="#000" stroke-width="1.1" />
<line x1="460.26" y1="213.80" x2="460.26" y2="215.24" stroke="#000" stroke-width="1.1" />
<line x1="496.38" y1="376.50" x2="496.38" y2="373.30" stroke="#000" stroke-width="1.1" />
<line x1="496.38" y1="213.80" x2="496.38" y2="215.24" stroke="#000" stroke-width="1.1" />
<line x1="532.49" y1="376.50" x2="532.49" y2="373.30" stroke="#000" stroke-width="1.1" />
<line x1="532.49" y1="213.80" x2="532.49" y2="215.24" stroke="#000" stroke-width="1.1" />
<line x1="333.86" y1="376.50" x2="333.86" y2="374.50" stroke="#000" stroke-width="1.1" />
<line x1="333.86" y1="213.80" x2="333.86" y2="214.70" stroke="#000" stroke-width="1.1" />
<line x1="369.97" y1="376.50" x2="369.97" y2="374.50" stroke="#000" stroke-width="1.1" />
<line x1="369.97" y1="213.80" x2="369.97" y2="214.70" stroke="#000" stroke-width="1.1" />
<line x1="406.09" y1="376.50" x2="406.09" y2="374.50" stroke="#000" stroke-width="1.1" />
<line x1="406.09" y1="213.80" x2="406.09" y2="214.70" stroke="#000" stroke-width="1.1" />
<line x1="442.20" y1="376.50" x2="442.20" y2="374.50" stroke="#000" stroke-width="1.1" />
<line x1="442.20" y1="213.80" x2="442.20" y2="214.70" stroke="#000" stroke-width="1.1" />
<line x1="478.32" y1="376.50" x2="478.32" y2="374.50" stroke="#000" stroke-width="1.1" />
<line x1="478.32" y1="213.80" x2="478.32" y2="214.70" stroke="#000" stroke-width="1.1" />
<line x1="514.43" y1="376.50" x2="514.43" y2="374.50" stroke="#000" stroke-width="1.1" />
<line x1="514.43" y1="213.80" x2="514.43" y2="214.70" stroke="#000" stroke-width="1.1" />
<line x1="312.50" y1="371.30" x2="315.70" y2="371.30" stroke="#000" stroke-width="1.1" />
<line x1="540.50" y1="371.30" x2="539.06" y2="371.30" stroke="#000" stroke-width="1.1" />
<line x1="312.50" y1="334.98" x2="315.70" y2="334.98" stroke="#000" stroke-width="1.1" />
<line x1="540.50" y1="334.98" x2="539.06" y2="334.98" stroke="#000" stroke-width="1.1" />
<line x1="312.50" y1="298.66" x2="315.70" y2="298.66" stroke="#000" stroke-width="1.1" />
<line x1="540.50" y1="298.66" x2="539.06" y2="298.66" stroke="#000" stroke-width="1.1" />
<line x1="312.50" y1="262.34" x2="315.70" y2="262.34" stroke="#000" stroke-width="1.1" />
<line x1="540.50" y1="262.34" x2="539.06" y2="262.34" stroke="#000" stroke-width="1.1" />
<line x1="312.50" y1="226.02" x2="315.70" y2="226.02" stroke="#000" stroke-width="1.1" />
<line x1="540.50" y1="226.02" x2="539.06" y2="226.02" stroke="#000" stroke-width="1.1" />
<line x1="312.50" y1="353.14" x2="314.50" y2="353.14" stroke="#000" stroke-width="1.1" />
<line x1="312.50" y1="316.82" x2="314.50" y2="316.82" stroke="#000" stroke-width="1.1" />
<line x1="312.50" y1="280.50" x2="314.50" y2="280.50" stroke="#000" stroke-width="1.1" />
<line x1="312.50" y1="244.18" x2="314.50" y2="244.18" stroke="#000" stroke-width="1.1" />
<path d="M312.50,213.80 H540.50 V376.50 H312.50 Z" fill="none" stroke="#000" stroke-width="1.7" stroke-linejoin="miter"/>
<text x="315.80" y="390.20" font-size="12" text-anchor="middle" font-family="Liberation Serif" font-weight="bold" >0</text>
<text x="351.92" y="390.20" font-size="12" text-anchor="middle" font-family="Liberation Serif" font-weight="bold" >50</text>
<text x="388.03" y="390.20" font-size="12" text-anchor="middle" font-family="Liberation Serif" font-weight="bold" >100</text>
<text x="424.15" y="390.20" font-size="12" text-anchor="middle" font-family="Liberation Serif" font-weight="bold" >150</text>
<text x="460.26" y="390.20" font-size="12" text-anchor="middle" font-family="Liberation Serif" font-weight="bold" >200</text>
<text x="496.38" y="390.20" font-size="12" text-anchor="middle" font-family="Liberation Serif" font-weight="bold" >250</text>
<text x="532.49" y="390.20" font-size="12" text-anchor="middle" font-family="Liberation Serif" font-weight="bold" >300</text>
<text x="309.00" y="374.90" font-size="12" text-anchor="end" font-family="Liberation Serif" font-weight="bold" >0.0</text>
<text x="309.00" y="338.58" font-size="12" text-anchor="end" font-family="Liberation Serif" font-weight="bold" >0.2</text>
<text x="309.00" y="302.26" font-size="12" text-anchor="end" font-family="Liberation Serif" font-weight="bold" >0.4</text>
<text x="309.00" y="265.94" font-size="12" text-anchor="end" font-family="Liberation Serif" font-weight="bold" >0.6</text>
<text x="309.00" y="229.62" font-size="12" text-anchor="end" font-family="Liberation Serif" font-weight="bold" >0.8</text>
<text x="426.80" y="407.40" font-size="12" text-anchor="middle" font-family="Liberation Serif" font-weight="bold" ><tspan font-style="italic">T</tspan> (K)</text>
<text x="290.00" y="289.80" font-size="12.2" text-anchor="middle" font-family="Liberation Serif" font-weight="bold" transform="rotate(-90 290.0 289.8)"><tspan font-style="italic">M</tspan> (μ<tspan font-size="8.6" dy="2.6">B</tspan><tspan dy="-2.6">/f.u.)</tspan></text>
<text x="330.20" y="228.90" font-size="10.5" text-anchor="start" font-family="Liberation Serif" font-weight="bold" >(d)</text>
<line x1="316.30" y1="258.80" x2="333.70" y2="258.80" stroke="#000" stroke-width="1.8" />
<text x="337.20" y="262.60" font-size="12.3" text-anchor="start" font-family="Liberation Serif" font-weight="bold" >0.01 T</text>
<line x1="316.30" y1="274.20" x2="333.70" y2="274.20" stroke="#ff0000" stroke-width="1.8" />
<text x="337.20" y="278.00" font-size="12.3" text-anchor="start" font-family="Liberation Serif" font-weight="bold" >0.05 T</text>
<line x1="316.30" y1="289.20" x2="333.70" y2="289.20" stroke="#0000ff" stroke-width="1.8" />
<text x="337.20" y="293.00" font-size="12.3" text-anchor="start" font-family="Liberation Serif" font-weight="bold" >1 T</text>
<line x1="316.30" y1="304.40" x2="333.70" y2="304.40" stroke="#ff00ff" stroke-width="1.8" />
<text x="337.20" y="308.20" font-size="12.3" text-anchor="start" font-family="Liberation Serif" font-weight="bold" >5 T</text>
<text x="371.60" y="368.00" font-size="12" text-anchor="start" font-family="Liberation Serif" font-weight="bold" ><tspan font-style="italic">B//c</tspan><tspan dx="2">–axis</tspan></text>
<rect x="402.9" y="223.4" width="55.70" height="81.60" fill="#fff" stroke="#444" stroke-width="1.1"/>
<rect x="461.0" y="223.4" width="57.00" height="81.60" fill="#fff" stroke="#444" stroke-width="1.1"/>
<rect x="459.1" y="222.9" width="1.40" height="82.60" fill="#999"/>
<polyline points="412.50,298.00 413.70,293.20 416.10,272.70 417.30,259.50 417.60,260.56 417.90,261.52 418.20,262.29 418.50,262.80 418.80,263.14 419.10,263.44 419.40,263.68 419.70,263.84 420.00,263.90 420.30,263.89 420.60,263.88 420.90,263.85 421.20,263.82 421.50,263.78 421.80,263.73 422.10,263.68 422.40,263.60 422.70,263.49 423.00,263.35 423.30,263.20 423.60,263.05 423.90,262.90 424.20,262.75 424.50,262.61 424.80,262.47 425.10,262.32 425.40,262.17 425.70,262.02 426.00,261.86 426.30,261.70 426.60,261.54 426.90,261.38 427.20,261.22 427.50,261.06 427.80,260.89 428.10,260.73 428.40,260.56 428.70,260.40 429.00,260.23 429.30,260.06 429.60,259.90 429.90,259.73 430.20,259.57 430.50,259.40 430.80,259.24 431.10,259.08 431.40,258.92 431.70,258.76 432.00,258.60 432.30,258.45 432.60,258.30 432.90,258.15 433.20,258.00 433.50,257.86 433.80,257.71 434.10,257.57 434.40,257.42 434.70,257.28 435.00,257.14 435.30,257.00 435.60,256.86 435.90,256.72 436.20,256.58 436.50,256.44 436.80,256.30 437.10,256.16 437.40,256.03 437.70,255.89 438.00,255.76 438.30,255.62 438.60,255.49 438.90,255.36 439.20,255.23 439.50,255.10 439.80,254.97 440.10,254.84 440.40,254.71 440.70,254.59 441.00,254.46 441.30,254.34 441.60,254.22 441.90,254.10 442.20,253.98 442.50,253.86 442.80,253.74 443.10,253.63 443.40,253.52 443.70,253.41 444.00,253.30 444.30,253.19 444.60,253.08 444.90,252.98 445.20,252.87 445.50,252.77 445.80,252.67 446.10,252.56 446.40,252.46 446.70,252.36 447.00,252.26 447.30,252.16 447.60,252.06 447.90,251.96 448.20,251.86 448.50,251.76 448.80,251.65 449.10,251.55 449.40,251.45 449.70,251.35 450.00,251.24 450.30,251.14 450.60,251.03 450.90,250.92 451.20,250.81 451.50,250.70 451.80,250.59 452.10,250.49 452.40,250.38 452.70,250.28 453.00,250.18 453.30,250.08 453.60,249.98 453.90,249.87 454.20,249.76 454.50,249.65 454.80,249.53 455.10,249.40 455.40,249.26 455.70,249.11 456.00,248.96 456.30,248.78 456.60,248.57 456.90,248.33 457.20,248.07 457.50,247.79 457.80,247.50 458.10,247.20 458.20,247.10" fill="none" stroke="#222" stroke-width="1.2" stroke-linejoin="round" stroke-linecap="round" />
<polyline points="411.80,295.60 413.70,292.00 416.00,270.00 417.50,255.30 417.80,255.69 418.10,256.01 418.40,256.25 418.70,256.38 419.00,256.49 419.30,256.57 419.60,256.60 419.90,256.58 420.20,256.51 420.50,256.41 420.80,256.29 421.10,256.17 421.40,256.04 421.70,255.92 422.00,255.78 422.30,255.63 422.60,255.47 422.90,255.31 423.20,255.13 423.50,254.96 423.80,254.78 424.10,254.60 424.40,254.42 424.70,254.24 425.00,254.05 425.30,253.86 425.60,253.66 425.90,253.46 426.20,253.26 426.50,253.05 426.80,252.84 427.10,252.63 427.40,252.42 427.70,252.20 428.00,251.99 428.30,251.77 428.60,251.55 428.90,251.34 429.20,251.12 429.50,250.90 429.80,250.69 430.10,250.47 430.40,250.26 430.70,250.05 431.00,249.84 431.30,249.63 431.60,249.43 431.90,249.23 432.20,249.03 432.50,248.84 432.80,248.65 433.10,248.46 433.40,248.28 433.70,248.10 434.00,247.92 434.30,247.74 434.60,247.56 434.90,247.38 435.20,247.20 435.50,247.03 435.80,246.85 436.10,246.68 436.40,246.50 436.70,246.33 437.00,246.16 437.30,245.99 437.60,245.82 437.90,245.66 438.20,245.49 438.50,245.33 438.80,245.17 439.10,245.01 439.40,244.85 439.70,244.70 440.00,244.54 440.30,244.39 440.60,244.24 440.90,244.10 441.20,243.95 441.50,243.81 441.80,243.67 442.10,243.53 442.40,243.40 442.70,243.27 443.00,243.14 443.30,243.01 443.60,242.88 443.90,242.76 444.20,242.63 444.50,242.51 444.80,242.39 445.10,242.27 445.40,242.15 445.70,242.03 446.00,241.92 446.30,241.80 446.60,241.69 446.90,241.58 447.20,241.47 447.50,241.36 447.80,241.25 448.10,241.14 448.40,241.04 448.70,240.93 449.00,240.83 449.30,240.73 449.60,240.62 449.90,240.52 450.20,240.42 450.50,240.32 450.80,240.23 451.10,240.13 451.40,240.03 451.70,239.94 452.00,239.84 452.30,239.75 452.60,239.65 452.90,239.56 453.20,239.47 453.50,239.38 453.80,239.29 454.10,239.20 454.40,239.12 454.70,239.03 455.00,238.94 455.30,238.86 455.60,238.78 455.90,238.70 456.20,238.61 456.50,238.53 456.80,238.46 457.10,238.38 457.40,238.30 457.70,238.22 458.00,238.15 458.20,238.10" fill="none" stroke="#ff2020" stroke-width="1.2" stroke-linejoin="round" stroke-linecap="round" />
<line x1="408.20" y1="305.00" x2="408.20" y2="303.00" stroke="#444" stroke-width="0.8" />
<text x="408.20" y="313.80" font-size="8.0" text-anchor="middle" font-family="Liberation Serif" font-weight="bold" >0</text>
<line x1="418.15" y1="305.00" x2="418.15" y2="303.00" stroke="#444" stroke-width="0.8" />
<text x="418.15" y="313.80" font-size="8.0" text-anchor="middle" font-family="Liberation Serif" font-weight="bold" >5</text>
<line x1="428.10" y1="305.00" x2="428.10" y2="303.00" stroke="#444" stroke-width="0.8" />
<text x="428.10" y="313.80" font-size="8.0" text-anchor="middle" font-family="Liberation Serif" font-weight="bold" >10</text>
<line x1="438.05" y1="305.00" x2="438.05" y2="303.00" stroke="#444" stroke-width="0.8" />
<text x="438.05" y="313.80" font-size="8.0" text-anchor="middle" font-family="Liberation Serif" font-weight="bold" >15</text>
<line x1="448.00" y1="305.00" x2="448.00" y2="303.00" stroke="#444" stroke-width="0.8" />
<text x="448.00" y="313.80" font-size="8.0" text-anchor="middle" font-family="Liberation Serif" font-weight="bold" >20</text>
<text x="381.30" y="257.50" font-size="8.5" text-anchor="middle" font-family="Liberation Serif" font-weight="bold" transform="rotate(-90 381.3 257.5)"><tspan font-style="italic">M</tspan>(μ<tspan font-size="6" dy="1.8">B</tspan><tspan dy="-1.8">/f.u.)</tspan></text>
<line x1="402.90" y1="300.40" x2="404.90" y2="300.40" stroke="#444" stroke-width="0.8" />
<text x="401.20" y="303.40" font-size="8.8" text-anchor="end" font-family="Liberation Serif" font-weight="bold" >0.006</text>
<line x1="402.90" y1="285.20" x2="404.90" y2="285.20" stroke="#444" stroke-width="0.8" />
<text x="401.20" y="288.20" font-size="8.8" text-anchor="end" font-family="Liberation Serif" font-weight="bold" >0.008</text>
<line x1="402.90" y1="270.00" x2="404.90" y2="270.00" stroke="#444" stroke-width="0.8" />
<text x="401.20" y="273.00" font-size="8.8" text-anchor="end" font-family="Liberation Serif" font-weight="bold" >0.010</text>
<line x1="402.90" y1="254.80" x2="404.90" y2="254.80" stroke="#444" stroke-width="0.8" />
<text x="401.20" y="257.80" font-size="8.8" text-anchor="end" font-family="Liberation Serif" font-weight="bold" >0.012</text>
<line x1="402.90" y1="239.60" x2="404.90" y2="239.60" stroke="#444" stroke-width="0.8" />
<text x="401.20" y="242.60" font-size="8.8" text-anchor="end" font-family="Liberation Serif" font-weight="bold" >0.014</text>
<line x1="402.90" y1="224.40" x2="404.90" y2="224.40" stroke="#444" stroke-width="0.8" />
<text x="401.20" y="227.40" font-size="8.8" text-anchor="end" font-family="Liberation Serif" font-weight="bold" >0.016</text>
<text x="406.00" y="243.20" font-size="8.5" text-anchor="start" font-family="Liberation Serif" font-weight="bold" ><tspan font-style="italic">T</tspan><tspan font-size="6" dy="1.8">N</tspan><tspan dy="-1.8">(Dy)</tspan></text>
<line x1="416.10" y1="246.30" x2="416.10" y2="251.50" stroke="#333" stroke-width="0.7" />
<path d="M416.1,254 L414.8,250.8 L417.4,250.8 Z" fill="#333"/>
<line x1="424.10" y1="272.20" x2="441.20" y2="272.20" stroke="#444" stroke-width="1.1" />
<text x="443.00" y="274.90" font-size="7.9" text-anchor="start" font-family="Liberation Serif" font-weight="bold" textLength="13.6" lengthAdjust="spacingAndGlyphs">ZFC</text>
<line x1="424.10" y1="281.30" x2="441.20" y2="281.30" stroke="#ff3030" stroke-width="0.9" />
<text x="443.50" y="284.20" font-size="8.0" text-anchor="start" font-family="Liberation Serif" font-weight="bold" >FC</text>
<text x="423.80" y="293.00" font-size="7.4" text-anchor="start" font-family="Liberation Serif" font-weight="bold" ><tspan font-style="italic">B</tspan> = 0.05 T</text>
<polyline points="461.50,299.20 475.00,298.20 489.90,296.30 490.80,294.00 500.70,230.60 518.00,230.60" fill="none" stroke="#222" stroke-width="1.2" stroke-linejoin="round" stroke-linecap="round" />
<polyline points="461.50,299.70 475.00,298.60 493.50,296.80 495.90,274.00 499.50,255.90 504.30,230.20 518.00,229.90" fill="none" stroke="#ff2020" stroke-width="1.2" stroke-linejoin="round" stroke-linecap="round" />
<line x1="461.50" y1="305.00" x2="461.50" y2="303.00" stroke="#444" stroke-width="0.8" />
<text x="461.50" y="314.20" font-size="9.0" text-anchor="middle" font-family="Liberation Serif" font-weight="bold" >50</text>
<line x1="489.00" y1="305.00" x2="489.00" y2="303.00" stroke="#444" stroke-width="0.8" />
<text x="489.00" y="314.20" font-size="9.0" text-anchor="middle" font-family="Liberation Serif" font-weight="bold" >55</text>
<line x1="516.50" y1="305.00" x2="516.50" y2="303.00" stroke="#444" stroke-width="0.8" />
<text x="516.50" y="314.20" font-size="9.0" text-anchor="middle" font-family="Liberation Serif" font-weight="bold" >60</text>
<line x1="518.00" y1="283.40" x2="516.00" y2="283.40" stroke="#444" stroke-width="0.8" />
<text x="518.80" y="286.70" font-size="9.6" text-anchor="start" font-family="Liberation Serif" font-weight="bold" >0.05</text>
<line x1="518.00" y1="257.80" x2="516.00" y2="257.80" stroke="#444" stroke-width="0.8" />
<text x="518.80" y="261.10" font-size="9.6" text-anchor="start" font-family="Liberation Serif" font-weight="bold" >0.10</text>
<line x1="518.00" y1="232.20" x2="516.00" y2="232.20" stroke="#444" stroke-width="0.8" />
<text x="518.80" y="235.50" font-size="9.6" text-anchor="start" font-family="Liberation Serif" font-weight="bold" >0.15</text>
<text x="466.00" y="233.00" font-size="8.0" text-anchor="start" font-family="Liberation Serif" font-weight="bold" ><tspan font-style="italic">T</tspan><tspan font-size="5.6" dy="1.8">SR</tspan><tspan dy="-1.8">(Fe)</tspan></text>
<line x1="490.60" y1="231.80" x2="497.50" y2="231.40" stroke="#333" stroke-width="0.7" />
<path d="M500,231.3 L496.8,229.9 L496.8,232.7 Z" fill="#333"/>
<text x="461.80" y="320.80" font-size="8.8" text-anchor="middle" font-family="Liberation Serif" font-weight="bold" ><tspan font-style="italic">T</tspan> (K)</text></svg>
</body></html>
